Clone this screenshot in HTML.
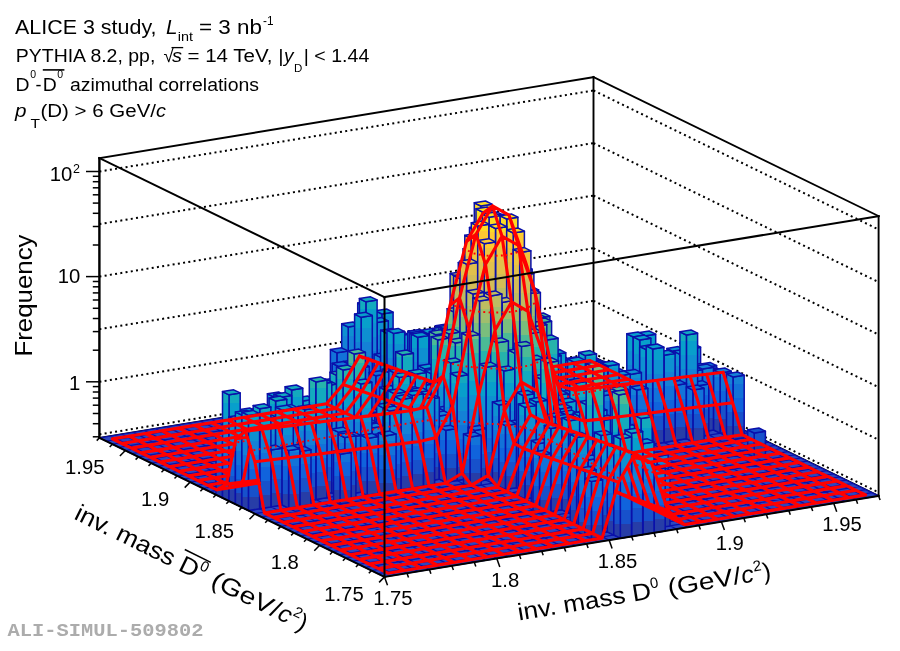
<!DOCTYPE html><html><head><meta charset="utf-8"><title>ALICE 3 D0-D0bar</title><style>html,body{margin:0;padding:0;background:#fff}svg{display:block}</style></head><body><svg width="900" height="651" viewBox="0 0 900 651"><defs><linearGradient id="g" gradientUnits="userSpaceOnUse" x1="0" y1="0" x2="0" y2="-279.8"><stop offset="0.0000" stop-color="#273da7"/><stop offset="0.0500" stop-color="#273da7"/><stop offset="0.0500" stop-color="#1751cb"/><stop offset="0.1000" stop-color="#1751cb"/><stop offset="0.1000" stop-color="#1063dc"/><stop offset="0.1500" stop-color="#1063dc"/><stop offset="0.1500" stop-color="#1272d9"/><stop offset="0.2000" stop-color="#1272d9"/><stop offset="0.2000" stop-color="#1481d6"/><stop offset="0.2500" stop-color="#1481d6"/><stop offset="0.2500" stop-color="#0e90d1"/><stop offset="0.3000" stop-color="#0e90d1"/><stop offset="0.3000" stop-color="#089fcb"/><stop offset="0.3500" stop-color="#089fcb"/><stop offset="0.3500" stop-color="#13aabe"/><stop offset="0.4000" stop-color="#13aabe"/><stop offset="0.4000" stop-color="#26b3ab"/><stop offset="0.4500" stop-color="#26b3ab"/><stop offset="0.4500" stop-color="#4bba95"/><stop offset="0.5000" stop-color="#4bba95"/><stop offset="0.5000" stop-color="#7abe7d"/><stop offset="0.5500" stop-color="#7abe7d"/><stop offset="0.5500" stop-color="#a0be6d"/><stop offset="0.6000" stop-color="#a0be6d"/><stop offset="0.6000" stop-color="#bdbc61"/><stop offset="0.6500" stop-color="#bdbc61"/><stop offset="0.6500" stop-color="#d3bc57"/><stop offset="0.7000" stop-color="#d3bc57"/><stop offset="0.7000" stop-color="#e1c04c"/><stop offset="0.7500" stop-color="#e1c04c"/><stop offset="0.7500" stop-color="#efc43f"/><stop offset="0.8000" stop-color="#efc43f"/><stop offset="0.8000" stop-color="#fec932"/><stop offset="0.8500" stop-color="#fec932"/><stop offset="0.8500" stop-color="#fcdc24"/><stop offset="0.9000" stop-color="#fcdc24"/><stop offset="0.9000" stop-color="#faf015"/><stop offset="0.9500" stop-color="#faf015"/><stop offset="0.9500" stop-color="#f9fb0e"/><stop offset="1.0000" stop-color="#f9fb0e"/></linearGradient></defs><style>.s{fill:url(#g);stroke:#0a10aa;stroke-width:1.5;stroke-linejoin:round}.t{stroke:#0a10aa;stroke-width:1.5;stroke-linejoin:round}</style>
<g stroke="#000" stroke-width="1.9" fill="none" stroke-linecap="square">
<line x1="99.4" y1="158.1" x2="593.5" y2="77.1" />
<line x1="593.5" y1="77.1" x2="878.6" y2="216.1" />
<line x1="99.4" y1="437.9" x2="99.4" y2="158.1" />
<line x1="593.5" y1="356.9" x2="593.5" y2="77.1" />
<line x1="878.6" y1="495.9" x2="878.6" y2="216.1" />
<line x1="99.4" y1="437.9" x2="593.5" y2="356.9" />
<line x1="593.5" y1="356.9" x2="878.6" y2="495.9" />
</g>
<g stroke="#000" stroke-width="2" stroke-dasharray="2 3.3" fill="none">
<line x1="99.4" y1="434.4" x2="593.5" y2="353.4" />
<line x1="593.5" y1="353.4" x2="878.6" y2="492.4" />
<line x1="99.4" y1="381.8" x2="593.5" y2="300.8" />
<line x1="593.5" y1="300.8" x2="878.6" y2="439.8" />
<line x1="99.4" y1="329.2" x2="593.5" y2="248.2" />
<line x1="593.5" y1="248.2" x2="878.6" y2="387.2" />
<line x1="99.4" y1="276.6" x2="593.5" y2="195.6" />
<line x1="593.5" y1="195.6" x2="878.6" y2="334.6" />
<line x1="99.4" y1="224.1" x2="593.5" y2="143.1" />
<line x1="593.5" y1="143.1" x2="878.6" y2="282.1" />
<line x1="99.4" y1="171.5" x2="593.5" y2="90.5" />
<line x1="593.5" y1="90.5" x2="878.6" y2="229.5" />
</g>
<path d="M384.5 576.9 L878.6 495.9 L593.5 356.9 L99.4 437.9Z" fill="#2c46c0"/>
<path d="M384.5 576.9 L99.4 437.9M384.5 576.9 L878.6 495.9M395.7 575.1 L110.6 436.1M378 573.7 L872.1 492.7M407 573.2 L121.9 434.2M371.5 570.6 L865.6 489.6M418.2 571.4 L133.1 432.4M365.1 567.4 L859.2 486.4M429.4 569.5 L144.3 430.5M358.6 564.3 L852.7 483.3M440.6 567.7 L155.5 428.7M352.1 561.1 L846.2 480.1M451.9 565.9 L166.8 426.9M345.6 557.9 L839.7 476.9M463.1 564 L178 425M339.1 554.8 L833.2 473.8M474.3 562.2 L189.2 423.2M332.7 551.6 L826.8 470.6M485.6 560.3 L200.5 421.3M326.2 548.5 L820.3 467.5M496.8 558.5 L211.7 419.5M319.7 545.3 L813.8 464.3M508 556.6 L222.9 417.6M313.2 542.1 L807.3 461.1M519.3 554.8 L234.2 415.8M306.7 539 L800.8 458M530.5 553 L245.4 414M300.3 535.8 L794.4 454.8M541.7 551.1 L256.6 412.1M293.8 532.7 L787.9 451.7M552.9 549.3 L267.8 410.3M287.3 529.5 L781.4 448.5M564.2 547.4 L279.1 408.4M280.8 526.4 L774.9 445.4M575.4 545.6 L290.3 406.6M274.3 523.2 L768.4 442.2M586.6 543.8 L301.5 404.8M267.9 520 L762 439M597.9 541.9 L312.8 402.9M261.4 516.9 L755.5 435.9M609.1 540.1 L324 401.1M254.9 513.7 L749 432.7M620.3 538.2 L335.2 399.2M248.4 510.6 L742.5 429.6M631.5 536.4 L346.4 397.4M241.9 507.4 L736 426.4M642.8 534.6 L357.7 395.6M235.5 504.2 L729.6 423.2M654 532.7 L368.9 393.7M229 501.1 L723.1 420.1M665.2 530.9 L380.1 391.9M222.5 497.9 L716.6 416.9M676.5 529 L391.4 390M216 494.8 L710.1 413.8M687.7 527.2 L402.6 388.2M209.6 491.6 L703.7 410.6M698.9 525.4 L413.8 386.4M203.1 488.4 L697.2 407.4M710.2 523.5 L425.1 384.5M196.6 485.3 L690.7 404.3M721.4 521.7 L436.3 382.7M190.1 482.1 L684.2 401.1M732.6 519.8 L447.5 380.8M183.6 479 L677.7 398M743.8 518 L458.7 379M177.2 475.8 L671.3 394.8M755.1 516.1 L470 377.1M170.7 472.6 L664.8 391.6M766.3 514.3 L481.2 375.3M164.2 469.5 L658.3 388.5M777.5 512.5 L492.4 373.5M157.7 466.3 L651.8 385.3M788.8 510.6 L503.7 371.6M151.2 463.2 L645.3 382.2M800 508.8 L514.9 369.8M144.8 460 L638.9 379M811.2 506.9 L526.1 367.9M138.3 456.9 L632.4 375.9M822.5 505.1 L537.4 366.1M131.8 453.7 L625.9 372.7M833.7 503.3 L548.6 364.3M125.3 450.5 L619.4 369.5M844.9 501.4 L559.8 362.4M118.8 447.4 L612.9 366.4M856.1 499.6 L571 360.6M112.4 444.2 L606.5 363.2M867.4 497.7 L582.3 358.7M105.9 441.1 L600 360.1M878.6 495.9 L593.5 356.9M99.4 437.9 L593.5 356.9" stroke="#0a10aa" stroke-width="1.2" fill="none"/>
<g transform="translate(364.2 398.7)"><path class="s" d="M0 0l11.2 -1.8 v-92.5 l-11.2 1.8z"/><path class="s" d="M0 0l-6.5 -3.2 v-92.5 l6.5 3.2z"/><path class="t" fill="#089fcb" d="M0 -92.5 l11.2 -1.8 l-6.5 -3.2 l-11.2 1.8z"/></g>
<g transform="translate(352.9 400.6)"><path class="s" d="M0 0l11.2 -1.8 v-54.1 l-11.2 1.8z"/><path class="s" d="M0 0l-6.5 -3.2 v-54.1 l6.5 3.2z"/><path class="t" fill="#1272d9" d="M0 -54.1 l11.2 -1.8 l-6.5 -3.2 l-11.2 1.8z"/></g>
<g transform="translate(330.5 404.2)"><path class="s" d="M0 0l11.2 -1.8 v-20.1 l-11.2 1.8z"/><path class="s" d="M0 0l-6.5 -3.2 v-20.1 l6.5 3.2z"/><path class="t" fill="#1751cb" d="M0 -20.1 l11.2 -1.8 l-6.5 -3.2 l-11.2 1.8z"/></g>
<g transform="translate(381.9 400)"><path class="s" d="M0 0l11.2 -1.8 v-86 l-11.2 1.8z"/><path class="s" d="M0 0l-6.5 -3.2 v-86 l6.5 3.2z"/><path class="t" fill="#089fcb" d="M0 -86 l11.2 -1.8 l-6.5 -3.2 l-11.2 1.8z"/></g>
<g transform="translate(348.2 405.6)"><path class="s" d="M0 0l11.2 -1.8 v-78.6 l-11.2 1.8z"/><path class="s" d="M0 0l-6.5 -3.2 v-78.6 l6.5 3.2z"/><path class="t" fill="#0e90d1" d="M0 -78.6 l11.2 -1.8 l-6.5 -3.2 l-11.2 1.8z"/></g>
<g transform="translate(336.9 407.4)"><path class="s" d="M0 0l11.2 -1.8 v-54.6 l-11.2 1.8z"/><path class="s" d="M0 0l-6.5 -3.2 v-54.6 l6.5 3.2z"/><path class="t" fill="#1272d9" d="M0 -54.6 l11.2 -1.8 l-6.5 -3.2 l-11.2 1.8z"/></g>
<g transform="translate(325.7 409.2)"><path class="s" d="M0 0l11.2 -1.8 v-25.5 l-11.2 1.8z"/><path class="s" d="M0 0l-6.5 -3.2 v-25.5 l6.5 3.2z"/><path class="t" fill="#1751cb" d="M0 -25.5 l11.2 -1.8 l-6.5 -3.2 l-11.2 1.8z"/></g>
<g transform="translate(388.3 403.2)"><path class="s" d="M0 0l11.2 -1.8 v-55.9 l-11.2 1.8z"/><path class="s" d="M0 0l-6.5 -3.2 v-55.9 l6.5 3.2z"/><path class="t" fill="#1272d9" d="M0 -55.9 l11.2 -1.8 l-6.5 -3.2 l-11.2 1.8z"/></g>
<g transform="translate(377.1 405)"><path class="s" d="M0 0l11.2 -1.8 v-82.4 l-11.2 1.8z"/><path class="s" d="M0 0l-6.5 -3.2 v-82.4 l6.5 3.2z"/><path class="t" fill="#0e90d1" d="M0 -82.4 l11.2 -1.8 l-6.5 -3.2 l-11.2 1.8z"/></g>
<g transform="translate(365.9 406.9)"><path class="s" d="M0 0l11.2 -1.8 v-105.1 l-11.2 1.8z"/><path class="s" d="M0 0l-6.5 -3.2 v-105.1 l6.5 3.2z"/><path class="t" fill="#13aabe" d="M0 -105.1 l11.2 -1.8 l-6.5 -3.2 l-11.2 1.8z"/></g>
<g transform="translate(417.3 402.7)"><path class="s" d="M0 0l11.2 -1.8 v-60.5 l-11.2 1.8z"/><path class="s" d="M0 0l-6.5 -3.2 v-60.5 l6.5 3.2z"/><path class="t" fill="#1481d6" d="M0 -60.5 l11.2 -1.8 l-6.5 -3.2 l-11.2 1.8z"/></g>
<g transform="translate(394.8 406.4)"><path class="s" d="M0 0l11.2 -1.8 v-60.2 l-11.2 1.8z"/><path class="s" d="M0 0l-6.5 -3.2 v-60.2 l6.5 3.2z"/><path class="t" fill="#1481d6" d="M0 -60.2 l11.2 -1.8 l-6.5 -3.2 l-11.2 1.8z"/></g>
<g transform="translate(361.1 411.9)"><path class="s" d="M0 0l11.2 -1.8 v-94.6 l-11.2 1.8z"/><path class="s" d="M0 0l-6.5 -3.2 v-94.6 l6.5 3.2z"/><path class="t" fill="#089fcb" d="M0 -94.6 l11.2 -1.8 l-6.5 -3.2 l-11.2 1.8z"/></g>
<g transform="translate(349.9 413.7)"><path class="s" d="M0 0l11.2 -1.8 v-48.9 l-11.2 1.8z"/><path class="s" d="M0 0l-6.5 -3.2 v-48.9 l6.5 3.2z"/><path class="t" fill="#1272d9" d="M0 -48.9 l11.2 -1.8 l-6.5 -3.2 l-11.2 1.8z"/></g>
<g transform="translate(338.7 415.6)"><path class="s" d="M0 0l11.2 -1.8 v-49.1 l-11.2 1.8z"/><path class="s" d="M0 0l-6.5 -3.2 v-49.1 l6.5 3.2z"/><path class="t" fill="#1272d9" d="M0 -49.1 l11.2 -1.8 l-6.5 -3.2 l-11.2 1.8z"/></g>
<g transform="translate(390.1 411.4)"><path class="s" d="M0 0l11.2 -1.8 v-75.7 l-11.2 1.8z"/><path class="s" d="M0 0l-6.5 -3.2 v-75.7 l6.5 3.2z"/><path class="t" fill="#0e90d1" d="M0 -75.7 l11.2 -1.8 l-6.5 -3.2 l-11.2 1.8z"/></g>
<g transform="translate(396.6 414.5)"><path class="s" d="M0 0l11.2 -1.8 v-78.5 l-11.2 1.8z"/><path class="s" d="M0 0l-6.5 -3.2 v-78.5 l6.5 3.2z"/><path class="t" fill="#0e90d1" d="M0 -78.5 l11.2 -1.8 l-6.5 -3.2 l-11.2 1.8z"/></g>
<g transform="translate(436.7 412.1)"><path class="s" d="M0 0l11.2 -1.8 v-54.1 l-11.2 1.8z"/><path class="s" d="M0 0l-6.5 -3.2 v-54.1 l6.5 3.2z"/><path class="t" fill="#1272d9" d="M0 -54.1 l11.2 -1.8 l-6.5 -3.2 l-11.2 1.8z"/></g>
<g transform="translate(425.5 414)"><path class="s" d="M0 0l11.2 -1.8 v-52.8 l-11.2 1.8z"/><path class="s" d="M0 0l-6.5 -3.2 v-52.8 l6.5 3.2z"/><path class="t" fill="#1272d9" d="M0 -52.8 l11.2 -1.8 l-6.5 -3.2 l-11.2 1.8z"/></g>
<g transform="translate(414.3 415.8)"><path class="s" d="M0 0l11.2 -1.8 v-81.3 l-11.2 1.8z"/><path class="s" d="M0 0l-6.5 -3.2 v-81.3 l6.5 3.2z"/><path class="t" fill="#0e90d1" d="M0 -81.3 l11.2 -1.8 l-6.5 -3.2 l-11.2 1.8z"/></g>
<g transform="translate(403 417.7)"><path class="s" d="M0 0l11.2 -1.8 v-60.8 l-11.2 1.8z"/><path class="s" d="M0 0l-6.5 -3.2 v-60.8 l6.5 3.2z"/><path class="t" fill="#1481d6" d="M0 -60.8 l11.2 -1.8 l-6.5 -3.2 l-11.2 1.8z"/></g>
<g transform="translate(380.6 421.4)"><path class="s" d="M0 0l11.2 -1.8 v-64 l-11.2 1.8z"/><path class="s" d="M0 0l-6.5 -3.2 v-64 l6.5 3.2z"/><path class="t" fill="#1481d6" d="M0 -64 l11.2 -1.8 l-6.5 -3.2 l-11.2 1.8z"/></g>
<g transform="translate(358.1 425)"><path class="s" d="M0 0l11.2 -1.8 v-56.8 l-11.2 1.8z"/><path class="s" d="M0 0l-6.5 -3.2 v-56.8 l6.5 3.2z"/><path class="t" fill="#1481d6" d="M0 -56.8 l11.2 -1.8 l-6.5 -3.2 l-11.2 1.8z"/></g>
<g transform="translate(409.5 420.8)"><path class="s" d="M0 0l11.2 -1.8 v-63.2 l-11.2 1.8z"/><path class="s" d="M0 0l-6.5 -3.2 v-63.2 l6.5 3.2z"/><path class="t" fill="#1481d6" d="M0 -63.2 l11.2 -1.8 l-6.5 -3.2 l-11.2 1.8z"/></g>
<g transform="translate(387.1 424.5)"><path class="s" d="M0 0l11.2 -1.8 v-91.1 l-11.2 1.8z"/><path class="s" d="M0 0l-6.5 -3.2 v-91.1 l6.5 3.2z"/><path class="t" fill="#089fcb" d="M0 -91.1 l11.2 -1.8 l-6.5 -3.2 l-11.2 1.8z"/></g>
<g transform="translate(375.8 426.4)"><path class="s" d="M0 0l11.2 -1.8 v-50.6 l-11.2 1.8z"/><path class="s" d="M0 0l-6.5 -3.2 v-50.6 l6.5 3.2z"/><path class="t" fill="#1272d9" d="M0 -50.6 l11.2 -1.8 l-6.5 -3.2 l-11.2 1.8z"/></g>
<g transform="translate(438.5 420.3)"><path class="s" d="M0 0l11.2 -1.8 v-49.5 l-11.2 1.8z"/><path class="s" d="M0 0l-6.5 -3.2 v-49.5 l6.5 3.2z"/><path class="t" fill="#1272d9" d="M0 -49.5 l11.2 -1.8 l-6.5 -3.2 l-11.2 1.8z"/></g>
<g transform="translate(427.2 422.2)"><path class="s" d="M0 0l11.2 -1.8 v-88.8 l-11.2 1.8z"/><path class="s" d="M0 0l-6.5 -3.2 v-88.8 l6.5 3.2z"/><path class="t" fill="#089fcb" d="M0 -88.8 l11.2 -1.8 l-6.5 -3.2 l-11.2 1.8z"/></g>
<g transform="translate(416 424)"><path class="s" d="M0 0l11.2 -1.8 v-88 l-11.2 1.8z"/><path class="s" d="M0 0l-6.5 -3.2 v-88 l6.5 3.2z"/><path class="t" fill="#089fcb" d="M0 -88 l11.2 -1.8 l-6.5 -3.2 l-11.2 1.8z"/></g>
<g transform="translate(404.8 425.8)"><path class="s" d="M0 0l11.2 -1.8 v-51.8 l-11.2 1.8z"/><path class="s" d="M0 0l-6.5 -3.2 v-51.8 l6.5 3.2z"/><path class="t" fill="#1272d9" d="M0 -51.8 l11.2 -1.8 l-6.5 -3.2 l-11.2 1.8z"/></g>
<g transform="translate(393.5 427.7)"><path class="s" d="M0 0l11.2 -1.8 v-94.3 l-11.2 1.8z"/><path class="s" d="M0 0l-6.5 -3.2 v-94.3 l6.5 3.2z"/><path class="t" fill="#089fcb" d="M0 -94.3 l11.2 -1.8 l-6.5 -3.2 l-11.2 1.8z"/></g>
<g transform="translate(456.2 421.6)"><path class="s" d="M0 0l11.2 -1.8 v-55 l-11.2 1.8z"/><path class="s" d="M0 0l-6.5 -3.2 v-55 l6.5 3.2z"/><path class="t" fill="#1272d9" d="M0 -55 l11.2 -1.8 l-6.5 -3.2 l-11.2 1.8z"/></g>
<g transform="translate(444.9 423.5)"><path class="s" d="M0 0l11.2 -1.8 v-94.1 l-11.2 1.8z"/><path class="s" d="M0 0l-6.5 -3.2 v-94.1 l6.5 3.2z"/><path class="t" fill="#089fcb" d="M0 -94.1 l11.2 -1.8 l-6.5 -3.2 l-11.2 1.8z"/></g>
<g transform="translate(433.7 425.3)"><path class="s" d="M0 0l11.2 -1.8 v-87.2 l-11.2 1.8z"/><path class="s" d="M0 0l-6.5 -3.2 v-87.2 l6.5 3.2z"/><path class="t" fill="#089fcb" d="M0 -87.2 l11.2 -1.8 l-6.5 -3.2 l-11.2 1.8z"/></g>
<g transform="translate(422.5 427.1)"><path class="s" d="M0 0l11.2 -1.8 v-61.1 l-11.2 1.8z"/><path class="s" d="M0 0l-6.5 -3.2 v-61.1 l6.5 3.2z"/><path class="t" fill="#1481d6" d="M0 -61.1 l11.2 -1.8 l-6.5 -3.2 l-11.2 1.8z"/></g>
<g transform="translate(388.8 432.7)"><path class="s" d="M0 0l11.2 -1.8 v-60.2 l-11.2 1.8z"/><path class="s" d="M0 0l-6.5 -3.2 v-60.2 l6.5 3.2z"/><path class="t" fill="#1481d6" d="M0 -60.2 l11.2 -1.8 l-6.5 -3.2 l-11.2 1.8z"/></g>
<g transform="translate(462.6 424.8)"><path class="s" d="M0 0l11.2 -1.8 v-53.7 l-11.2 1.8z"/><path class="s" d="M0 0l-6.5 -3.2 v-53.7 l6.5 3.2z"/><path class="t" fill="#1272d9" d="M0 -53.7 l11.2 -1.8 l-6.5 -3.2 l-11.2 1.8z"/></g>
<g transform="translate(440.2 428.5)"><path class="s" d="M0 0l11.2 -1.8 v-94.7 l-11.2 1.8z"/><path class="s" d="M0 0l-6.5 -3.2 v-94.7 l6.5 3.2z"/><path class="t" fill="#089fcb" d="M0 -94.7 l11.2 -1.8 l-6.5 -3.2 l-11.2 1.8z"/></g>
<g transform="translate(429 430.3)"><path class="s" d="M0 0l11.2 -1.8 v-85.7 l-11.2 1.8z"/><path class="s" d="M0 0l-6.5 -3.2 v-85.7 l6.5 3.2z"/><path class="t" fill="#089fcb" d="M0 -85.7 l11.2 -1.8 l-6.5 -3.2 l-11.2 1.8z"/></g>
<g transform="translate(417.7 432.1)"><path class="s" d="M0 0l11.2 -1.8 v-94.8 l-11.2 1.8z"/><path class="s" d="M0 0l-6.5 -3.2 v-94.8 l6.5 3.2z"/><path class="t" fill="#089fcb" d="M0 -94.8 l11.2 -1.8 l-6.5 -3.2 l-11.2 1.8z"/></g>
<g transform="translate(395.3 435.8)"><path class="s" d="M0 0l11.2 -1.8 v-62.5 l-11.2 1.8z"/><path class="s" d="M0 0l-6.5 -3.2 v-62.5 l6.5 3.2z"/><path class="t" fill="#1481d6" d="M0 -62.5 l11.2 -1.8 l-6.5 -3.2 l-11.2 1.8z"/></g>
<g transform="translate(446.7 431.6)"><path class="s" d="M0 0l11.2 -1.8 v-94.1 l-11.2 1.8z"/><path class="s" d="M0 0l-6.5 -3.2 v-94.1 l6.5 3.2z"/><path class="t" fill="#089fcb" d="M0 -94.1 l11.2 -1.8 l-6.5 -3.2 l-11.2 1.8z"/></g>
<g transform="translate(435.4 433.5)"><path class="s" d="M0 0l11.2 -1.8 v-61.5 l-11.2 1.8z"/><path class="s" d="M0 0l-6.5 -3.2 v-61.5 l6.5 3.2z"/><path class="t" fill="#1481d6" d="M0 -61.5 l11.2 -1.8 l-6.5 -3.2 l-11.2 1.8z"/></g>
<g transform="translate(424.2 435.3)"><path class="s" d="M0 0l11.2 -1.8 v-62.4 l-11.2 1.8z"/><path class="s" d="M0 0l-6.5 -3.2 v-62.4 l6.5 3.2z"/><path class="t" fill="#1481d6" d="M0 -62.4 l11.2 -1.8 l-6.5 -3.2 l-11.2 1.8z"/></g>
<g transform="translate(413 437.1)"><path class="s" d="M0 0l11.2 -1.8 v-54.3 l-11.2 1.8z"/><path class="s" d="M0 0l-6.5 -3.2 v-54.3 l6.5 3.2z"/><path class="t" fill="#1272d9" d="M0 -54.3 l11.2 -1.8 l-6.5 -3.2 l-11.2 1.8z"/></g>
<g transform="translate(464.4 432.9)"><path class="s" d="M0 0l11.2 -1.8 v-58.1 l-11.2 1.8z"/><path class="s" d="M0 0l-6.5 -3.2 v-58.1 l6.5 3.2z"/><path class="t" fill="#1481d6" d="M0 -58.1 l11.2 -1.8 l-6.5 -3.2 l-11.2 1.8z"/></g>
<g transform="translate(453.1 434.8)"><path class="s" d="M0 0l11.2 -1.8 v-52.9 l-11.2 1.8z"/><path class="s" d="M0 0l-6.5 -3.2 v-52.9 l6.5 3.2z"/><path class="t" fill="#1272d9" d="M0 -52.9 l11.2 -1.8 l-6.5 -3.2 l-11.2 1.8z"/></g>
<g transform="translate(441.9 436.6)"><path class="s" d="M0 0l11.2 -1.8 v-107.6 l-11.2 1.8z"/><path class="s" d="M0 0l-6.5 -3.2 v-107.6 l6.5 3.2z"/><path class="t" fill="#13aabe" d="M0 -107.6 l11.2 -1.8 l-6.5 -3.2 l-11.2 1.8z"/></g>
<g transform="translate(430.7 438.5)"><path class="s" d="M0 0l11.2 -1.8 v-63.7 l-11.2 1.8z"/><path class="s" d="M0 0l-6.5 -3.2 v-63.7 l6.5 3.2z"/><path class="t" fill="#1481d6" d="M0 -63.7 l11.2 -1.8 l-6.5 -3.2 l-11.2 1.8z"/></g>
<g transform="translate(419.5 440.3)"><path class="s" d="M0 0l11.2 -1.8 v-59.6 l-11.2 1.8z"/><path class="s" d="M0 0l-6.5 -3.2 v-59.6 l6.5 3.2z"/><path class="t" fill="#1481d6" d="M0 -59.6 l11.2 -1.8 l-6.5 -3.2 l-11.2 1.8z"/></g>
<g transform="translate(448.4 439.8)"><path class="s" d="M0 0l11.2 -1.8 v-63 l-11.2 1.8z"/><path class="s" d="M0 0l-6.5 -3.2 v-63 l6.5 3.2z"/><path class="t" fill="#1481d6" d="M0 -63 l11.2 -1.8 l-6.5 -3.2 l-11.2 1.8z"/></g>
<g transform="translate(437.2 441.6)"><path class="s" d="M0 0l11.2 -1.8 v-56.4 l-11.2 1.8z"/><path class="s" d="M0 0l-6.5 -3.2 v-56.4 l6.5 3.2z"/><path class="t" fill="#1481d6" d="M0 -56.4 l11.2 -1.8 l-6.5 -3.2 l-11.2 1.8z"/></g>
<g transform="translate(414.7 445.3)"><path class="s" d="M0 0l11.2 -1.8 v-54.9 l-11.2 1.8z"/><path class="s" d="M0 0l-6.5 -3.2 v-54.9 l6.5 3.2z"/><path class="t" fill="#1272d9" d="M0 -54.9 l11.2 -1.8 l-6.5 -3.2 l-11.2 1.8z"/></g>
<g transform="translate(488.6 437.4)"><path class="s" d="M0 0l11.2 -1.8 v-62.2 l-11.2 1.8z"/><path class="s" d="M0 0l-6.5 -3.2 v-62.2 l6.5 3.2z"/><path class="t" fill="#1481d6" d="M0 -62.2 l11.2 -1.8 l-6.5 -3.2 l-11.2 1.8z"/></g>
<g transform="translate(466.1 441.1)"><path class="s" d="M0 0l11.2 -1.8 v-56.7 l-11.2 1.8z"/><path class="s" d="M0 0l-6.5 -3.2 v-56.7 l6.5 3.2z"/><path class="t" fill="#1481d6" d="M0 -56.7 l11.2 -1.8 l-6.5 -3.2 l-11.2 1.8z"/></g>
<g transform="translate(454.9 442.9)"><path class="s" d="M0 0l11.2 -1.8 v-115.3 l-11.2 1.8z"/><path class="s" d="M0 0l-6.5 -3.2 v-115.3 l6.5 3.2z"/><path class="t" fill="#26b3ab" d="M0 -115.3 l11.2 -1.8 l-6.5 -3.2 l-11.2 1.8z"/></g>
<g transform="translate(443.6 444.8)"><path class="s" d="M0 0l11.2 -1.8 v-111.2 l-11.2 1.8z"/><path class="s" d="M0 0l-6.5 -3.2 v-111.2 l6.5 3.2z"/><path class="t" fill="#13aabe" d="M0 -111.2 l11.2 -1.8 l-6.5 -3.2 l-11.2 1.8z"/></g>
<g transform="translate(495 440.6)"><path class="s" d="M0 0l11.2 -1.8 v-55.3 l-11.2 1.8z"/><path class="s" d="M0 0l-6.5 -3.2 v-55.3 l6.5 3.2z"/><path class="t" fill="#1272d9" d="M0 -55.3 l11.2 -1.8 l-6.5 -3.2 l-11.2 1.8z"/></g>
<g transform="translate(461.4 446.1)"><path class="s" d="M0 0l11.2 -1.8 v-90.3 l-11.2 1.8z"/><path class="s" d="M0 0l-6.5 -3.2 v-90.3 l6.5 3.2z"/><path class="t" fill="#089fcb" d="M0 -90.3 l11.2 -1.8 l-6.5 -3.2 l-11.2 1.8z"/></g>
<g transform="translate(438.9 449.8)"><path class="s" d="M0 0l11.2 -1.8 v-118 l-11.2 1.8z"/><path class="s" d="M0 0l-6.5 -3.2 v-118 l6.5 3.2z"/><path class="t" fill="#26b3ab" d="M0 -118 l11.2 -1.8 l-6.5 -3.2 l-11.2 1.8z"/></g>
<g transform="translate(416.4 453.5)"><path class="s" d="M0 0l11.2 -1.8 v-59.7 l-11.2 1.8z"/><path class="s" d="M0 0l-6.5 -3.2 v-59.7 l6.5 3.2z"/><path class="t" fill="#1481d6" d="M0 -59.7 l11.2 -1.8 l-6.5 -3.2 l-11.2 1.8z"/></g>
<g transform="translate(501.5 443.7)"><path class="s" d="M0 0l11.2 -1.8 v-55.4 l-11.2 1.8z"/><path class="s" d="M0 0l-6.5 -3.2 v-55.4 l6.5 3.2z"/><path class="t" fill="#1272d9" d="M0 -55.4 l11.2 -1.8 l-6.5 -3.2 l-11.2 1.8z"/></g>
<g transform="translate(490.3 445.6)"><path class="s" d="M0 0l11.2 -1.8 v-53.8 l-11.2 1.8z"/><path class="s" d="M0 0l-6.5 -3.2 v-53.8 l6.5 3.2z"/><path class="t" fill="#1272d9" d="M0 -53.8 l11.2 -1.8 l-6.5 -3.2 l-11.2 1.8z"/></g>
<g transform="translate(467.8 449.3)"><path class="s" d="M0 0l11.2 -1.8 v-92.3 l-11.2 1.8z"/><path class="s" d="M0 0l-6.5 -3.2 v-92.3 l6.5 3.2z"/><path class="t" fill="#089fcb" d="M0 -92.3 l11.2 -1.8 l-6.5 -3.2 l-11.2 1.8z"/></g>
<g transform="translate(456.6 451.1)"><path class="s" d="M0 0l11.2 -1.8 v-174.4 l-11.2 1.8z"/><path class="s" d="M0 0l-6.5 -3.2 v-174.4 l6.5 3.2z"/><path class="t" fill="#bdbc61" d="M0 -174.4 l11.2 -1.8 l-6.5 -3.2 l-11.2 1.8z"/></g>
<g transform="translate(445.4 452.9)"><path class="s" d="M0 0l11.2 -1.8 v-123.2 l-11.2 1.8z"/><path class="s" d="M0 0l-6.5 -3.2 v-123.2 l6.5 3.2z"/><path class="t" fill="#26b3ab" d="M0 -123.2 l11.2 -1.8 l-6.5 -3.2 l-11.2 1.8z"/></g>
<g transform="translate(422.9 456.6)"><path class="s" d="M0 0l11.2 -1.8 v-58.5 l-11.2 1.8z"/><path class="s" d="M0 0l-6.5 -3.2 v-58.5 l6.5 3.2z"/><path class="t" fill="#1481d6" d="M0 -58.5 l11.2 -1.8 l-6.5 -3.2 l-11.2 1.8z"/></g>
<g transform="translate(620.3 428.5)"><path class="s" d="M0 0l11.2 -1.8 v-52.1 l-11.2 1.8z"/><path class="s" d="M0 0l-6.5 -3.2 v-52.1 l6.5 3.2z"/><path class="t" fill="#1272d9" d="M0 -52.1 l11.2 -1.8 l-6.5 -3.2 l-11.2 1.8z"/></g>
<g transform="translate(519.2 445.1)"><path class="s" d="M0 0l11.2 -1.8 v-57.5 l-11.2 1.8z"/><path class="s" d="M0 0l-6.5 -3.2 v-57.5 l6.5 3.2z"/><path class="t" fill="#1481d6" d="M0 -57.5 l11.2 -1.8 l-6.5 -3.2 l-11.2 1.8z"/></g>
<g transform="translate(496.8 448.7)"><path class="s" d="M0 0l11.2 -1.8 v-104.1 l-11.2 1.8z"/><path class="s" d="M0 0l-6.5 -3.2 v-104.1 l6.5 3.2z"/><path class="t" fill="#13aabe" d="M0 -104.1 l11.2 -1.8 l-6.5 -3.2 l-11.2 1.8z"/></g>
<g transform="translate(485.5 450.6)"><path class="s" d="M0 0l11.2 -1.8 v-168.4 l-11.2 1.8z"/><path class="s" d="M0 0l-6.5 -3.2 v-168.4 l6.5 3.2z"/><path class="t" fill="#bdbc61" d="M0 -168.4 l11.2 -1.8 l-6.5 -3.2 l-11.2 1.8z"/></g>
<g transform="translate(474.3 452.4)"><path class="s" d="M0 0l11.2 -1.8 v-155.1 l-11.2 1.8z"/><path class="s" d="M0 0l-6.5 -3.2 v-155.1 l6.5 3.2z"/><path class="t" fill="#a0be6d" d="M0 -155.1 l11.2 -1.8 l-6.5 -3.2 l-11.2 1.8z"/></g>
<g transform="translate(463.1 454.3)"><path class="s" d="M0 0l11.2 -1.8 v-123.2 l-11.2 1.8z"/><path class="s" d="M0 0l-6.5 -3.2 v-123.2 l6.5 3.2z"/><path class="t" fill="#26b3ab" d="M0 -123.2 l11.2 -1.8 l-6.5 -3.2 l-11.2 1.8z"/></g>
<g transform="translate(451.9 456.1)"><path class="s" d="M0 0l11.2 -1.8 v-127.2 l-11.2 1.8z"/><path class="s" d="M0 0l-6.5 -3.2 v-127.2 l6.5 3.2z"/><path class="t" fill="#4bba95" d="M0 -127.2 l11.2 -1.8 l-6.5 -3.2 l-11.2 1.8z"/></g>
<g transform="translate(440.6 457.9)"><path class="s" d="M0 0l11.2 -1.8 v-80.5 l-11.2 1.8z"/><path class="s" d="M0 0l-6.5 -3.2 v-80.5 l6.5 3.2z"/><path class="t" fill="#0e90d1" d="M0 -80.5 l11.2 -1.8 l-6.5 -3.2 l-11.2 1.8z"/></g>
<g transform="translate(429.4 459.8)"><path class="s" d="M0 0l11.2 -1.8 v-81.7 l-11.2 1.8z"/><path class="s" d="M0 0l-6.5 -3.2 v-81.7 l6.5 3.2z"/><path class="t" fill="#0e90d1" d="M0 -81.7 l11.2 -1.8 l-6.5 -3.2 l-11.2 1.8z"/></g>
<g transform="translate(373.2 469)"><path class="s" d="M0 0l11.2 -1.8 v-51.1 l-11.2 1.8z"/><path class="s" d="M0 0l-6.5 -3.2 v-51.1 l6.5 3.2z"/><path class="t" fill="#1272d9" d="M0 -51.1 l11.2 -1.8 l-6.5 -3.2 l-11.2 1.8z"/></g>
<g transform="translate(272.2 485.6)"><path class="s" d="M0 0l11.2 -1.8 v-49.2 l-11.2 1.8z"/><path class="s" d="M0 0l-6.5 -3.2 v-49.2 l6.5 3.2z"/><path class="t" fill="#1272d9" d="M0 -49.2 l11.2 -1.8 l-6.5 -3.2 l-11.2 1.8z"/></g>
<g transform="translate(705.4 418.8)"><path class="s" d="M0 0l11.2 -1.8 v-51.4 l-11.2 1.8z"/><path class="s" d="M0 0l-6.5 -3.2 v-51.4 l6.5 3.2z"/><path class="t" fill="#1272d9" d="M0 -51.4 l11.2 -1.8 l-6.5 -3.2 l-11.2 1.8z"/></g>
<g transform="translate(694.2 420.6)"><path class="s" d="M0 0l11.2 -1.8 v-49.1 l-11.2 1.8z"/><path class="s" d="M0 0l-6.5 -3.2 v-49.1 l6.5 3.2z"/><path class="t" fill="#1272d9" d="M0 -49.1 l11.2 -1.8 l-6.5 -3.2 l-11.2 1.8z"/></g>
<g transform="translate(638 429.8)"><path class="s" d="M0 0l11.2 -1.8 v-86.7 l-11.2 1.8z"/><path class="s" d="M0 0l-6.5 -3.2 v-86.7 l6.5 3.2z"/><path class="t" fill="#089fcb" d="M0 -86.7 l11.2 -1.8 l-6.5 -3.2 l-11.2 1.8z"/></g>
<g transform="translate(626.8 431.6)"><path class="s" d="M0 0l11.2 -1.8 v-54.6 l-11.2 1.8z"/><path class="s" d="M0 0l-6.5 -3.2 v-54.6 l6.5 3.2z"/><path class="t" fill="#1272d9" d="M0 -54.6 l11.2 -1.8 l-6.5 -3.2 l-11.2 1.8z"/></g>
<g transform="translate(615.5 433.5)"><path class="s" d="M0 0l11.2 -1.8 v-59.5 l-11.2 1.8z"/><path class="s" d="M0 0l-6.5 -3.2 v-59.5 l6.5 3.2z"/><path class="t" fill="#1481d6" d="M0 -59.5 l11.2 -1.8 l-6.5 -3.2 l-11.2 1.8z"/></g>
<g transform="translate(593.1 437.2)"><path class="s" d="M0 0l11.2 -1.8 v-66.7 l-11.2 1.8z"/><path class="s" d="M0 0l-6.5 -3.2 v-66.7 l6.5 3.2z"/><path class="t" fill="#1481d6" d="M0 -66.7 l11.2 -1.8 l-6.5 -3.2 l-11.2 1.8z"/></g>
<g transform="translate(570.6 440.9)"><path class="s" d="M0 0l11.2 -1.8 v-78.9 l-11.2 1.8z"/><path class="s" d="M0 0l-6.5 -3.2 v-78.9 l6.5 3.2z"/><path class="t" fill="#0e90d1" d="M0 -78.9 l11.2 -1.8 l-6.5 -3.2 l-11.2 1.8z"/></g>
<g transform="translate(548.2 444.5)"><path class="s" d="M0 0l11.2 -1.8 v-54.1 l-11.2 1.8z"/><path class="s" d="M0 0l-6.5 -3.2 v-54.1 l6.5 3.2z"/><path class="t" fill="#1272d9" d="M0 -54.1 l11.2 -1.8 l-6.5 -3.2 l-11.2 1.8z"/></g>
<g transform="translate(536.9 446.4)"><path class="s" d="M0 0l11.2 -1.8 v-58.3 l-11.2 1.8z"/><path class="s" d="M0 0l-6.5 -3.2 v-58.3 l6.5 3.2z"/><path class="t" fill="#1481d6" d="M0 -58.3 l11.2 -1.8 l-6.5 -3.2 l-11.2 1.8z"/></g>
<g transform="translate(514.5 450.1)"><path class="s" d="M0 0l11.2 -1.8 v-57.8 l-11.2 1.8z"/><path class="s" d="M0 0l-6.5 -3.2 v-57.8 l6.5 3.2z"/><path class="t" fill="#1481d6" d="M0 -57.8 l11.2 -1.8 l-6.5 -3.2 l-11.2 1.8z"/></g>
<g transform="translate(503.2 451.9)"><path class="s" d="M0 0l11.2 -1.8 v-139.8 l-11.2 1.8z"/><path class="s" d="M0 0l-6.5 -3.2 v-139.8 l6.5 3.2z"/><path class="t" fill="#4bba95" d="M0 -139.8 l11.2 -1.8 l-6.5 -3.2 l-11.2 1.8z"/></g>
<g transform="translate(492 453.7)"><path class="s" d="M0 0l11.2 -1.8 v-236.7 l-11.2 1.8z"/><path class="s" d="M0 0l-6.5 -3.2 v-236.7 l6.5 3.2z"/><path class="t" fill="#fec932" d="M0 -236.7 l11.2 -1.8 l-6.5 -3.2 l-11.2 1.8z"/></g>
<g transform="translate(480.8 455.6)"><path class="s" d="M0 0l11.2 -1.8 v-249.6 l-11.2 1.8z"/><path class="s" d="M0 0l-6.5 -3.2 v-249.6 l6.5 3.2z"/><path class="t" fill="#fcdc24" d="M0 -249.6 l11.2 -1.8 l-6.5 -3.2 l-11.2 1.8z"/></g>
<g transform="translate(469.6 457.4)"><path class="s" d="M0 0l11.2 -1.8 v-205.4 l-11.2 1.8z"/><path class="s" d="M0 0l-6.5 -3.2 v-205.4 l6.5 3.2z"/><path class="t" fill="#e1c04c" d="M0 -205.4 l11.2 -1.8 l-6.5 -3.2 l-11.2 1.8z"/></g>
<g transform="translate(458.3 459.3)"><path class="s" d="M0 0l11.2 -1.8 v-131.1 l-11.2 1.8z"/><path class="s" d="M0 0l-6.5 -3.2 v-131.1 l6.5 3.2z"/><path class="t" fill="#4bba95" d="M0 -131.1 l11.2 -1.8 l-6.5 -3.2 l-11.2 1.8z"/></g>
<g transform="translate(447.1 461.1)"><path class="s" d="M0 0l11.2 -1.8 v-129.1 l-11.2 1.8z"/><path class="s" d="M0 0l-6.5 -3.2 v-129.1 l6.5 3.2z"/><path class="t" fill="#4bba95" d="M0 -129.1 l11.2 -1.8 l-6.5 -3.2 l-11.2 1.8z"/></g>
<g transform="translate(435.9 462.9)"><path class="s" d="M0 0l11.2 -1.8 v-128.1 l-11.2 1.8z"/><path class="s" d="M0 0l-6.5 -3.2 v-128.1 l6.5 3.2z"/><path class="t" fill="#4bba95" d="M0 -128.1 l11.2 -1.8 l-6.5 -3.2 l-11.2 1.8z"/></g>
<g transform="translate(424.6 464.8)"><path class="s" d="M0 0l11.2 -1.8 v-95.9 l-11.2 1.8z"/><path class="s" d="M0 0l-6.5 -3.2 v-95.9 l6.5 3.2z"/><path class="t" fill="#089fcb" d="M0 -95.9 l11.2 -1.8 l-6.5 -3.2 l-11.2 1.8z"/></g>
<g transform="translate(413.4 466.6)"><path class="s" d="M0 0l11.2 -1.8 v-61.7 l-11.2 1.8z"/><path class="s" d="M0 0l-6.5 -3.2 v-61.7 l6.5 3.2z"/><path class="t" fill="#1481d6" d="M0 -61.7 l11.2 -1.8 l-6.5 -3.2 l-11.2 1.8z"/></g>
<g transform="translate(402.2 468.5)"><path class="s" d="M0 0l11.2 -1.8 v-113.5 l-11.2 1.8z"/><path class="s" d="M0 0l-6.5 -3.2 v-113.5 l6.5 3.2z"/><path class="t" fill="#26b3ab" d="M0 -113.5 l11.2 -1.8 l-6.5 -3.2 l-11.2 1.8z"/></g>
<g transform="translate(391 470.3)"><path class="s" d="M0 0l11.2 -1.8 v-59.2 l-11.2 1.8z"/><path class="s" d="M0 0l-6.5 -3.2 v-59.2 l6.5 3.2z"/><path class="t" fill="#1481d6" d="M0 -59.2 l11.2 -1.8 l-6.5 -3.2 l-11.2 1.8z"/></g>
<g transform="translate(379.7 472.1)"><path class="s" d="M0 0l11.2 -1.8 v-59.4 l-11.2 1.8z"/><path class="s" d="M0 0l-6.5 -3.2 v-59.4 l6.5 3.2z"/><path class="t" fill="#1481d6" d="M0 -59.4 l11.2 -1.8 l-6.5 -3.2 l-11.2 1.8z"/></g>
<g transform="translate(368.5 474)"><path class="s" d="M0 0l11.2 -1.8 v-60.7 l-11.2 1.8z"/><path class="s" d="M0 0l-6.5 -3.2 v-60.7 l6.5 3.2z"/><path class="t" fill="#1481d6" d="M0 -60.7 l11.2 -1.8 l-6.5 -3.2 l-11.2 1.8z"/></g>
<g transform="translate(312.3 483.2)"><path class="s" d="M0 0l11.2 -1.8 v-58.9 l-11.2 1.8z"/><path class="s" d="M0 0l-6.5 -3.2 v-58.9 l6.5 3.2z"/><path class="t" fill="#1481d6" d="M0 -58.9 l11.2 -1.8 l-6.5 -3.2 l-11.2 1.8z"/></g>
<g transform="translate(301.1 485)"><path class="s" d="M0 0l11.2 -1.8 v-52.4 l-11.2 1.8z"/><path class="s" d="M0 0l-6.5 -3.2 v-52.4 l6.5 3.2z"/><path class="t" fill="#1272d9" d="M0 -52.4 l11.2 -1.8 l-6.5 -3.2 l-11.2 1.8z"/></g>
<g transform="translate(267.4 490.6)"><path class="s" d="M0 0l11.2 -1.8 v-60.2 l-11.2 1.8z"/><path class="s" d="M0 0l-6.5 -3.2 v-60.2 l6.5 3.2z"/><path class="t" fill="#1481d6" d="M0 -60.2 l11.2 -1.8 l-6.5 -3.2 l-11.2 1.8z"/></g>
<g transform="translate(256.2 492.4)"><path class="s" d="M0 0l11.2 -1.8 v-61.9 l-11.2 1.8z"/><path class="s" d="M0 0l-6.5 -3.2 v-61.9 l6.5 3.2z"/><path class="t" fill="#1481d6" d="M0 -61.9 l11.2 -1.8 l-6.5 -3.2 l-11.2 1.8z"/></g>
<g transform="translate(245 494.2)"><path class="s" d="M0 0l11.2 -1.8 v-81.2 l-11.2 1.8z"/><path class="s" d="M0 0l-6.5 -3.2 v-81.2 l6.5 3.2z"/><path class="t" fill="#0e90d1" d="M0 -81.2 l11.2 -1.8 l-6.5 -3.2 l-11.2 1.8z"/></g>
<g transform="translate(233.7 496.1)"><path class="s" d="M0 0l11.2 -1.8 v-81.1 l-11.2 1.8z"/><path class="s" d="M0 0l-6.5 -3.2 v-81.1 l6.5 3.2z"/><path class="t" fill="#0e90d1" d="M0 -81.1 l11.2 -1.8 l-6.5 -3.2 l-11.2 1.8z"/></g>
<g transform="translate(222.5 497.9)"><path class="s" d="M0 0l11.2 -1.8 v-59.7 l-11.2 1.8z"/><path class="s" d="M0 0l-6.5 -3.2 v-59.7 l6.5 3.2z"/><path class="t" fill="#1481d6" d="M0 -59.7 l11.2 -1.8 l-6.5 -3.2 l-11.2 1.8z"/></g>
<g transform="translate(711.9 421.9)"><path class="s" d="M0 0l11.2 -1.8 v-48.9 l-11.2 1.8z"/><path class="s" d="M0 0l-6.5 -3.2 v-48.9 l6.5 3.2z"/><path class="t" fill="#1272d9" d="M0 -48.9 l11.2 -1.8 l-6.5 -3.2 l-11.2 1.8z"/></g>
<g transform="translate(700.6 423.8)"><path class="s" d="M0 0l11.2 -1.8 v-53.5 l-11.2 1.8z"/><path class="s" d="M0 0l-6.5 -3.2 v-53.5 l6.5 3.2z"/><path class="t" fill="#1272d9" d="M0 -53.5 l11.2 -1.8 l-6.5 -3.2 l-11.2 1.8z"/></g>
<g transform="translate(689.4 425.6)"><path class="s" d="M0 0l11.2 -1.8 v-76.6 l-11.2 1.8z"/><path class="s" d="M0 0l-6.5 -3.2 v-76.6 l6.5 3.2z"/><path class="t" fill="#0e90d1" d="M0 -76.6 l11.2 -1.8 l-6.5 -3.2 l-11.2 1.8z"/></g>
<g transform="translate(678.2 427.4)"><path class="s" d="M0 0l11.2 -1.8 v-58.7 l-11.2 1.8z"/><path class="s" d="M0 0l-6.5 -3.2 v-58.7 l6.5 3.2z"/><path class="t" fill="#1481d6" d="M0 -58.7 l11.2 -1.8 l-6.5 -3.2 l-11.2 1.8z"/></g>
<g transform="translate(666.9 429.3)"><path class="s" d="M0 0l11.2 -1.8 v-50.4 l-11.2 1.8z"/><path class="s" d="M0 0l-6.5 -3.2 v-50.4 l6.5 3.2z"/><path class="t" fill="#1272d9" d="M0 -50.4 l11.2 -1.8 l-6.5 -3.2 l-11.2 1.8z"/></g>
<g transform="translate(644.5 433)"><path class="s" d="M0 0l11.2 -1.8 v-97 l-11.2 1.8z"/><path class="s" d="M0 0l-6.5 -3.2 v-97 l6.5 3.2z"/><path class="t" fill="#089fcb" d="M0 -97 l11.2 -1.8 l-6.5 -3.2 l-11.2 1.8z"/></g>
<g transform="translate(633.3 434.8)"><path class="s" d="M0 0l11.2 -1.8 v-97.8 l-11.2 1.8z"/><path class="s" d="M0 0l-6.5 -3.2 v-97.8 l6.5 3.2z"/><path class="t" fill="#089fcb" d="M0 -97.8 l11.2 -1.8 l-6.5 -3.2 l-11.2 1.8z"/></g>
<g transform="translate(622 436.7)"><path class="s" d="M0 0l11.2 -1.8 v-56.3 l-11.2 1.8z"/><path class="s" d="M0 0l-6.5 -3.2 v-56.3 l6.5 3.2z"/><path class="t" fill="#1481d6" d="M0 -56.3 l11.2 -1.8 l-6.5 -3.2 l-11.2 1.8z"/></g>
<g transform="translate(599.6 440.3)"><path class="s" d="M0 0l11.2 -1.8 v-74 l-11.2 1.8z"/><path class="s" d="M0 0l-6.5 -3.2 v-74 l6.5 3.2z"/><path class="t" fill="#0e90d1" d="M0 -74 l11.2 -1.8 l-6.5 -3.2 l-11.2 1.8z"/></g>
<g transform="translate(554.6 447.7)"><path class="s" d="M0 0l11.2 -1.8 v-93.2 l-11.2 1.8z"/><path class="s" d="M0 0l-6.5 -3.2 v-93.2 l6.5 3.2z"/><path class="t" fill="#089fcb" d="M0 -93.2 l11.2 -1.8 l-6.5 -3.2 l-11.2 1.8z"/></g>
<g transform="translate(543.4 449.5)"><path class="s" d="M0 0l11.2 -1.8 v-94.6 l-11.2 1.8z"/><path class="s" d="M0 0l-6.5 -3.2 v-94.6 l6.5 3.2z"/><path class="t" fill="#089fcb" d="M0 -94.6 l11.2 -1.8 l-6.5 -3.2 l-11.2 1.8z"/></g>
<g transform="translate(532.2 451.4)"><path class="s" d="M0 0l11.2 -1.8 v-105.8 l-11.2 1.8z"/><path class="s" d="M0 0l-6.5 -3.2 v-105.8 l6.5 3.2z"/><path class="t" fill="#13aabe" d="M0 -105.8 l11.2 -1.8 l-6.5 -3.2 l-11.2 1.8z"/></g>
<g transform="translate(521 453.2)"><path class="s" d="M0 0l11.2 -1.8 v-182.2 l-11.2 1.8z"/><path class="s" d="M0 0l-6.5 -3.2 v-182.2 l6.5 3.2z"/><path class="t" fill="#d3bc57" d="M0 -182.2 l11.2 -1.8 l-6.5 -3.2 l-11.2 1.8z"/></g>
<g transform="translate(509.7 455.1)"><path class="s" d="M0 0l11.2 -1.8 v-179 l-11.2 1.8z"/><path class="s" d="M0 0l-6.5 -3.2 v-179 l6.5 3.2z"/><path class="t" fill="#bdbc61" d="M0 -179 l11.2 -1.8 l-6.5 -3.2 l-11.2 1.8z"/></g>
<g transform="translate(498.5 456.9)"><path class="s" d="M0 0l11.2 -1.8 v-237.7 l-11.2 1.8z"/><path class="s" d="M0 0l-6.5 -3.2 v-237.7 l6.5 3.2z"/><path class="t" fill="#fec932" d="M0 -237.7 l11.2 -1.8 l-6.5 -3.2 l-11.2 1.8z"/></g>
<g transform="translate(487.3 458.7)"><path class="s" d="M0 0l11.2 -1.8 v-238.6 l-11.2 1.8z"/><path class="s" d="M0 0l-6.5 -3.2 v-238.6 l6.5 3.2z"/><path class="t" fill="#fcdc24" d="M0 -238.6 l11.2 -1.8 l-6.5 -3.2 l-11.2 1.8z"/></g>
<g transform="translate(476 460.6)"><path class="s" d="M0 0l11.2 -1.8 v-230 l-11.2 1.8z"/><path class="s" d="M0 0l-6.5 -3.2 v-230 l6.5 3.2z"/><path class="t" fill="#fec932" d="M0 -230 l11.2 -1.8 l-6.5 -3.2 l-11.2 1.8z"/></g>
<g transform="translate(464.8 462.4)"><path class="s" d="M0 0l11.2 -1.8 v-196.8 l-11.2 1.8z"/><path class="s" d="M0 0l-6.5 -3.2 v-196.8 l6.5 3.2z"/><path class="t" fill="#e1c04c" d="M0 -196.8 l11.2 -1.8 l-6.5 -3.2 l-11.2 1.8z"/></g>
<g transform="translate(453.6 464.3)"><path class="s" d="M0 0l11.2 -1.8 v-152.4 l-11.2 1.8z"/><path class="s" d="M0 0l-6.5 -3.2 v-152.4 l6.5 3.2z"/><path class="t" fill="#7abe7d" d="M0 -152.4 l11.2 -1.8 l-6.5 -3.2 l-11.2 1.8z"/></g>
<g transform="translate(442.4 466.1)"><path class="s" d="M0 0l11.2 -1.8 v-102.6 l-11.2 1.8z"/><path class="s" d="M0 0l-6.5 -3.2 v-102.6 l6.5 3.2z"/><path class="t" fill="#13aabe" d="M0 -102.6 l11.2 -1.8 l-6.5 -3.2 l-11.2 1.8z"/></g>
<g transform="translate(431.1 467.9)"><path class="s" d="M0 0l11.2 -1.8 v-94.2 l-11.2 1.8z"/><path class="s" d="M0 0l-6.5 -3.2 v-94.2 l6.5 3.2z"/><path class="t" fill="#089fcb" d="M0 -94.2 l11.2 -1.8 l-6.5 -3.2 l-11.2 1.8z"/></g>
<g transform="translate(419.9 469.8)"><path class="s" d="M0 0l11.2 -1.8 v-83.7 l-11.2 1.8z"/><path class="s" d="M0 0l-6.5 -3.2 v-83.7 l6.5 3.2z"/><path class="t" fill="#0e90d1" d="M0 -83.7 l11.2 -1.8 l-6.5 -3.2 l-11.2 1.8z"/></g>
<g transform="translate(408.7 471.6)"><path class="s" d="M0 0l11.2 -1.8 v-84.7 l-11.2 1.8z"/><path class="s" d="M0 0l-6.5 -3.2 v-84.7 l6.5 3.2z"/><path class="t" fill="#089fcb" d="M0 -84.7 l11.2 -1.8 l-6.5 -3.2 l-11.2 1.8z"/></g>
<g transform="translate(386.2 475.3)"><path class="s" d="M0 0l11.2 -1.8 v-84.8 l-11.2 1.8z"/><path class="s" d="M0 0l-6.5 -3.2 v-84.8 l6.5 3.2z"/><path class="t" fill="#089fcb" d="M0 -84.8 l11.2 -1.8 l-6.5 -3.2 l-11.2 1.8z"/></g>
<g transform="translate(375 477.2)"><path class="s" d="M0 0l11.2 -1.8 v-53 l-11.2 1.8z"/><path class="s" d="M0 0l-6.5 -3.2 v-53 l6.5 3.2z"/><path class="t" fill="#1272d9" d="M0 -53 l11.2 -1.8 l-6.5 -3.2 l-11.2 1.8z"/></g>
<g transform="translate(363.7 479)"><path class="s" d="M0 0l11.2 -1.8 v-64.2 l-11.2 1.8z"/><path class="s" d="M0 0l-6.5 -3.2 v-64.2 l6.5 3.2z"/><path class="t" fill="#1481d6" d="M0 -64.2 l11.2 -1.8 l-6.5 -3.2 l-11.2 1.8z"/></g>
<g transform="translate(352.5 480.8)"><path class="s" d="M0 0l11.2 -1.8 v-49.3 l-11.2 1.8z"/><path class="s" d="M0 0l-6.5 -3.2 v-49.3 l6.5 3.2z"/><path class="t" fill="#1272d9" d="M0 -49.3 l11.2 -1.8 l-6.5 -3.2 l-11.2 1.8z"/></g>
<g transform="translate(341.3 482.7)"><path class="s" d="M0 0l11.2 -1.8 v-50 l-11.2 1.8z"/><path class="s" d="M0 0l-6.5 -3.2 v-50 l6.5 3.2z"/><path class="t" fill="#1272d9" d="M0 -50 l11.2 -1.8 l-6.5 -3.2 l-11.2 1.8z"/></g>
<g transform="translate(330.1 484.5)"><path class="s" d="M0 0l11.2 -1.8 v-57.6 l-11.2 1.8z"/><path class="s" d="M0 0l-6.5 -3.2 v-57.6 l6.5 3.2z"/><path class="t" fill="#1481d6" d="M0 -57.6 l11.2 -1.8 l-6.5 -3.2 l-11.2 1.8z"/></g>
<g transform="translate(307.6 488.2)"><path class="s" d="M0 0l11.2 -1.8 v-57.9 l-11.2 1.8z"/><path class="s" d="M0 0l-6.5 -3.2 v-57.9 l6.5 3.2z"/><path class="t" fill="#1481d6" d="M0 -57.9 l11.2 -1.8 l-6.5 -3.2 l-11.2 1.8z"/></g>
<g transform="translate(296.4 490)"><path class="s" d="M0 0l11.2 -1.8 v-85.4 l-11.2 1.8z"/><path class="s" d="M0 0l-6.5 -3.2 v-85.4 l6.5 3.2z"/><path class="t" fill="#089fcb" d="M0 -85.4 l11.2 -1.8 l-6.5 -3.2 l-11.2 1.8z"/></g>
<g transform="translate(273.9 493.7)"><path class="s" d="M0 0l11.2 -1.8 v-96.7 l-11.2 1.8z"/><path class="s" d="M0 0l-6.5 -3.2 v-96.7 l6.5 3.2z"/><path class="t" fill="#089fcb" d="M0 -96.7 l11.2 -1.8 l-6.5 -3.2 l-11.2 1.8z"/></g>
<g transform="translate(262.7 495.6)"><path class="s" d="M0 0l11.2 -1.8 v-85.4 l-11.2 1.8z"/><path class="s" d="M0 0l-6.5 -3.2 v-85.4 l6.5 3.2z"/><path class="t" fill="#089fcb" d="M0 -85.4 l11.2 -1.8 l-6.5 -3.2 l-11.2 1.8z"/></g>
<g transform="translate(251.4 497.4)"><path class="s" d="M0 0l11.2 -1.8 v-61.3 l-11.2 1.8z"/><path class="s" d="M0 0l-6.5 -3.2 v-61.3 l6.5 3.2z"/><path class="t" fill="#1481d6" d="M0 -61.3 l11.2 -1.8 l-6.5 -3.2 l-11.2 1.8z"/></g>
<g transform="translate(240.2 499.2)"><path class="s" d="M0 0l11.2 -1.8 v-63.8 l-11.2 1.8z"/><path class="s" d="M0 0l-6.5 -3.2 v-63.8 l6.5 3.2z"/><path class="t" fill="#1481d6" d="M0 -63.8 l11.2 -1.8 l-6.5 -3.2 l-11.2 1.8z"/></g>
<g transform="translate(229 501.1)"><path class="s" d="M0 0l11.2 -1.8 v-106.3 l-11.2 1.8z"/><path class="s" d="M0 0l-6.5 -3.2 v-106.3 l6.5 3.2z"/><path class="t" fill="#13aabe" d="M0 -106.3 l11.2 -1.8 l-6.5 -3.2 l-11.2 1.8z"/></g>
<g transform="translate(718.3 425.1)"><path class="s" d="M0 0l11.2 -1.8 v-47.8 l-11.2 1.8z"/><path class="s" d="M0 0l-6.5 -3.2 v-47.8 l6.5 3.2z"/><path class="t" fill="#1272d9" d="M0 -47.8 l11.2 -1.8 l-6.5 -3.2 l-11.2 1.8z"/></g>
<g transform="translate(695.9 428.8)"><path class="s" d="M0 0l11.2 -1.8 v-60.4 l-11.2 1.8z"/><path class="s" d="M0 0l-6.5 -3.2 v-60.4 l6.5 3.2z"/><path class="t" fill="#1481d6" d="M0 -60.4 l11.2 -1.8 l-6.5 -3.2 l-11.2 1.8z"/></g>
<g transform="translate(684.7 430.6)"><path class="s" d="M0 0l11.2 -1.8 v-62.6 l-11.2 1.8z"/><path class="s" d="M0 0l-6.5 -3.2 v-62.6 l6.5 3.2z"/><path class="t" fill="#1481d6" d="M0 -62.6 l11.2 -1.8 l-6.5 -3.2 l-11.2 1.8z"/></g>
<g transform="translate(673.4 432.4)"><path class="s" d="M0 0l11.2 -1.8 v-80.8 l-11.2 1.8z"/><path class="s" d="M0 0l-6.5 -3.2 v-80.8 l6.5 3.2z"/><path class="t" fill="#0e90d1" d="M0 -80.8 l11.2 -1.8 l-6.5 -3.2 l-11.2 1.8z"/></g>
<g transform="translate(651 436.1)"><path class="s" d="M0 0l11.2 -1.8 v-55.5 l-11.2 1.8z"/><path class="s" d="M0 0l-6.5 -3.2 v-55.5 l6.5 3.2z"/><path class="t" fill="#1272d9" d="M0 -55.5 l11.2 -1.8 l-6.5 -3.2 l-11.2 1.8z"/></g>
<g transform="translate(639.7 438)"><path class="s" d="M0 0l11.2 -1.8 v-97.9 l-11.2 1.8z"/><path class="s" d="M0 0l-6.5 -3.2 v-97.9 l6.5 3.2z"/><path class="t" fill="#089fcb" d="M0 -97.9 l11.2 -1.8 l-6.5 -3.2 l-11.2 1.8z"/></g>
<g transform="translate(628.5 439.8)"><path class="s" d="M0 0l11.2 -1.8 v-59.1 l-11.2 1.8z"/><path class="s" d="M0 0l-6.5 -3.2 v-59.1 l6.5 3.2z"/><path class="t" fill="#1481d6" d="M0 -59.1 l11.2 -1.8 l-6.5 -3.2 l-11.2 1.8z"/></g>
<g transform="translate(617.3 441.6)"><path class="s" d="M0 0l11.2 -1.8 v-59.1 l-11.2 1.8z"/><path class="s" d="M0 0l-6.5 -3.2 v-59.1 l6.5 3.2z"/><path class="t" fill="#1481d6" d="M0 -59.1 l11.2 -1.8 l-6.5 -3.2 l-11.2 1.8z"/></g>
<g transform="translate(606 443.5)"><path class="s" d="M0 0l11.2 -1.8 v-54.9 l-11.2 1.8z"/><path class="s" d="M0 0l-6.5 -3.2 v-54.9 l6.5 3.2z"/><path class="t" fill="#1272d9" d="M0 -54.9 l11.2 -1.8 l-6.5 -3.2 l-11.2 1.8z"/></g>
<g transform="translate(594.8 445.3)"><path class="s" d="M0 0l11.2 -1.8 v-49.4 l-11.2 1.8z"/><path class="s" d="M0 0l-6.5 -3.2 v-49.4 l6.5 3.2z"/><path class="t" fill="#1272d9" d="M0 -49.4 l11.2 -1.8 l-6.5 -3.2 l-11.2 1.8z"/></g>
<g transform="translate(549.9 452.7)"><path class="s" d="M0 0l11.2 -1.8 v-95.3 l-11.2 1.8z"/><path class="s" d="M0 0l-6.5 -3.2 v-95.3 l6.5 3.2z"/><path class="t" fill="#089fcb" d="M0 -95.3 l11.2 -1.8 l-6.5 -3.2 l-11.2 1.8z"/></g>
<g transform="translate(538.7 454.5)"><path class="s" d="M0 0l11.2 -1.8 v-136.5 l-11.2 1.8z"/><path class="s" d="M0 0l-6.5 -3.2 v-136.5 l6.5 3.2z"/><path class="t" fill="#4bba95" d="M0 -136.5 l11.2 -1.8 l-6.5 -3.2 l-11.2 1.8z"/></g>
<g transform="translate(527.4 456.4)"><path class="s" d="M0 0l11.2 -1.8 v-164.7 l-11.2 1.8z"/><path class="s" d="M0 0l-6.5 -3.2 v-164.7 l6.5 3.2z"/><path class="t" fill="#a0be6d" d="M0 -164.7 l11.2 -1.8 l-6.5 -3.2 l-11.2 1.8z"/></g>
<g transform="translate(516.2 458.2)"><path class="s" d="M0 0l11.2 -1.8 v-203.6 l-11.2 1.8z"/><path class="s" d="M0 0l-6.5 -3.2 v-203.6 l6.5 3.2z"/><path class="t" fill="#e1c04c" d="M0 -203.6 l11.2 -1.8 l-6.5 -3.2 l-11.2 1.8z"/></g>
<g transform="translate(505 460.1)"><path class="s" d="M0 0l11.2 -1.8 v-238.2 l-11.2 1.8z"/><path class="s" d="M0 0l-6.5 -3.2 v-238.2 l6.5 3.2z"/><path class="t" fill="#fcdc24" d="M0 -238.2 l11.2 -1.8 l-6.5 -3.2 l-11.2 1.8z"/></g>
<g transform="translate(493.8 461.9)"><path class="s" d="M0 0l11.2 -1.8 v-242.1 l-11.2 1.8z"/><path class="s" d="M0 0l-6.5 -3.2 v-242.1 l6.5 3.2z"/><path class="t" fill="#fcdc24" d="M0 -242.1 l11.2 -1.8 l-6.5 -3.2 l-11.2 1.8z"/></g>
<g transform="translate(482.5 463.7)"><path class="s" d="M0 0l11.2 -1.8 v-251.7 l-11.2 1.8z"/><path class="s" d="M0 0l-6.5 -3.2 v-251.7 l6.5 3.2z"/><path class="t" fill="#fcdc24" d="M0 -251.7 l11.2 -1.8 l-6.5 -3.2 l-11.2 1.8z"/></g>
<g transform="translate(471.3 465.6)"><path class="s" d="M0 0l11.2 -1.8 v-227.1 l-11.2 1.8z"/><path class="s" d="M0 0l-6.5 -3.2 v-227.1 l6.5 3.2z"/><path class="t" fill="#fec932" d="M0 -227.1 l11.2 -1.8 l-6.5 -3.2 l-11.2 1.8z"/></g>
<g transform="translate(460.1 467.4)"><path class="s" d="M0 0l11.2 -1.8 v-188.6 l-11.2 1.8z"/><path class="s" d="M0 0l-6.5 -3.2 v-188.6 l6.5 3.2z"/><path class="t" fill="#d3bc57" d="M0 -188.6 l11.2 -1.8 l-6.5 -3.2 l-11.2 1.8z"/></g>
<g transform="translate(448.8 469.3)"><path class="s" d="M0 0l11.2 -1.8 v-135.4 l-11.2 1.8z"/><path class="s" d="M0 0l-6.5 -3.2 v-135.4 l6.5 3.2z"/><path class="t" fill="#4bba95" d="M0 -135.4 l11.2 -1.8 l-6.5 -3.2 l-11.2 1.8z"/></g>
<g transform="translate(437.6 471.1)"><path class="s" d="M0 0l11.2 -1.8 v-131.2 l-11.2 1.8z"/><path class="s" d="M0 0l-6.5 -3.2 v-131.2 l6.5 3.2z"/><path class="t" fill="#4bba95" d="M0 -131.2 l11.2 -1.8 l-6.5 -3.2 l-11.2 1.8z"/></g>
<g transform="translate(426.4 472.9)"><path class="s" d="M0 0l11.2 -1.8 v-50.8 l-11.2 1.8z"/><path class="s" d="M0 0l-6.5 -3.2 v-50.8 l6.5 3.2z"/><path class="t" fill="#1272d9" d="M0 -50.8 l11.2 -1.8 l-6.5 -3.2 l-11.2 1.8z"/></g>
<g transform="translate(415.1 474.8)"><path class="s" d="M0 0l11.2 -1.8 v-100.6 l-11.2 1.8z"/><path class="s" d="M0 0l-6.5 -3.2 v-100.6 l6.5 3.2z"/><path class="t" fill="#13aabe" d="M0 -100.6 l11.2 -1.8 l-6.5 -3.2 l-11.2 1.8z"/></g>
<g transform="translate(403.9 476.6)"><path class="s" d="M0 0l11.2 -1.8 v-86.5 l-11.2 1.8z"/><path class="s" d="M0 0l-6.5 -3.2 v-86.5 l6.5 3.2z"/><path class="t" fill="#089fcb" d="M0 -86.5 l11.2 -1.8 l-6.5 -3.2 l-11.2 1.8z"/></g>
<g transform="translate(392.7 478.5)"><path class="s" d="M0 0l11.2 -1.8 v-61.7 l-11.2 1.8z"/><path class="s" d="M0 0l-6.5 -3.2 v-61.7 l6.5 3.2z"/><path class="t" fill="#1481d6" d="M0 -61.7 l11.2 -1.8 l-6.5 -3.2 l-11.2 1.8z"/></g>
<g transform="translate(381.5 480.3)"><path class="s" d="M0 0l11.2 -1.8 v-61.9 l-11.2 1.8z"/><path class="s" d="M0 0l-6.5 -3.2 v-61.9 l6.5 3.2z"/><path class="t" fill="#1481d6" d="M0 -61.9 l11.2 -1.8 l-6.5 -3.2 l-11.2 1.8z"/></g>
<g transform="translate(359 484)"><path class="s" d="M0 0l11.2 -1.8 v-55.8 l-11.2 1.8z"/><path class="s" d="M0 0l-6.5 -3.2 v-55.8 l6.5 3.2z"/><path class="t" fill="#1272d9" d="M0 -55.8 l11.2 -1.8 l-6.5 -3.2 l-11.2 1.8z"/></g>
<g transform="translate(347.8 485.8)"><path class="s" d="M0 0l11.2 -1.8 v-92.4 l-11.2 1.8z"/><path class="s" d="M0 0l-6.5 -3.2 v-92.4 l6.5 3.2z"/><path class="t" fill="#089fcb" d="M0 -92.4 l11.2 -1.8 l-6.5 -3.2 l-11.2 1.8z"/></g>
<g transform="translate(336.5 487.7)"><path class="s" d="M0 0l11.2 -1.8 v-112.3 l-11.2 1.8z"/><path class="s" d="M0 0l-6.5 -3.2 v-112.3 l6.5 3.2z"/><path class="t" fill="#26b3ab" d="M0 -112.3 l11.2 -1.8 l-6.5 -3.2 l-11.2 1.8z"/></g>
<g transform="translate(325.3 489.5)"><path class="s" d="M0 0l11.2 -1.8 v-103.6 l-11.2 1.8z"/><path class="s" d="M0 0l-6.5 -3.2 v-103.6 l6.5 3.2z"/><path class="t" fill="#13aabe" d="M0 -103.6 l11.2 -1.8 l-6.5 -3.2 l-11.2 1.8z"/></g>
<g transform="translate(314.1 491.4)"><path class="s" d="M0 0l11.2 -1.8 v-63.4 l-11.2 1.8z"/><path class="s" d="M0 0l-6.5 -3.2 v-63.4 l6.5 3.2z"/><path class="t" fill="#1481d6" d="M0 -63.4 l11.2 -1.8 l-6.5 -3.2 l-11.2 1.8z"/></g>
<g transform="translate(302.8 493.2)"><path class="s" d="M0 0l11.2 -1.8 v-92.2 l-11.2 1.8z"/><path class="s" d="M0 0l-6.5 -3.2 v-92.2 l6.5 3.2z"/><path class="t" fill="#089fcb" d="M0 -92.2 l11.2 -1.8 l-6.5 -3.2 l-11.2 1.8z"/></g>
<g transform="translate(291.6 495)"><path class="s" d="M0 0l11.2 -1.8 v-105 l-11.2 1.8z"/><path class="s" d="M0 0l-6.5 -3.2 v-105 l6.5 3.2z"/><path class="t" fill="#13aabe" d="M0 -105 l11.2 -1.8 l-6.5 -3.2 l-11.2 1.8z"/></g>
<g transform="translate(280.4 496.9)"><path class="s" d="M0 0l11.2 -1.8 v-99.5 l-11.2 1.8z"/><path class="s" d="M0 0l-6.5 -3.2 v-99.5 l6.5 3.2z"/><path class="t" fill="#13aabe" d="M0 -99.5 l11.2 -1.8 l-6.5 -3.2 l-11.2 1.8z"/></g>
<g transform="translate(269.2 498.7)"><path class="s" d="M0 0l11.2 -1.8 v-87.6 l-11.2 1.8z"/><path class="s" d="M0 0l-6.5 -3.2 v-87.6 l6.5 3.2z"/><path class="t" fill="#089fcb" d="M0 -87.6 l11.2 -1.8 l-6.5 -3.2 l-11.2 1.8z"/></g>
<g transform="translate(257.9 500.6)"><path class="s" d="M0 0l11.2 -1.8 v-87.3 l-11.2 1.8z"/><path class="s" d="M0 0l-6.5 -3.2 v-87.3 l6.5 3.2z"/><path class="t" fill="#089fcb" d="M0 -87.3 l11.2 -1.8 l-6.5 -3.2 l-11.2 1.8z"/></g>
<g transform="translate(246.7 502.4)"><path class="s" d="M0 0l11.2 -1.8 v-59.7 l-11.2 1.8z"/><path class="s" d="M0 0l-6.5 -3.2 v-59.7 l6.5 3.2z"/><path class="t" fill="#1481d6" d="M0 -59.7 l11.2 -1.8 l-6.5 -3.2 l-11.2 1.8z"/></g>
<g transform="translate(235.5 504.2)"><path class="s" d="M0 0l11.2 -1.8 v-84.3 l-11.2 1.8z"/><path class="s" d="M0 0l-6.5 -3.2 v-84.3 l6.5 3.2z"/><path class="t" fill="#089fcb" d="M0 -84.3 l11.2 -1.8 l-6.5 -3.2 l-11.2 1.8z"/></g>
<g transform="translate(702.4 431.9)"><path class="s" d="M0 0l11.2 -1.8 v-62.8 l-11.2 1.8z"/><path class="s" d="M0 0l-6.5 -3.2 v-62.8 l6.5 3.2z"/><path class="t" fill="#1481d6" d="M0 -62.8 l11.2 -1.8 l-6.5 -3.2 l-11.2 1.8z"/></g>
<g transform="translate(691.1 433.8)"><path class="s" d="M0 0l11.2 -1.8 v-62.2 l-11.2 1.8z"/><path class="s" d="M0 0l-6.5 -3.2 v-62.2 l6.5 3.2z"/><path class="t" fill="#1481d6" d="M0 -62.2 l11.2 -1.8 l-6.5 -3.2 l-11.2 1.8z"/></g>
<g transform="translate(679.9 435.6)"><path class="s" d="M0 0l11.2 -1.8 v-81.3 l-11.2 1.8z"/><path class="s" d="M0 0l-6.5 -3.2 v-81.3 l6.5 3.2z"/><path class="t" fill="#0e90d1" d="M0 -81.3 l11.2 -1.8 l-6.5 -3.2 l-11.2 1.8z"/></g>
<g transform="translate(646.2 441.1)"><path class="s" d="M0 0l11.2 -1.8 v-91.4 l-11.2 1.8z"/><path class="s" d="M0 0l-6.5 -3.2 v-91.4 l6.5 3.2z"/><path class="t" fill="#089fcb" d="M0 -91.4 l11.2 -1.8 l-6.5 -3.2 l-11.2 1.8z"/></g>
<g transform="translate(623.8 444.8)"><path class="s" d="M0 0l11.2 -1.8 v-69.2 l-11.2 1.8z"/><path class="s" d="M0 0l-6.5 -3.2 v-69.2 l6.5 3.2z"/><path class="t" fill="#1481d6" d="M0 -69.2 l11.2 -1.8 l-6.5 -3.2 l-11.2 1.8z"/></g>
<g transform="translate(612.5 446.6)"><path class="s" d="M0 0l11.2 -1.8 v-70 l-11.2 1.8z"/><path class="s" d="M0 0l-6.5 -3.2 v-70 l6.5 3.2z"/><path class="t" fill="#0e90d1" d="M0 -70 l11.2 -1.8 l-6.5 -3.2 l-11.2 1.8z"/></g>
<g transform="translate(601.3 448.5)"><path class="s" d="M0 0l11.2 -1.8 v-81.2 l-11.2 1.8z"/><path class="s" d="M0 0l-6.5 -3.2 v-81.2 l6.5 3.2z"/><path class="t" fill="#0e90d1" d="M0 -81.2 l11.2 -1.8 l-6.5 -3.2 l-11.2 1.8z"/></g>
<g transform="translate(590.1 450.3)"><path class="s" d="M0 0l11.2 -1.8 v-81.6 l-11.2 1.8z"/><path class="s" d="M0 0l-6.5 -3.2 v-81.6 l6.5 3.2z"/><path class="t" fill="#0e90d1" d="M0 -81.6 l11.2 -1.8 l-6.5 -3.2 l-11.2 1.8z"/></g>
<g transform="translate(578.8 452.2)"><path class="s" d="M0 0l11.2 -1.8 v-61.5 l-11.2 1.8z"/><path class="s" d="M0 0l-6.5 -3.2 v-61.5 l6.5 3.2z"/><path class="t" fill="#1481d6" d="M0 -61.5 l11.2 -1.8 l-6.5 -3.2 l-11.2 1.8z"/></g>
<g transform="translate(567.6 454)"><path class="s" d="M0 0l11.2 -1.8 v-54.6 l-11.2 1.8z"/><path class="s" d="M0 0l-6.5 -3.2 v-54.6 l6.5 3.2z"/><path class="t" fill="#1272d9" d="M0 -54.6 l11.2 -1.8 l-6.5 -3.2 l-11.2 1.8z"/></g>
<g transform="translate(556.4 455.9)"><path class="s" d="M0 0l11.2 -1.8 v-56.9 l-11.2 1.8z"/><path class="s" d="M0 0l-6.5 -3.2 v-56.9 l6.5 3.2z"/><path class="t" fill="#1481d6" d="M0 -56.9 l11.2 -1.8 l-6.5 -3.2 l-11.2 1.8z"/></g>
<g transform="translate(545.1 457.7)"><path class="s" d="M0 0l11.2 -1.8 v-114.4 l-11.2 1.8z"/><path class="s" d="M0 0l-6.5 -3.2 v-114.4 l6.5 3.2z"/><path class="t" fill="#26b3ab" d="M0 -114.4 l11.2 -1.8 l-6.5 -3.2 l-11.2 1.8z"/></g>
<g transform="translate(533.9 459.5)"><path class="s" d="M0 0l11.2 -1.8 v-140.7 l-11.2 1.8z"/><path class="s" d="M0 0l-6.5 -3.2 v-140.7 l6.5 3.2z"/><path class="t" fill="#7abe7d" d="M0 -140.7 l11.2 -1.8 l-6.5 -3.2 l-11.2 1.8z"/></g>
<g transform="translate(522.7 461.4)"><path class="s" d="M0 0l11.2 -1.8 v-186.1 l-11.2 1.8z"/><path class="s" d="M0 0l-6.5 -3.2 v-186.1 l6.5 3.2z"/><path class="t" fill="#d3bc57" d="M0 -186.1 l11.2 -1.8 l-6.5 -3.2 l-11.2 1.8z"/></g>
<g transform="translate(511.5 463.2)"><path class="s" d="M0 0l11.2 -1.8 v-227.4 l-11.2 1.8z"/><path class="s" d="M0 0l-6.5 -3.2 v-227.4 l6.5 3.2z"/><path class="t" fill="#fec932" d="M0 -227.4 l11.2 -1.8 l-6.5 -3.2 l-11.2 1.8z"/></g>
<g transform="translate(500.2 465.1)"><path class="s" d="M0 0l11.2 -1.8 v-244.9 l-11.2 1.8z"/><path class="s" d="M0 0l-6.5 -3.2 v-244.9 l6.5 3.2z"/><path class="t" fill="#fcdc24" d="M0 -244.9 l11.2 -1.8 l-6.5 -3.2 l-11.2 1.8z"/></g>
<g transform="translate(489 466.9)"><path class="s" d="M0 0l11.2 -1.8 v-249.6 l-11.2 1.8z"/><path class="s" d="M0 0l-6.5 -3.2 v-249.6 l6.5 3.2z"/><path class="t" fill="#fcdc24" d="M0 -249.6 l11.2 -1.8 l-6.5 -3.2 l-11.2 1.8z"/></g>
<g transform="translate(477.8 468.7)"><path class="s" d="M0 0l11.2 -1.8 v-242.7 l-11.2 1.8z"/><path class="s" d="M0 0l-6.5 -3.2 v-242.7 l6.5 3.2z"/><path class="t" fill="#fcdc24" d="M0 -242.7 l11.2 -1.8 l-6.5 -3.2 l-11.2 1.8z"/></g>
<g transform="translate(466.5 470.6)"><path class="s" d="M0 0l11.2 -1.8 v-206.4 l-11.2 1.8z"/><path class="s" d="M0 0l-6.5 -3.2 v-206.4 l6.5 3.2z"/><path class="t" fill="#e1c04c" d="M0 -206.4 l11.2 -1.8 l-6.5 -3.2 l-11.2 1.8z"/></g>
<g transform="translate(455.3 472.4)"><path class="s" d="M0 0l11.2 -1.8 v-129.3 l-11.2 1.8z"/><path class="s" d="M0 0l-6.5 -3.2 v-129.3 l6.5 3.2z"/><path class="t" fill="#4bba95" d="M0 -129.3 l11.2 -1.8 l-6.5 -3.2 l-11.2 1.8z"/></g>
<g transform="translate(444.1 474.3)"><path class="s" d="M0 0l11.2 -1.8 v-63.7 l-11.2 1.8z"/><path class="s" d="M0 0l-6.5 -3.2 v-63.7 l6.5 3.2z"/><path class="t" fill="#1481d6" d="M0 -63.7 l11.2 -1.8 l-6.5 -3.2 l-11.2 1.8z"/></g>
<g transform="translate(421.6 477.9)"><path class="s" d="M0 0l11.2 -1.8 v-62.6 l-11.2 1.8z"/><path class="s" d="M0 0l-6.5 -3.2 v-62.6 l6.5 3.2z"/><path class="t" fill="#1481d6" d="M0 -62.6 l11.2 -1.8 l-6.5 -3.2 l-11.2 1.8z"/></g>
<g transform="translate(410.4 479.8)"><path class="s" d="M0 0l11.2 -1.8 v-88.1 l-11.2 1.8z"/><path class="s" d="M0 0l-6.5 -3.2 v-88.1 l6.5 3.2z"/><path class="t" fill="#089fcb" d="M0 -88.1 l11.2 -1.8 l-6.5 -3.2 l-11.2 1.8z"/></g>
<g transform="translate(399.2 481.6)"><path class="s" d="M0 0l11.2 -1.8 v-104.1 l-11.2 1.8z"/><path class="s" d="M0 0l-6.5 -3.2 v-104.1 l6.5 3.2z"/><path class="t" fill="#13aabe" d="M0 -104.1 l11.2 -1.8 l-6.5 -3.2 l-11.2 1.8z"/></g>
<g transform="translate(365.5 487.1)"><path class="s" d="M0 0l11.2 -1.8 v-63 l-11.2 1.8z"/><path class="s" d="M0 0l-6.5 -3.2 v-63 l6.5 3.2z"/><path class="t" fill="#1481d6" d="M0 -63 l11.2 -1.8 l-6.5 -3.2 l-11.2 1.8z"/></g>
<g transform="translate(354.2 489)"><path class="s" d="M0 0l11.2 -1.8 v-134.9 l-11.2 1.8z"/><path class="s" d="M0 0l-6.5 -3.2 v-134.9 l6.5 3.2z"/><path class="t" fill="#4bba95" d="M0 -134.9 l11.2 -1.8 l-6.5 -3.2 l-11.2 1.8z"/></g>
<g transform="translate(343 490.8)"><path class="s" d="M0 0l11.2 -1.8 v-120.7 l-11.2 1.8z"/><path class="s" d="M0 0l-6.5 -3.2 v-120.7 l6.5 3.2z"/><path class="t" fill="#26b3ab" d="M0 -120.7 l11.2 -1.8 l-6.5 -3.2 l-11.2 1.8z"/></g>
<g transform="translate(331.8 492.7)"><path class="s" d="M0 0l11.2 -1.8 v-53.3 l-11.2 1.8z"/><path class="s" d="M0 0l-6.5 -3.2 v-53.3 l6.5 3.2z"/><path class="t" fill="#1272d9" d="M0 -53.3 l11.2 -1.8 l-6.5 -3.2 l-11.2 1.8z"/></g>
<g transform="translate(320.6 494.5)"><path class="s" d="M0 0l11.2 -1.8 v-110.5 l-11.2 1.8z"/><path class="s" d="M0 0l-6.5 -3.2 v-110.5 l6.5 3.2z"/><path class="t" fill="#13aabe" d="M0 -110.5 l11.2 -1.8 l-6.5 -3.2 l-11.2 1.8z"/></g>
<g transform="translate(309.3 496.4)"><path class="s" d="M0 0l11.2 -1.8 v-57.9 l-11.2 1.8z"/><path class="s" d="M0 0l-6.5 -3.2 v-57.9 l6.5 3.2z"/><path class="t" fill="#1481d6" d="M0 -57.9 l11.2 -1.8 l-6.5 -3.2 l-11.2 1.8z"/></g>
<g transform="translate(298.1 498.2)"><path class="s" d="M0 0l11.2 -1.8 v-86.5 l-11.2 1.8z"/><path class="s" d="M0 0l-6.5 -3.2 v-86.5 l6.5 3.2z"/><path class="t" fill="#089fcb" d="M0 -86.5 l11.2 -1.8 l-6.5 -3.2 l-11.2 1.8z"/></g>
<g transform="translate(286.9 500)"><path class="s" d="M0 0l11.2 -1.8 v-90.4 l-11.2 1.8z"/><path class="s" d="M0 0l-6.5 -3.2 v-90.4 l6.5 3.2z"/><path class="t" fill="#089fcb" d="M0 -90.4 l11.2 -1.8 l-6.5 -3.2 l-11.2 1.8z"/></g>
<g transform="translate(275.6 501.9)"><path class="s" d="M0 0l11.2 -1.8 v-100.8 l-11.2 1.8z"/><path class="s" d="M0 0l-6.5 -3.2 v-100.8 l6.5 3.2z"/><path class="t" fill="#13aabe" d="M0 -100.8 l11.2 -1.8 l-6.5 -3.2 l-11.2 1.8z"/></g>
<g transform="translate(264.4 503.7)"><path class="s" d="M0 0l11.2 -1.8 v-85 l-11.2 1.8z"/><path class="s" d="M0 0l-6.5 -3.2 v-85 l6.5 3.2z"/><path class="t" fill="#089fcb" d="M0 -85 l11.2 -1.8 l-6.5 -3.2 l-11.2 1.8z"/></g>
<g transform="translate(253.2 505.6)"><path class="s" d="M0 0l11.2 -1.8 v-56.7 l-11.2 1.8z"/><path class="s" d="M0 0l-6.5 -3.2 v-56.7 l6.5 3.2z"/><path class="t" fill="#1481d6" d="M0 -56.7 l11.2 -1.8 l-6.5 -3.2 l-11.2 1.8z"/></g>
<g transform="translate(241.9 507.4)"><path class="s" d="M0 0l11.2 -1.8 v-92.2 l-11.2 1.8z"/><path class="s" d="M0 0l-6.5 -3.2 v-92.2 l6.5 3.2z"/><path class="t" fill="#089fcb" d="M0 -92.2 l11.2 -1.8 l-6.5 -3.2 l-11.2 1.8z"/></g>
<g transform="translate(731.3 431.4)"><path class="s" d="M0 0l11.2 -1.8 v-50 l-11.2 1.8z"/><path class="s" d="M0 0l-6.5 -3.2 v-50 l6.5 3.2z"/><path class="t" fill="#1272d9" d="M0 -50 l11.2 -1.8 l-6.5 -3.2 l-11.2 1.8z"/></g>
<g transform="translate(720.1 433.2)"><path class="s" d="M0 0l11.2 -1.8 v-60.2 l-11.2 1.8z"/><path class="s" d="M0 0l-6.5 -3.2 v-60.2 l6.5 3.2z"/><path class="t" fill="#1481d6" d="M0 -60.2 l11.2 -1.8 l-6.5 -3.2 l-11.2 1.8z"/></g>
<g transform="translate(697.6 436.9)"><path class="s" d="M0 0l11.2 -1.8 v-51.2 l-11.2 1.8z"/><path class="s" d="M0 0l-6.5 -3.2 v-51.2 l6.5 3.2z"/><path class="t" fill="#1272d9" d="M0 -51.2 l11.2 -1.8 l-6.5 -3.2 l-11.2 1.8z"/></g>
<g transform="translate(686.4 438.8)"><path class="s" d="M0 0l11.2 -1.8 v-103.8 l-11.2 1.8z"/><path class="s" d="M0 0l-6.5 -3.2 v-103.8 l6.5 3.2z"/><path class="t" fill="#13aabe" d="M0 -103.8 l11.2 -1.8 l-6.5 -3.2 l-11.2 1.8z"/></g>
<g transform="translate(675.2 440.6)"><path class="s" d="M0 0l11.2 -1.8 v-55.2 l-11.2 1.8z"/><path class="s" d="M0 0l-6.5 -3.2 v-55.2 l6.5 3.2z"/><path class="t" fill="#1272d9" d="M0 -55.2 l11.2 -1.8 l-6.5 -3.2 l-11.2 1.8z"/></g>
<g transform="translate(663.9 442.4)"><path class="s" d="M0 0l11.2 -1.8 v-87.1 l-11.2 1.8z"/><path class="s" d="M0 0l-6.5 -3.2 v-87.1 l6.5 3.2z"/><path class="t" fill="#089fcb" d="M0 -87.1 l11.2 -1.8 l-6.5 -3.2 l-11.2 1.8z"/></g>
<g transform="translate(652.7 444.3)"><path class="s" d="M0 0l11.2 -1.8 v-95.3 l-11.2 1.8z"/><path class="s" d="M0 0l-6.5 -3.2 v-95.3 l6.5 3.2z"/><path class="t" fill="#089fcb" d="M0 -95.3 l11.2 -1.8 l-6.5 -3.2 l-11.2 1.8z"/></g>
<g transform="translate(630.2 448)"><path class="s" d="M0 0l11.2 -1.8 v-73.6 l-11.2 1.8z"/><path class="s" d="M0 0l-6.5 -3.2 v-73.6 l6.5 3.2z"/><path class="t" fill="#0e90d1" d="M0 -73.6 l11.2 -1.8 l-6.5 -3.2 l-11.2 1.8z"/></g>
<g transform="translate(619 449.8)"><path class="s" d="M0 0l11.2 -1.8 v-73.9 l-11.2 1.8z"/><path class="s" d="M0 0l-6.5 -3.2 v-73.9 l6.5 3.2z"/><path class="t" fill="#0e90d1" d="M0 -73.9 l11.2 -1.8 l-6.5 -3.2 l-11.2 1.8z"/></g>
<g transform="translate(607.8 451.6)"><path class="s" d="M0 0l11.2 -1.8 v-85.6 l-11.2 1.8z"/><path class="s" d="M0 0l-6.5 -3.2 v-85.6 l6.5 3.2z"/><path class="t" fill="#089fcb" d="M0 -85.6 l11.2 -1.8 l-6.5 -3.2 l-11.2 1.8z"/></g>
<g transform="translate(596.5 453.5)"><path class="s" d="M0 0l11.2 -1.8 v-84.2 l-11.2 1.8z"/><path class="s" d="M0 0l-6.5 -3.2 v-84.2 l6.5 3.2z"/><path class="t" fill="#089fcb" d="M0 -84.2 l11.2 -1.8 l-6.5 -3.2 l-11.2 1.8z"/></g>
<g transform="translate(585.3 455.3)"><path class="s" d="M0 0l11.2 -1.8 v-99.7 l-11.2 1.8z"/><path class="s" d="M0 0l-6.5 -3.2 v-99.7 l6.5 3.2z"/><path class="t" fill="#13aabe" d="M0 -99.7 l11.2 -1.8 l-6.5 -3.2 l-11.2 1.8z"/></g>
<g transform="translate(574.1 457.2)"><path class="s" d="M0 0l11.2 -1.8 v-95.1 l-11.2 1.8z"/><path class="s" d="M0 0l-6.5 -3.2 v-95.1 l6.5 3.2z"/><path class="t" fill="#089fcb" d="M0 -95.1 l11.2 -1.8 l-6.5 -3.2 l-11.2 1.8z"/></g>
<g transform="translate(562.9 459)"><path class="s" d="M0 0l11.2 -1.8 v-63.6 l-11.2 1.8z"/><path class="s" d="M0 0l-6.5 -3.2 v-63.6 l6.5 3.2z"/><path class="t" fill="#1481d6" d="M0 -63.6 l11.2 -1.8 l-6.5 -3.2 l-11.2 1.8z"/></g>
<g transform="translate(551.6 460.9)"><path class="s" d="M0 0l11.2 -1.8 v-58.7 l-11.2 1.8z"/><path class="s" d="M0 0l-6.5 -3.2 v-58.7 l6.5 3.2z"/><path class="t" fill="#1481d6" d="M0 -58.7 l11.2 -1.8 l-6.5 -3.2 l-11.2 1.8z"/></g>
<g transform="translate(540.4 462.7)"><path class="s" d="M0 0l11.2 -1.8 v-139.7 l-11.2 1.8z"/><path class="s" d="M0 0l-6.5 -3.2 v-139.7 l6.5 3.2z"/><path class="t" fill="#4bba95" d="M0 -139.7 l11.2 -1.8 l-6.5 -3.2 l-11.2 1.8z"/></g>
<g transform="translate(529.2 464.5)"><path class="s" d="M0 0l11.2 -1.8 v-170.2 l-11.2 1.8z"/><path class="s" d="M0 0l-6.5 -3.2 v-170.2 l6.5 3.2z"/><path class="t" fill="#bdbc61" d="M0 -170.2 l11.2 -1.8 l-6.5 -3.2 l-11.2 1.8z"/></g>
<g transform="translate(517.9 466.4)"><path class="s" d="M0 0l11.2 -1.8 v-209.1 l-11.2 1.8z"/><path class="s" d="M0 0l-6.5 -3.2 v-209.1 l6.5 3.2z"/><path class="t" fill="#e1c04c" d="M0 -209.1 l11.2 -1.8 l-6.5 -3.2 l-11.2 1.8z"/></g>
<g transform="translate(506.7 468.2)"><path class="s" d="M0 0l11.2 -1.8 v-249.2 l-11.2 1.8z"/><path class="s" d="M0 0l-6.5 -3.2 v-249.2 l6.5 3.2z"/><path class="t" fill="#fcdc24" d="M0 -249.2 l11.2 -1.8 l-6.5 -3.2 l-11.2 1.8z"/></g>
<g transform="translate(495.5 470.1)"><path class="s" d="M0 0l11.2 -1.8 v-241.6 l-11.2 1.8z"/><path class="s" d="M0 0l-6.5 -3.2 v-241.6 l6.5 3.2z"/><path class="t" fill="#fcdc24" d="M0 -241.6 l11.2 -1.8 l-6.5 -3.2 l-11.2 1.8z"/></g>
<g transform="translate(484.2 471.9)"><path class="s" d="M0 0l11.2 -1.8 v-228.2 l-11.2 1.8z"/><path class="s" d="M0 0l-6.5 -3.2 v-228.2 l6.5 3.2z"/><path class="t" fill="#fec932" d="M0 -228.2 l11.2 -1.8 l-6.5 -3.2 l-11.2 1.8z"/></g>
<g transform="translate(473 473.7)"><path class="s" d="M0 0l11.2 -1.8 v-179.6 l-11.2 1.8z"/><path class="s" d="M0 0l-6.5 -3.2 v-179.6 l6.5 3.2z"/><path class="t" fill="#bdbc61" d="M0 -179.6 l11.2 -1.8 l-6.5 -3.2 l-11.2 1.8z"/></g>
<g transform="translate(461.8 475.6)"><path class="s" d="M0 0l11.2 -1.8 v-53.9 l-11.2 1.8z"/><path class="s" d="M0 0l-6.5 -3.2 v-53.9 l6.5 3.2z"/><path class="t" fill="#1272d9" d="M0 -53.9 l11.2 -1.8 l-6.5 -3.2 l-11.2 1.8z"/></g>
<g transform="translate(450.6 477.4)"><path class="s" d="M0 0l11.2 -1.8 v-114.5 l-11.2 1.8z"/><path class="s" d="M0 0l-6.5 -3.2 v-114.5 l6.5 3.2z"/><path class="t" fill="#26b3ab" d="M0 -114.5 l11.2 -1.8 l-6.5 -3.2 l-11.2 1.8z"/></g>
<g transform="translate(439.3 479.3)"><path class="s" d="M0 0l11.2 -1.8 v-63.3 l-11.2 1.8z"/><path class="s" d="M0 0l-6.5 -3.2 v-63.3 l6.5 3.2z"/><path class="t" fill="#1481d6" d="M0 -63.3 l11.2 -1.8 l-6.5 -3.2 l-11.2 1.8z"/></g>
<g transform="translate(428.1 481.1)"><path class="s" d="M0 0l11.2 -1.8 v-81.8 l-11.2 1.8z"/><path class="s" d="M0 0l-6.5 -3.2 v-81.8 l6.5 3.2z"/><path class="t" fill="#0e90d1" d="M0 -81.8 l11.2 -1.8 l-6.5 -3.2 l-11.2 1.8z"/></g>
<g transform="translate(416.9 482.9)"><path class="s" d="M0 0l11.2 -1.8 v-90.4 l-11.2 1.8z"/><path class="s" d="M0 0l-6.5 -3.2 v-90.4 l6.5 3.2z"/><path class="t" fill="#089fcb" d="M0 -90.4 l11.2 -1.8 l-6.5 -3.2 l-11.2 1.8z"/></g>
<g transform="translate(394.4 486.6)"><path class="s" d="M0 0l11.2 -1.8 v-92.9 l-11.2 1.8z"/><path class="s" d="M0 0l-6.5 -3.2 v-92.9 l6.5 3.2z"/><path class="t" fill="#089fcb" d="M0 -92.9 l11.2 -1.8 l-6.5 -3.2 l-11.2 1.8z"/></g>
<g transform="translate(383.2 488.5)"><path class="s" d="M0 0l11.2 -1.8 v-80.7 l-11.2 1.8z"/><path class="s" d="M0 0l-6.5 -3.2 v-80.7 l6.5 3.2z"/><path class="t" fill="#0e90d1" d="M0 -80.7 l11.2 -1.8 l-6.5 -3.2 l-11.2 1.8z"/></g>
<g transform="translate(372 490.3)"><path class="s" d="M0 0l11.2 -1.8 v-62.2 l-11.2 1.8z"/><path class="s" d="M0 0l-6.5 -3.2 v-62.2 l6.5 3.2z"/><path class="t" fill="#1481d6" d="M0 -62.2 l11.2 -1.8 l-6.5 -3.2 l-11.2 1.8z"/></g>
<g transform="translate(360.7 492.1)"><path class="s" d="M0 0l11.2 -1.8 v-108.1 l-11.2 1.8z"/><path class="s" d="M0 0l-6.5 -3.2 v-108.1 l6.5 3.2z"/><path class="t" fill="#13aabe" d="M0 -108.1 l11.2 -1.8 l-6.5 -3.2 l-11.2 1.8z"/></g>
<g transform="translate(349.5 494)"><path class="s" d="M0 0l11.2 -1.8 v-56.8 l-11.2 1.8z"/><path class="s" d="M0 0l-6.5 -3.2 v-56.8 l6.5 3.2z"/><path class="t" fill="#1481d6" d="M0 -56.8 l11.2 -1.8 l-6.5 -3.2 l-11.2 1.8z"/></g>
<g transform="translate(338.3 495.8)"><path class="s" d="M0 0l11.2 -1.8 v-63.6 l-11.2 1.8z"/><path class="s" d="M0 0l-6.5 -3.2 v-63.6 l6.5 3.2z"/><path class="t" fill="#1481d6" d="M0 -63.6 l11.2 -1.8 l-6.5 -3.2 l-11.2 1.8z"/></g>
<g transform="translate(315.8 499.5)"><path class="s" d="M0 0l11.2 -1.8 v-117.6 l-11.2 1.8z"/><path class="s" d="M0 0l-6.5 -3.2 v-117.6 l6.5 3.2z"/><path class="t" fill="#26b3ab" d="M0 -117.6 l11.2 -1.8 l-6.5 -3.2 l-11.2 1.8z"/></g>
<g transform="translate(304.6 501.4)"><path class="s" d="M0 0l11.2 -1.8 v-91.7 l-11.2 1.8z"/><path class="s" d="M0 0l-6.5 -3.2 v-91.7 l6.5 3.2z"/><path class="t" fill="#089fcb" d="M0 -91.7 l11.2 -1.8 l-6.5 -3.2 l-11.2 1.8z"/></g>
<g transform="translate(293.3 503.2)"><path class="s" d="M0 0l11.2 -1.8 v-53.8 l-11.2 1.8z"/><path class="s" d="M0 0l-6.5 -3.2 v-53.8 l6.5 3.2z"/><path class="t" fill="#1272d9" d="M0 -53.8 l11.2 -1.8 l-6.5 -3.2 l-11.2 1.8z"/></g>
<g transform="translate(282.1 505)"><path class="s" d="M0 0l11.2 -1.8 v-94.8 l-11.2 1.8z"/><path class="s" d="M0 0l-6.5 -3.2 v-94.8 l6.5 3.2z"/><path class="t" fill="#089fcb" d="M0 -94.8 l11.2 -1.8 l-6.5 -3.2 l-11.2 1.8z"/></g>
<g transform="translate(270.9 506.9)"><path class="s" d="M0 0l11.2 -1.8 v-56.8 l-11.2 1.8z"/><path class="s" d="M0 0l-6.5 -3.2 v-56.8 l6.5 3.2z"/><path class="t" fill="#1481d6" d="M0 -56.8 l11.2 -1.8 l-6.5 -3.2 l-11.2 1.8z"/></g>
<g transform="translate(259.7 508.7)"><path class="s" d="M0 0l11.2 -1.8 v-99.9 l-11.2 1.8z"/><path class="s" d="M0 0l-6.5 -3.2 v-99.9 l6.5 3.2z"/><path class="t" fill="#13aabe" d="M0 -99.9 l11.2 -1.8 l-6.5 -3.2 l-11.2 1.8z"/></g>
<g transform="translate(248.4 510.6)"><path class="s" d="M0 0l11.2 -1.8 v-95.2 l-11.2 1.8z"/><path class="s" d="M0 0l-6.5 -3.2 v-95.2 l6.5 3.2z"/><path class="t" fill="#089fcb" d="M0 -95.2 l11.2 -1.8 l-6.5 -3.2 l-11.2 1.8z"/></g>
<g transform="translate(692.9 441.9)"><path class="s" d="M0 0l11.2 -1.8 v-51.8 l-11.2 1.8z"/><path class="s" d="M0 0l-6.5 -3.2 v-51.8 l6.5 3.2z"/><path class="t" fill="#1272d9" d="M0 -51.8 l11.2 -1.8 l-6.5 -3.2 l-11.2 1.8z"/></g>
<g transform="translate(636.7 451.1)"><path class="s" d="M0 0l11.2 -1.8 v-61 l-11.2 1.8z"/><path class="s" d="M0 0l-6.5 -3.2 v-61 l6.5 3.2z"/><path class="t" fill="#1481d6" d="M0 -61 l11.2 -1.8 l-6.5 -3.2 l-11.2 1.8z"/></g>
<g transform="translate(614.3 454.8)"><path class="s" d="M0 0l11.2 -1.8 v-63.3 l-11.2 1.8z"/><path class="s" d="M0 0l-6.5 -3.2 v-63.3 l6.5 3.2z"/><path class="t" fill="#1481d6" d="M0 -63.3 l11.2 -1.8 l-6.5 -3.2 l-11.2 1.8z"/></g>
<g transform="translate(603 456.6)"><path class="s" d="M0 0l11.2 -1.8 v-60.9 l-11.2 1.8z"/><path class="s" d="M0 0l-6.5 -3.2 v-60.9 l6.5 3.2z"/><path class="t" fill="#1481d6" d="M0 -60.9 l11.2 -1.8 l-6.5 -3.2 l-11.2 1.8z"/></g>
<g transform="translate(558.1 464)"><path class="s" d="M0 0l11.2 -1.8 v-59.7 l-11.2 1.8z"/><path class="s" d="M0 0l-6.5 -3.2 v-59.7 l6.5 3.2z"/><path class="t" fill="#1481d6" d="M0 -59.7 l11.2 -1.8 l-6.5 -3.2 l-11.2 1.8z"/></g>
<g transform="translate(546.9 465.9)"><path class="s" d="M0 0l11.2 -1.8 v-125.9 l-11.2 1.8z"/><path class="s" d="M0 0l-6.5 -3.2 v-125.9 l6.5 3.2z"/><path class="t" fill="#26b3ab" d="M0 -125.9 l11.2 -1.8 l-6.5 -3.2 l-11.2 1.8z"/></g>
<g transform="translate(535.6 467.7)"><path class="s" d="M0 0l11.2 -1.8 v-141.4 l-11.2 1.8z"/><path class="s" d="M0 0l-6.5 -3.2 v-141.4 l6.5 3.2z"/><path class="t" fill="#7abe7d" d="M0 -141.4 l11.2 -1.8 l-6.5 -3.2 l-11.2 1.8z"/></g>
<g transform="translate(524.4 469.5)"><path class="s" d="M0 0l11.2 -1.8 v-175.3 l-11.2 1.8z"/><path class="s" d="M0 0l-6.5 -3.2 v-175.3 l6.5 3.2z"/><path class="t" fill="#bdbc61" d="M0 -175.3 l11.2 -1.8 l-6.5 -3.2 l-11.2 1.8z"/></g>
<g transform="translate(513.2 471.4)"><path class="s" d="M0 0l11.2 -1.8 v-238.4 l-11.2 1.8z"/><path class="s" d="M0 0l-6.5 -3.2 v-238.4 l6.5 3.2z"/><path class="t" fill="#fcdc24" d="M0 -238.4 l11.2 -1.8 l-6.5 -3.2 l-11.2 1.8z"/></g>
<g transform="translate(502 473.2)"><path class="s" d="M0 0l11.2 -1.8 v-170.8 l-11.2 1.8z"/><path class="s" d="M0 0l-6.5 -3.2 v-170.8 l6.5 3.2z"/><path class="t" fill="#bdbc61" d="M0 -170.8 l11.2 -1.8 l-6.5 -3.2 l-11.2 1.8z"/></g>
<g transform="translate(490.7 475.1)"><path class="s" d="M0 0l11.2 -1.8 v-179.2 l-11.2 1.8z"/><path class="s" d="M0 0l-6.5 -3.2 v-179.2 l6.5 3.2z"/><path class="t" fill="#bdbc61" d="M0 -179.2 l11.2 -1.8 l-6.5 -3.2 l-11.2 1.8z"/></g>
<g transform="translate(479.5 476.9)"><path class="s" d="M0 0l11.2 -1.8 v-175.8 l-11.2 1.8z"/><path class="s" d="M0 0l-6.5 -3.2 v-175.8 l6.5 3.2z"/><path class="t" fill="#bdbc61" d="M0 -175.8 l11.2 -1.8 l-6.5 -3.2 l-11.2 1.8z"/></g>
<g transform="translate(468.3 478.7)"><path class="s" d="M0 0l11.2 -1.8 v-142.4 l-11.2 1.8z"/><path class="s" d="M0 0l-6.5 -3.2 v-142.4 l6.5 3.2z"/><path class="t" fill="#7abe7d" d="M0 -142.4 l11.2 -1.8 l-6.5 -3.2 l-11.2 1.8z"/></g>
<g transform="translate(457 480.6)"><path class="s" d="M0 0l11.2 -1.8 v-104.1 l-11.2 1.8z"/><path class="s" d="M0 0l-6.5 -3.2 v-104.1 l6.5 3.2z"/><path class="t" fill="#13aabe" d="M0 -104.1 l11.2 -1.8 l-6.5 -3.2 l-11.2 1.8z"/></g>
<g transform="translate(445.8 482.4)"><path class="s" d="M0 0l11.2 -1.8 v-52.1 l-11.2 1.8z"/><path class="s" d="M0 0l-6.5 -3.2 v-52.1 l6.5 3.2z"/><path class="t" fill="#1272d9" d="M0 -52.1 l11.2 -1.8 l-6.5 -3.2 l-11.2 1.8z"/></g>
<g transform="translate(423.4 486.1)"><path class="s" d="M0 0l11.2 -1.8 v-87.3 l-11.2 1.8z"/><path class="s" d="M0 0l-6.5 -3.2 v-87.3 l6.5 3.2z"/><path class="t" fill="#089fcb" d="M0 -87.3 l11.2 -1.8 l-6.5 -3.2 l-11.2 1.8z"/></g>
<g transform="translate(412.1 487.9)"><path class="s" d="M0 0l11.2 -1.8 v-92.4 l-11.2 1.8z"/><path class="s" d="M0 0l-6.5 -3.2 v-92.4 l6.5 3.2z"/><path class="t" fill="#089fcb" d="M0 -92.4 l11.2 -1.8 l-6.5 -3.2 l-11.2 1.8z"/></g>
<g transform="translate(400.9 489.8)"><path class="s" d="M0 0l11.2 -1.8 v-90.2 l-11.2 1.8z"/><path class="s" d="M0 0l-6.5 -3.2 v-90.2 l6.5 3.2z"/><path class="t" fill="#089fcb" d="M0 -90.2 l11.2 -1.8 l-6.5 -3.2 l-11.2 1.8z"/></g>
<g transform="translate(389.7 491.6)"><path class="s" d="M0 0l11.2 -1.8 v-80.5 l-11.2 1.8z"/><path class="s" d="M0 0l-6.5 -3.2 v-80.5 l6.5 3.2z"/><path class="t" fill="#0e90d1" d="M0 -80.5 l11.2 -1.8 l-6.5 -3.2 l-11.2 1.8z"/></g>
<g transform="translate(378.4 493.5)"><path class="s" d="M0 0l11.2 -1.8 v-55.5 l-11.2 1.8z"/><path class="s" d="M0 0l-6.5 -3.2 v-55.5 l6.5 3.2z"/><path class="t" fill="#1272d9" d="M0 -55.5 l11.2 -1.8 l-6.5 -3.2 l-11.2 1.8z"/></g>
<g transform="translate(367.2 495.3)"><path class="s" d="M0 0l11.2 -1.8 v-56.9 l-11.2 1.8z"/><path class="s" d="M0 0l-6.5 -3.2 v-56.9 l6.5 3.2z"/><path class="t" fill="#1481d6" d="M0 -56.9 l11.2 -1.8 l-6.5 -3.2 l-11.2 1.8z"/></g>
<g transform="translate(344.7 499)"><path class="s" d="M0 0l11.2 -1.8 v-61.5 l-11.2 1.8z"/><path class="s" d="M0 0l-6.5 -3.2 v-61.5 l6.5 3.2z"/><path class="t" fill="#1481d6" d="M0 -61.5 l11.2 -1.8 l-6.5 -3.2 l-11.2 1.8z"/></g>
<g transform="translate(299.8 506.4)"><path class="s" d="M0 0l11.2 -1.8 v-54.9 l-11.2 1.8z"/><path class="s" d="M0 0l-6.5 -3.2 v-54.9 l6.5 3.2z"/><path class="t" fill="#1272d9" d="M0 -54.9 l11.2 -1.8 l-6.5 -3.2 l-11.2 1.8z"/></g>
<g transform="translate(288.6 508.2)"><path class="s" d="M0 0l11.2 -1.8 v-57.6 l-11.2 1.8z"/><path class="s" d="M0 0l-6.5 -3.2 v-57.6 l6.5 3.2z"/><path class="t" fill="#1481d6" d="M0 -57.6 l11.2 -1.8 l-6.5 -3.2 l-11.2 1.8z"/></g>
<g transform="translate(733 439.6)"><path class="s" d="M0 0l11.2 -1.8 v-62.6 l-11.2 1.8z"/><path class="s" d="M0 0l-6.5 -3.2 v-62.6 l6.5 3.2z"/><path class="t" fill="#1481d6" d="M0 -62.6 l11.2 -1.8 l-6.5 -3.2 l-11.2 1.8z"/></g>
<g transform="translate(542.1 470.9)"><path class="s" d="M0 0l11.2 -1.8 v-85 l-11.2 1.8z"/><path class="s" d="M0 0l-6.5 -3.2 v-85 l6.5 3.2z"/><path class="t" fill="#089fcb" d="M0 -85 l11.2 -1.8 l-6.5 -3.2 l-11.2 1.8z"/></g>
<g transform="translate(530.9 472.7)"><path class="s" d="M0 0l11.2 -1.8 v-139.1 l-11.2 1.8z"/><path class="s" d="M0 0l-6.5 -3.2 v-139.1 l6.5 3.2z"/><path class="t" fill="#4bba95" d="M0 -139.1 l11.2 -1.8 l-6.5 -3.2 l-11.2 1.8z"/></g>
<g transform="translate(519.7 474.5)"><path class="s" d="M0 0l11.2 -1.8 v-221.9 l-11.2 1.8z"/><path class="s" d="M0 0l-6.5 -3.2 v-221.9 l6.5 3.2z"/><path class="t" fill="#efc43f" d="M0 -221.9 l11.2 -1.8 l-6.5 -3.2 l-11.2 1.8z"/></g>
<g transform="translate(508.4 476.4)"><path class="s" d="M0 0l11.2 -1.8 v-107.4 l-11.2 1.8z"/><path class="s" d="M0 0l-6.5 -3.2 v-107.4 l6.5 3.2z"/><path class="t" fill="#13aabe" d="M0 -107.4 l11.2 -1.8 l-6.5 -3.2 l-11.2 1.8z"/></g>
<g transform="translate(497.2 478.2)"><path class="s" d="M0 0l11.2 -1.8 v-135.4 l-11.2 1.8z"/><path class="s" d="M0 0l-6.5 -3.2 v-135.4 l6.5 3.2z"/><path class="t" fill="#4bba95" d="M0 -135.4 l11.2 -1.8 l-6.5 -3.2 l-11.2 1.8z"/></g>
<g transform="translate(486 480.1)"><path class="s" d="M0 0l11.2 -1.8 v-112.9 l-11.2 1.8z"/><path class="s" d="M0 0l-6.5 -3.2 v-112.9 l6.5 3.2z"/><path class="t" fill="#26b3ab" d="M0 -112.9 l11.2 -1.8 l-6.5 -3.2 l-11.2 1.8z"/></g>
<g transform="translate(474.8 481.9)"><path class="s" d="M0 0l11.2 -1.8 v-51.5 l-11.2 1.8z"/><path class="s" d="M0 0l-6.5 -3.2 v-51.5 l6.5 3.2z"/><path class="t" fill="#1272d9" d="M0 -51.5 l11.2 -1.8 l-6.5 -3.2 l-11.2 1.8z"/></g>
<g transform="translate(384.9 496.6)"><path class="s" d="M0 0l11.2 -1.8 v-60.7 l-11.2 1.8z"/><path class="s" d="M0 0l-6.5 -3.2 v-60.7 l6.5 3.2z"/><path class="t" fill="#1481d6" d="M0 -60.7 l11.2 -1.8 l-6.5 -3.2 l-11.2 1.8z"/></g>
<g transform="translate(340 504)"><path class="s" d="M0 0l11.2 -1.8 v-49.8 l-11.2 1.8z"/><path class="s" d="M0 0l-6.5 -3.2 v-49.8 l6.5 3.2z"/><path class="t" fill="#1272d9" d="M0 -49.8 l11.2 -1.8 l-6.5 -3.2 l-11.2 1.8z"/></g>
<g transform="translate(537.4 475.9)"><path class="s" d="M0 0l11.2 -1.8 v-81 l-11.2 1.8z"/><path class="s" d="M0 0l-6.5 -3.2 v-81 l6.5 3.2z"/><path class="t" fill="#0e90d1" d="M0 -81 l11.2 -1.8 l-6.5 -3.2 l-11.2 1.8z"/></g>
<g transform="translate(526.1 477.7)"><path class="s" d="M0 0l11.2 -1.8 v-92.2 l-11.2 1.8z"/><path class="s" d="M0 0l-6.5 -3.2 v-92.2 l6.5 3.2z"/><path class="t" fill="#089fcb" d="M0 -92.2 l11.2 -1.8 l-6.5 -3.2 l-11.2 1.8z"/></g>
<g transform="translate(514.9 479.5)"><path class="s" d="M0 0l11.2 -1.8 v-126.1 l-11.2 1.8z"/><path class="s" d="M0 0l-6.5 -3.2 v-126.1 l6.5 3.2z"/><path class="t" fill="#4bba95" d="M0 -126.1 l11.2 -1.8 l-6.5 -3.2 l-11.2 1.8z"/></g>
<g transform="translate(503.7 481.4)"><path class="s" d="M0 0l11.2 -1.8 v-110.5 l-11.2 1.8z"/><path class="s" d="M0 0l-6.5 -3.2 v-110.5 l6.5 3.2z"/><path class="t" fill="#13aabe" d="M0 -110.5 l11.2 -1.8 l-6.5 -3.2 l-11.2 1.8z"/></g>
<g transform="translate(470 486.9)"><path class="s" d="M0 0l11.2 -1.8 v-49.8 l-11.2 1.8z"/><path class="s" d="M0 0l-6.5 -3.2 v-49.8 l6.5 3.2z"/><path class="t" fill="#1272d9" d="M0 -49.8 l11.2 -1.8 l-6.5 -3.2 l-11.2 1.8z"/></g>
<g transform="translate(555.1 477.2)"><path class="s" d="M0 0l11.2 -1.8 v-63.5 l-11.2 1.8z"/><path class="s" d="M0 0l-6.5 -3.2 v-63.5 l6.5 3.2z"/><path class="t" fill="#1481d6" d="M0 -63.5 l11.2 -1.8 l-6.5 -3.2 l-11.2 1.8z"/></g>
<g transform="translate(543.9 479)"><path class="s" d="M0 0l11.2 -1.8 v-54.9 l-11.2 1.8z"/><path class="s" d="M0 0l-6.5 -3.2 v-54.9 l6.5 3.2z"/><path class="t" fill="#1272d9" d="M0 -54.9 l11.2 -1.8 l-6.5 -3.2 l-11.2 1.8z"/></g>
<g transform="translate(532.6 480.9)"><path class="s" d="M0 0l11.2 -1.8 v-120.6 l-11.2 1.8z"/><path class="s" d="M0 0l-6.5 -3.2 v-120.6 l6.5 3.2z"/><path class="t" fill="#26b3ab" d="M0 -120.6 l11.2 -1.8 l-6.5 -3.2 l-11.2 1.8z"/></g>
<g transform="translate(521.4 482.7)"><path class="s" d="M0 0l11.2 -1.8 v-136.2 l-11.2 1.8z"/><path class="s" d="M0 0l-6.5 -3.2 v-136.2 l6.5 3.2z"/><path class="t" fill="#4bba95" d="M0 -136.2 l11.2 -1.8 l-6.5 -3.2 l-11.2 1.8z"/></g>
<g transform="translate(510.2 484.5)"><path class="s" d="M0 0l11.2 -1.8 v-59.3 l-11.2 1.8z"/><path class="s" d="M0 0l-6.5 -3.2 v-59.3 l6.5 3.2z"/><path class="t" fill="#1481d6" d="M0 -59.3 l11.2 -1.8 l-6.5 -3.2 l-11.2 1.8z"/></g>
<g transform="translate(498.9 486.4)"><path class="s" d="M0 0l11.2 -1.8 v-81.3 l-11.2 1.8z"/><path class="s" d="M0 0l-6.5 -3.2 v-81.3 l6.5 3.2z"/><path class="t" fill="#0e90d1" d="M0 -81.3 l11.2 -1.8 l-6.5 -3.2 l-11.2 1.8z"/></g>
<g transform="translate(550.3 482.2)"><path class="s" d="M0 0l11.2 -1.8 v-58.1 l-11.2 1.8z"/><path class="s" d="M0 0l-6.5 -3.2 v-58.1 l6.5 3.2z"/><path class="t" fill="#1481d6" d="M0 -58.1 l11.2 -1.8 l-6.5 -3.2 l-11.2 1.8z"/></g>
<g transform="translate(539.1 484)"><path class="s" d="M0 0l11.2 -1.8 v-83.5 l-11.2 1.8z"/><path class="s" d="M0 0l-6.5 -3.2 v-83.5 l6.5 3.2z"/><path class="t" fill="#0e90d1" d="M0 -83.5 l11.2 -1.8 l-6.5 -3.2 l-11.2 1.8z"/></g>
<g transform="translate(527.9 485.9)"><path class="s" d="M0 0l11.2 -1.8 v-61.9 l-11.2 1.8z"/><path class="s" d="M0 0l-6.5 -3.2 v-61.9 l6.5 3.2z"/><path class="t" fill="#1481d6" d="M0 -61.9 l11.2 -1.8 l-6.5 -3.2 l-11.2 1.8z"/></g>
<g transform="translate(505.4 489.5)"><path class="s" d="M0 0l11.2 -1.8 v-63.9 l-11.2 1.8z"/><path class="s" d="M0 0l-6.5 -3.2 v-63.9 l6.5 3.2z"/><path class="t" fill="#1481d6" d="M0 -63.9 l11.2 -1.8 l-6.5 -3.2 l-11.2 1.8z"/></g>
<g transform="translate(556.8 485.3)"><path class="s" d="M0 0l11.2 -1.8 v-89.9 l-11.2 1.8z"/><path class="s" d="M0 0l-6.5 -3.2 v-89.9 l6.5 3.2z"/><path class="t" fill="#089fcb" d="M0 -89.9 l11.2 -1.8 l-6.5 -3.2 l-11.2 1.8z"/></g>
<g transform="translate(545.6 487.2)"><path class="s" d="M0 0l11.2 -1.8 v-101.2 l-11.2 1.8z"/><path class="s" d="M0 0l-6.5 -3.2 v-101.2 l6.5 3.2z"/><path class="t" fill="#13aabe" d="M0 -101.2 l11.2 -1.8 l-6.5 -3.2 l-11.2 1.8z"/></g>
<g transform="translate(534.4 489)"><path class="s" d="M0 0l11.2 -1.8 v-88.3 l-11.2 1.8z"/><path class="s" d="M0 0l-6.5 -3.2 v-88.3 l6.5 3.2z"/><path class="t" fill="#089fcb" d="M0 -88.3 l11.2 -1.8 l-6.5 -3.2 l-11.2 1.8z"/></g>
<g transform="translate(523.1 490.9)"><path class="s" d="M0 0l11.2 -1.8 v-95.4 l-11.2 1.8z"/><path class="s" d="M0 0l-6.5 -3.2 v-95.4 l6.5 3.2z"/><path class="t" fill="#089fcb" d="M0 -95.4 l11.2 -1.8 l-6.5 -3.2 l-11.2 1.8z"/></g>
<g transform="translate(754.2 457.2)"><path class="s" d="M0 0l11.2 -1.8 v-24.2 l-11.2 1.8z"/><path class="s" d="M0 0l-6.5 -3.2 v-24.2 l6.5 3.2z"/><path class="t" fill="#1751cb" d="M0 -24.2 l11.2 -1.8 l-6.5 -3.2 l-11.2 1.8z"/></g>
<g transform="translate(574.5 486.6)"><path class="s" d="M0 0l11.2 -1.8 v-58.9 l-11.2 1.8z"/><path class="s" d="M0 0l-6.5 -3.2 v-58.9 l6.5 3.2z"/><path class="t" fill="#1481d6" d="M0 -58.9 l11.2 -1.8 l-6.5 -3.2 l-11.2 1.8z"/></g>
<g transform="translate(540.8 492.2)"><path class="s" d="M0 0l11.2 -1.8 v-113.2 l-11.2 1.8z"/><path class="s" d="M0 0l-6.5 -3.2 v-113.2 l6.5 3.2z"/><path class="t" fill="#26b3ab" d="M0 -113.2 l11.2 -1.8 l-6.5 -3.2 l-11.2 1.8z"/></g>
<g transform="translate(529.6 494)"><path class="s" d="M0 0l11.2 -1.8 v-55.7 l-11.2 1.8z"/><path class="s" d="M0 0l-6.5 -3.2 v-55.7 l6.5 3.2z"/><path class="t" fill="#1272d9" d="M0 -55.7 l11.2 -1.8 l-6.5 -3.2 l-11.2 1.8z"/></g>
<g transform="translate(569.8 491.7)"><path class="s" d="M0 0l11.2 -1.8 v-81.4 l-11.2 1.8z"/><path class="s" d="M0 0l-6.5 -3.2 v-81.4 l6.5 3.2z"/><path class="t" fill="#0e90d1" d="M0 -81.4 l11.2 -1.8 l-6.5 -3.2 l-11.2 1.8z"/></g>
<g transform="translate(547.3 495.3)"><path class="s" d="M0 0l11.2 -1.8 v-132.5 l-11.2 1.8z"/><path class="s" d="M0 0l-6.5 -3.2 v-132.5 l6.5 3.2z"/><path class="t" fill="#4bba95" d="M0 -132.5 l11.2 -1.8 l-6.5 -3.2 l-11.2 1.8z"/></g>
<g transform="translate(536.1 497.2)"><path class="s" d="M0 0l11.2 -1.8 v-95.1 l-11.2 1.8z"/><path class="s" d="M0 0l-6.5 -3.2 v-95.1 l6.5 3.2z"/><path class="t" fill="#089fcb" d="M0 -95.1 l11.2 -1.8 l-6.5 -3.2 l-11.2 1.8z"/></g>
<g transform="translate(524.9 499)"><path class="s" d="M0 0l11.2 -1.8 v-91.7 l-11.2 1.8z"/><path class="s" d="M0 0l-6.5 -3.2 v-91.7 l6.5 3.2z"/><path class="t" fill="#089fcb" d="M0 -91.7 l11.2 -1.8 l-6.5 -3.2 l-11.2 1.8z"/></g>
<g transform="translate(576.3 494.8)"><path class="s" d="M0 0l11.2 -1.8 v-111.8 l-11.2 1.8z"/><path class="s" d="M0 0l-6.5 -3.2 v-111.8 l6.5 3.2z"/><path class="t" fill="#13aabe" d="M0 -111.8 l11.2 -1.8 l-6.5 -3.2 l-11.2 1.8z"/></g>
<g transform="translate(565 496.6)"><path class="s" d="M0 0l11.2 -1.8 v-93.7 l-11.2 1.8z"/><path class="s" d="M0 0l-6.5 -3.2 v-93.7 l6.5 3.2z"/><path class="t" fill="#089fcb" d="M0 -93.7 l11.2 -1.8 l-6.5 -3.2 l-11.2 1.8z"/></g>
<g transform="translate(553.8 498.5)"><path class="s" d="M0 0l11.2 -1.8 v-49.9 l-11.2 1.8z"/><path class="s" d="M0 0l-6.5 -3.2 v-49.9 l6.5 3.2z"/><path class="t" fill="#1272d9" d="M0 -49.9 l11.2 -1.8 l-6.5 -3.2 l-11.2 1.8z"/></g>
<g transform="translate(605.2 494.3)"><path class="s" d="M0 0l11.2 -1.8 v-58.4 l-11.2 1.8z"/><path class="s" d="M0 0l-6.5 -3.2 v-58.4 l6.5 3.2z"/><path class="t" fill="#1481d6" d="M0 -58.4 l11.2 -1.8 l-6.5 -3.2 l-11.2 1.8z"/></g>
<g transform="translate(571.5 499.8)"><path class="s" d="M0 0l11.2 -1.8 v-57.1 l-11.2 1.8z"/><path class="s" d="M0 0l-6.5 -3.2 v-57.1 l6.5 3.2z"/><path class="t" fill="#1481d6" d="M0 -57.1 l11.2 -1.8 l-6.5 -3.2 l-11.2 1.8z"/></g>
<g transform="translate(560.3 501.6)"><path class="s" d="M0 0l11.2 -1.8 v-92.6 l-11.2 1.8z"/><path class="s" d="M0 0l-6.5 -3.2 v-92.6 l6.5 3.2z"/><path class="t" fill="#089fcb" d="M0 -92.6 l11.2 -1.8 l-6.5 -3.2 l-11.2 1.8z"/></g>
<g transform="translate(549 503.5)"><path class="s" d="M0 0l11.2 -1.8 v-51.7 l-11.2 1.8z"/><path class="s" d="M0 0l-6.5 -3.2 v-51.7 l6.5 3.2z"/><path class="t" fill="#1272d9" d="M0 -51.7 l11.2 -1.8 l-6.5 -3.2 l-11.2 1.8z"/></g>
<g transform="translate(537.8 505.3)"><path class="s" d="M0 0l11.2 -1.8 v-61.5 l-11.2 1.8z"/><path class="s" d="M0 0l-6.5 -3.2 v-61.5 l6.5 3.2z"/><path class="t" fill="#1481d6" d="M0 -61.5 l11.2 -1.8 l-6.5 -3.2 l-11.2 1.8z"/></g>
<g transform="translate(611.7 497.4)"><path class="s" d="M0 0l11.2 -1.8 v-53.7 l-11.2 1.8z"/><path class="s" d="M0 0l-6.5 -3.2 v-53.7 l6.5 3.2z"/><path class="t" fill="#1272d9" d="M0 -53.7 l11.2 -1.8 l-6.5 -3.2 l-11.2 1.8z"/></g>
<g transform="translate(600.4 499.3)"><path class="s" d="M0 0l11.2 -1.8 v-57.9 l-11.2 1.8z"/><path class="s" d="M0 0l-6.5 -3.2 v-57.9 l6.5 3.2z"/><path class="t" fill="#1481d6" d="M0 -57.9 l11.2 -1.8 l-6.5 -3.2 l-11.2 1.8z"/></g>
<g transform="translate(566.8 504.8)"><path class="s" d="M0 0l11.2 -1.8 v-89.6 l-11.2 1.8z"/><path class="s" d="M0 0l-6.5 -3.2 v-89.6 l6.5 3.2z"/><path class="t" fill="#089fcb" d="M0 -89.6 l11.2 -1.8 l-6.5 -3.2 l-11.2 1.8z"/></g>
<g transform="translate(555.5 506.7)"><path class="s" d="M0 0l11.2 -1.8 v-89.2 l-11.2 1.8z"/><path class="s" d="M0 0l-6.5 -3.2 v-89.2 l6.5 3.2z"/><path class="t" fill="#089fcb" d="M0 -89.2 l11.2 -1.8 l-6.5 -3.2 l-11.2 1.8z"/></g>
<g transform="translate(595.7 504.3)"><path class="s" d="M0 0l11.2 -1.8 v-92.4 l-11.2 1.8z"/><path class="s" d="M0 0l-6.5 -3.2 v-92.4 l6.5 3.2z"/><path class="t" fill="#089fcb" d="M0 -92.4 l11.2 -1.8 l-6.5 -3.2 l-11.2 1.8z"/></g>
<g transform="translate(584.5 506.1)"><path class="s" d="M0 0l11.2 -1.8 v-90.9 l-11.2 1.8z"/><path class="s" d="M0 0l-6.5 -3.2 v-90.9 l6.5 3.2z"/><path class="t" fill="#089fcb" d="M0 -90.9 l11.2 -1.8 l-6.5 -3.2 l-11.2 1.8z"/></g>
<g transform="translate(573.2 508)"><path class="s" d="M0 0l11.2 -1.8 v-87.9 l-11.2 1.8z"/><path class="s" d="M0 0l-6.5 -3.2 v-87.9 l6.5 3.2z"/><path class="t" fill="#089fcb" d="M0 -87.9 l11.2 -1.8 l-6.5 -3.2 l-11.2 1.8z"/></g>
<g transform="translate(562 509.8)"><path class="s" d="M0 0l11.2 -1.8 v-90.5 l-11.2 1.8z"/><path class="s" d="M0 0l-6.5 -3.2 v-90.5 l6.5 3.2z"/><path class="t" fill="#089fcb" d="M0 -90.5 l11.2 -1.8 l-6.5 -3.2 l-11.2 1.8z"/></g>
<g transform="translate(550.8 511.6)"><path class="s" d="M0 0l11.2 -1.8 v-83 l-11.2 1.8z"/><path class="s" d="M0 0l-6.5 -3.2 v-83 l6.5 3.2z"/><path class="t" fill="#0e90d1" d="M0 -83 l11.2 -1.8 l-6.5 -3.2 l-11.2 1.8z"/></g>
<g transform="translate(539.5 513.5)"><path class="s" d="M0 0l11.2 -1.8 v-58.2 l-11.2 1.8z"/><path class="s" d="M0 0l-6.5 -3.2 v-58.2 l6.5 3.2z"/><path class="t" fill="#1481d6" d="M0 -58.2 l11.2 -1.8 l-6.5 -3.2 l-11.2 1.8z"/></g>
<g transform="translate(590.9 509.3)"><path class="s" d="M0 0l11.2 -1.8 v-86.8 l-11.2 1.8z"/><path class="s" d="M0 0l-6.5 -3.2 v-86.8 l6.5 3.2z"/><path class="t" fill="#089fcb" d="M0 -86.8 l11.2 -1.8 l-6.5 -3.2 l-11.2 1.8z"/></g>
<g transform="translate(579.7 511.1)"><path class="s" d="M0 0l11.2 -1.8 v-94.8 l-11.2 1.8z"/><path class="s" d="M0 0l-6.5 -3.2 v-94.8 l6.5 3.2z"/><path class="t" fill="#089fcb" d="M0 -94.8 l11.2 -1.8 l-6.5 -3.2 l-11.2 1.8z"/></g>
<g transform="translate(568.5 513)"><path class="s" d="M0 0l11.2 -1.8 v-92.1 l-11.2 1.8z"/><path class="s" d="M0 0l-6.5 -3.2 v-92.1 l6.5 3.2z"/><path class="t" fill="#089fcb" d="M0 -92.1 l11.2 -1.8 l-6.5 -3.2 l-11.2 1.8z"/></g>
<g transform="translate(597.4 512.4)"><path class="s" d="M0 0l11.2 -1.8 v-51.4 l-11.2 1.8z"/><path class="s" d="M0 0l-6.5 -3.2 v-51.4 l6.5 3.2z"/><path class="t" fill="#1272d9" d="M0 -51.4 l11.2 -1.8 l-6.5 -3.2 l-11.2 1.8z"/></g>
<g transform="translate(586.2 514.3)"><path class="s" d="M0 0l11.2 -1.8 v-109.6 l-11.2 1.8z"/><path class="s" d="M0 0l-6.5 -3.2 v-109.6 l6.5 3.2z"/><path class="t" fill="#13aabe" d="M0 -109.6 l11.2 -1.8 l-6.5 -3.2 l-11.2 1.8z"/></g>
<g transform="translate(626.4 511.9)"><path class="s" d="M0 0l11.2 -1.8 v-59.6 l-11.2 1.8z"/><path class="s" d="M0 0l-6.5 -3.2 v-59.6 l6.5 3.2z"/><path class="t" fill="#1481d6" d="M0 -59.6 l11.2 -1.8 l-6.5 -3.2 l-11.2 1.8z"/></g>
<g transform="translate(615.1 513.8)"><path class="s" d="M0 0l11.2 -1.8 v-49 l-11.2 1.8z"/><path class="s" d="M0 0l-6.5 -3.2 v-49 l6.5 3.2z"/><path class="t" fill="#1272d9" d="M0 -49 l11.2 -1.8 l-6.5 -3.2 l-11.2 1.8z"/></g>
<g transform="translate(603.9 515.6)"><path class="s" d="M0 0l11.2 -1.8 v-95.3 l-11.2 1.8z"/><path class="s" d="M0 0l-6.5 -3.2 v-95.3 l6.5 3.2z"/><path class="t" fill="#089fcb" d="M0 -95.3 l11.2 -1.8 l-6.5 -3.2 l-11.2 1.8z"/></g>
<g transform="translate(592.7 517.4)"><path class="s" d="M0 0l11.2 -1.8 v-150.7 l-11.2 1.8z"/><path class="s" d="M0 0l-6.5 -3.2 v-150.7 l6.5 3.2z"/><path class="t" fill="#7abe7d" d="M0 -150.7 l11.2 -1.8 l-6.5 -3.2 l-11.2 1.8z"/></g>
<g transform="translate(621.6 516.9)"><path class="s" d="M0 0l11.2 -1.8 v-58.9 l-11.2 1.8z"/><path class="s" d="M0 0l-6.5 -3.2 v-58.9 l6.5 3.2z"/><path class="t" fill="#1481d6" d="M0 -58.9 l11.2 -1.8 l-6.5 -3.2 l-11.2 1.8z"/></g>
<g transform="translate(610.4 518.8)"><path class="s" d="M0 0l11.2 -1.8 v-60.6 l-11.2 1.8z"/><path class="s" d="M0 0l-6.5 -3.2 v-60.6 l6.5 3.2z"/><path class="t" fill="#1481d6" d="M0 -60.6 l11.2 -1.8 l-6.5 -3.2 l-11.2 1.8z"/></g>
<g transform="translate(599.2 520.6)"><path class="s" d="M0 0l11.2 -1.8 v-60.5 l-11.2 1.8z"/><path class="s" d="M0 0l-6.5 -3.2 v-60.5 l6.5 3.2z"/><path class="t" fill="#1481d6" d="M0 -60.5 l11.2 -1.8 l-6.5 -3.2 l-11.2 1.8z"/></g>
<g transform="translate(587.9 522.4)"><path class="s" d="M0 0l11.2 -1.8 v-62.4 l-11.2 1.8z"/><path class="s" d="M0 0l-6.5 -3.2 v-62.4 l6.5 3.2z"/><path class="t" fill="#1481d6" d="M0 -62.4 l11.2 -1.8 l-6.5 -3.2 l-11.2 1.8z"/></g>
<g transform="translate(576.7 524.3)"><path class="s" d="M0 0l11.2 -1.8 v-86.8 l-11.2 1.8z"/><path class="s" d="M0 0l-6.5 -3.2 v-86.8 l6.5 3.2z"/><path class="t" fill="#089fcb" d="M0 -86.8 l11.2 -1.8 l-6.5 -3.2 l-11.2 1.8z"/></g>
<g transform="translate(628.1 520.1)"><path class="s" d="M0 0l11.2 -1.8 v-90.3 l-11.2 1.8z"/><path class="s" d="M0 0l-6.5 -3.2 v-90.3 l6.5 3.2z"/><path class="t" fill="#089fcb" d="M0 -90.3 l11.2 -1.8 l-6.5 -3.2 l-11.2 1.8z"/></g>
<g transform="translate(616.9 521.9)"><path class="s" d="M0 0l11.2 -1.8 v-130.7 l-11.2 1.8z"/><path class="s" d="M0 0l-6.5 -3.2 v-130.7 l6.5 3.2z"/><path class="t" fill="#4bba95" d="M0 -130.7 l11.2 -1.8 l-6.5 -3.2 l-11.2 1.8z"/></g>
<g transform="translate(594.4 525.6)"><path class="s" d="M0 0l11.2 -1.8 v-55.5 l-11.2 1.8z"/><path class="s" d="M0 0l-6.5 -3.2 v-55.5 l6.5 3.2z"/><path class="t" fill="#1272d9" d="M0 -55.5 l11.2 -1.8 l-6.5 -3.2 l-11.2 1.8z"/></g>
<g transform="translate(583.2 527.4)"><path class="s" d="M0 0l11.2 -1.8 v-49 l-11.2 1.8z"/><path class="s" d="M0 0l-6.5 -3.2 v-49 l6.5 3.2z"/><path class="t" fill="#1272d9" d="M0 -49 l11.2 -1.8 l-6.5 -3.2 l-11.2 1.8z"/></g>
<g transform="translate(657 519.6)"><path class="s" d="M0 0l11.2 -1.8 v-63.2 l-11.2 1.8z"/><path class="s" d="M0 0l-6.5 -3.2 v-63.2 l6.5 3.2z"/><path class="t" fill="#1481d6" d="M0 -63.2 l11.2 -1.8 l-6.5 -3.2 l-11.2 1.8z"/></g>
<g transform="translate(645.8 521.4)"><path class="s" d="M0 0l11.2 -1.8 v-60.6 l-11.2 1.8z"/><path class="s" d="M0 0l-6.5 -3.2 v-60.6 l6.5 3.2z"/><path class="t" fill="#1481d6" d="M0 -60.6 l11.2 -1.8 l-6.5 -3.2 l-11.2 1.8z"/></g>
<g transform="translate(612.1 526.9)"><path class="s" d="M0 0l11.2 -1.8 v-82.1 l-11.2 1.8z"/><path class="s" d="M0 0l-6.5 -3.2 v-82.1 l6.5 3.2z"/><path class="t" fill="#0e90d1" d="M0 -82.1 l11.2 -1.8 l-6.5 -3.2 l-11.2 1.8z"/></g>
<g transform="translate(600.9 528.8)"><path class="s" d="M0 0l11.2 -1.8 v-93.3 l-11.2 1.8z"/><path class="s" d="M0 0l-6.5 -3.2 v-93.3 l6.5 3.2z"/><path class="t" fill="#089fcb" d="M0 -93.3 l11.2 -1.8 l-6.5 -3.2 l-11.2 1.8z"/></g>
<g transform="translate(641 526.4)"><path class="s" d="M0 0l11.2 -1.8 v-107.9 l-11.2 1.8z"/><path class="s" d="M0 0l-6.5 -3.2 v-107.9 l6.5 3.2z"/><path class="t" fill="#13aabe" d="M0 -107.9 l11.2 -1.8 l-6.5 -3.2 l-11.2 1.8z"/></g>
<g transform="translate(629.8 528.2)"><path class="s" d="M0 0l11.2 -1.8 v-63.6 l-11.2 1.8z"/><path class="s" d="M0 0l-6.5 -3.2 v-63.6 l6.5 3.2z"/><path class="t" fill="#1481d6" d="M0 -63.6 l11.2 -1.8 l-6.5 -3.2 l-11.2 1.8z"/></g>
<g transform="translate(618.6 530.1)"><path class="s" d="M0 0l11.2 -1.8 v-135.2 l-11.2 1.8z"/><path class="s" d="M0 0l-6.5 -3.2 v-135.2 l6.5 3.2z"/><path class="t" fill="#4bba95" d="M0 -135.2 l11.2 -1.8 l-6.5 -3.2 l-11.2 1.8z"/></g>
<g transform="translate(584.9 535.6)"><path class="s" d="M0 0l11.2 -1.8 v-64.1 l-11.2 1.8z"/><path class="s" d="M0 0l-6.5 -3.2 v-64.1 l6.5 3.2z"/><path class="t" fill="#1481d6" d="M0 -64.1 l11.2 -1.8 l-6.5 -3.2 l-11.2 1.8z"/></g>
<g transform="translate(658.8 527.7)"><path class="s" d="M0 0l11.2 -1.8 v-55.5 l-11.2 1.8z"/><path class="s" d="M0 0l-6.5 -3.2 v-55.5 l6.5 3.2z"/><path class="t" fill="#1272d9" d="M0 -55.5 l11.2 -1.8 l-6.5 -3.2 l-11.2 1.8z"/></g>
<g transform="translate(636.3 531.4)"><path class="s" d="M0 0l11.2 -1.8 v-51.4 l-11.2 1.8z"/><path class="s" d="M0 0l-6.5 -3.2 v-51.4 l6.5 3.2z"/><path class="t" fill="#1272d9" d="M0 -51.4 l11.2 -1.8 l-6.5 -3.2 l-11.2 1.8z"/></g>
<g transform="translate(625.1 533.2)"><path class="s" d="M0 0l11.2 -1.8 v-93.1 l-11.2 1.8z"/><path class="s" d="M0 0l-6.5 -3.2 v-93.1 l6.5 3.2z"/><path class="t" fill="#089fcb" d="M0 -93.1 l11.2 -1.8 l-6.5 -3.2 l-11.2 1.8z"/></g>
<g transform="translate(613.8 535.1)"><path class="s" d="M0 0l11.2 -1.8 v-87.7 l-11.2 1.8z"/><path class="s" d="M0 0l-6.5 -3.2 v-87.7 l6.5 3.2z"/><path class="t" fill="#089fcb" d="M0 -87.7 l11.2 -1.8 l-6.5 -3.2 l-11.2 1.8z"/></g>
<g transform="translate(591.4 538.8)"><path class="s" d="M0 0l11.2 -1.8 v-57.2 l-11.2 1.8z"/><path class="s" d="M0 0l-6.5 -3.2 v-57.2 l6.5 3.2z"/><path class="t" fill="#1481d6" d="M0 -57.2 l11.2 -1.8 l-6.5 -3.2 l-11.2 1.8z"/></g>
<g transform="translate(654 532.7)"><path class="s" d="M0 0l11.2 -1.8 v-62.9 l-11.2 1.8z"/><path class="s" d="M0 0l-6.5 -3.2 v-62.9 l6.5 3.2z"/><path class="t" fill="#1481d6" d="M0 -62.9 l11.2 -1.8 l-6.5 -3.2 l-11.2 1.8z"/></g>
<g transform="translate(642.8 534.6)"><path class="s" d="M0 0l11.2 -1.8 v-90.8 l-11.2 1.8z"/><path class="s" d="M0 0l-6.5 -3.2 v-90.8 l6.5 3.2z"/><path class="t" fill="#089fcb" d="M0 -90.8 l11.2 -1.8 l-6.5 -3.2 l-11.2 1.8z"/></g>
<g transform="translate(631.5 536.4)"><path class="s" d="M0 0l11.2 -1.8 v-103.1 l-11.2 1.8z"/><path class="s" d="M0 0l-6.5 -3.2 v-103.1 l6.5 3.2z"/><path class="t" fill="#13aabe" d="M0 -103.1 l11.2 -1.8 l-6.5 -3.2 l-11.2 1.8z"/></g>
<g transform="translate(620.3 538.2)"><path class="s" d="M0 0l11.2 -1.8 v-99.3 l-11.2 1.8z"/><path class="s" d="M0 0l-6.5 -3.2 v-99.3 l6.5 3.2z"/><path class="t" fill="#13aabe" d="M0 -99.3 l11.2 -1.8 l-6.5 -3.2 l-11.2 1.8z"/></g>
<path d="M388 573.2L404.5 570.5M388 573.2L378.5 568.6M378.5 568.6L394.9 565.9M378.5 568.6L369 564M369 564L385.4 561.3M369 564L359.5 559.3M359.5 559.3L375.9 556.6M359.5 559.3L350 554.7M350 554.7L366.4 552M350 554.7L340.5 550.1M340.5 550.1L356.9 547.4M340.5 550.1L331 545.4M331 545.4L347.4 542.7M331 545.4L321.5 540.8M321.5 540.8L337.9 538.1M321.5 540.8L312 536.2M312 536.2L328.4 533.5M312 536.2L302.5 531.5M302.5 531.5L318.9 528.8M302.5 531.5L293 526.9M293 526.9L309.4 524.2M293 526.9L283.4 522.3M283.4 522.3L299.9 519.6M283.4 522.3L273.9 517.6M273.9 517.6L290.4 514.9M273.9 517.6L264.4 513M264.4 513L280.9 510.3M264.4 513L254.9 461.8M254.9 461.8L271.4 459.8M254.9 461.8L245.4 431.2M245.4 431.2L261.9 429.1M245.4 431.2L235.9 438.7M235.9 438.7L247.6 437.2M235.9 438.7L226.4 484.1M226.4 484.1L242.9 482.1M226.4 484.1L216.9 489.8M216.9 489.8L233.4 487.1M216.9 489.8L207.4 485.2M207.4 485.2L223.9 482.5M207.4 485.2L197.9 480.6M197.9 480.6L214.4 477.9M197.9 480.6L188.4 475.9M188.4 475.9L204.9 473.2M188.4 475.9L178.9 471.3M178.9 471.3L195.4 468.6M178.9 471.3L169.4 466.7M169.4 466.7L185.9 464M169.4 466.7L159.9 462M159.9 462L176.4 459.3M159.9 462L150.4 457.4M150.4 457.4L166.9 454.7M150.4 457.4L140.9 452.8M140.9 452.8L157.4 450.1M140.9 452.8L131.4 448.1M131.4 448.1L147.9 445.4M131.4 448.1L121.9 443.5M121.9 443.5L138.4 440.8M121.9 443.5L112.4 438.9M112.4 438.9L128.9 436.2M404.5 570.5L420.9 567.8M404.5 570.5L394.9 565.9M394.9 565.9L411.4 563.2M394.9 565.9L385.4 561.3M385.4 561.3L401.9 558.6M385.4 561.3L375.9 556.6M375.9 556.6L392.4 553.9M375.9 556.6L366.4 552M366.4 552L382.9 549.3M366.4 552L356.9 547.4M356.9 547.4L373.4 544.7M356.9 547.4L347.4 542.7M347.4 542.7L363.9 540M347.4 542.7L337.9 538.1M337.9 538.1L354.4 535.4M337.9 538.1L328.4 533.5M328.4 533.5L344.9 530.8M328.4 533.5L318.9 528.8M318.9 528.8L335.4 526.1M318.9 528.8L309.4 524.2M309.4 524.2L325.9 521.5M309.4 524.2L299.9 519.6M299.9 519.6L316.4 516.9M299.9 519.6L290.4 514.9M290.4 514.9L306.9 512.2M290.4 514.9L280.9 510.3M280.9 510.3L297.4 507.6M280.9 510.3L271.4 459.8M271.4 459.8L287.9 457.7M271.4 459.8L261.9 429.1M261.9 429.1L278.4 427.1M250.4 446.1L242.9 482.1M242.9 482.1L258.7 480.1M242.9 482.1L233.4 487.1M233.4 487.1L249.9 484.4M233.4 487.1L230.2 485.6M227.1 484L223.9 482.5M223.9 482.5L227.3 481.9M223.9 482.5L214.4 477.9M214.4 477.9L228.8 475.5M214.4 477.9L204.9 473.2M204.9 473.2L221.4 470.5M204.9 473.2L195.4 468.6M195.4 468.6L211.8 465.9M195.4 468.6L185.9 464M185.9 464L202.3 461.3M185.9 464L176.4 459.3M176.4 459.3L192.8 456.6M176.4 459.3L166.9 454.7M166.9 454.7L183.3 452M166.9 454.7L157.4 450.1M157.4 450.1L173.8 447.4M157.4 450.1L147.9 445.4M147.9 445.4L164.3 442.7M147.9 445.4L138.4 440.8M138.4 440.8L154.8 438.1M138.4 440.8L128.9 436.2M128.9 436.2L145.3 433.5M420.9 567.8L437.4 565.1M420.9 567.8L411.4 563.2M411.4 563.2L427.9 560.5M411.4 563.2L401.9 558.6M401.9 558.6L418.4 555.9M401.9 558.6L392.4 553.9M392.4 553.9L408.9 551.2M392.4 553.9L382.9 549.3M382.9 549.3L399.4 546.6M382.9 549.3L373.4 544.7M373.4 544.7L389.9 542M373.4 544.7L363.9 540M363.9 540L380.4 537.3M363.9 540L354.4 535.4M354.4 535.4L370.9 532.7M354.4 535.4L344.9 530.8M344.9 530.8L361.4 528.1M344.9 530.8L335.4 526.1M335.4 526.1L351.9 523.4M335.4 526.1L325.9 521.5M325.9 521.5L342.4 518.8M325.9 521.5L316.4 516.9M316.4 516.9L332.9 514.2M316.4 516.9L306.9 512.2M306.9 512.2L323.4 509.5M306.9 512.2L297.4 507.6M297.4 507.6L313.9 504.9M297.4 507.6L287.9 457.7M287.9 457.7L304.3 455.7M287.9 457.7L278.4 427.1M278.4 427.1L294.8 425.1M258.6 480.4L249.9 484.4M249.9 484.4L259.5 482.9M244.7 481.9L242.3 480.8M228.9 474.2L221.4 470.5M221.4 470.5L229.6 469.2M221.4 470.5L211.8 465.9M211.8 465.9L228.3 463.2M211.8 465.9L202.3 461.3M202.3 461.3L218.8 458.6M202.3 461.3L192.8 456.6M192.8 456.6L209.3 453.9M192.8 456.6L183.3 452M183.3 452L199.8 449.3M183.3 452L173.8 447.4M173.8 447.4L190.3 444.7M173.8 447.4L164.3 442.7M164.3 442.7L180.8 440M164.3 442.7L154.8 438.1M154.8 438.1L171.3 435.4M154.8 438.1L145.3 433.5M145.3 433.5L161.8 430.8M437.4 565.1L453.9 562.4M437.4 565.1L427.9 560.5M427.9 560.5L444.4 557.8M427.9 560.5L418.4 555.9M418.4 555.9L434.9 553.2M418.4 555.9L408.9 551.2M408.9 551.2L425.4 548.5M408.9 551.2L399.4 546.6M399.4 546.6L415.8 543.9M399.4 546.6L389.9 542M389.9 542L406.3 539.3M389.9 542L380.4 537.3M380.4 537.3L396.8 534.6M380.4 537.3L370.9 532.7M370.9 532.7L387.3 530M370.9 532.7L361.4 528.1M361.4 528.1L377.8 525.4M361.4 528.1L351.9 523.4M351.9 523.4L368.3 520.7M351.9 523.4L342.4 518.8M342.4 518.8L358.8 516.1M342.4 518.8L332.9 514.2M332.9 514.2L349.3 511.5M332.9 514.2L323.4 509.5M323.4 509.5L339.8 506.8M323.4 509.5L313.9 504.9M313.9 504.9L330.3 502.2M313.9 504.9L304.3 455.7M304.3 455.7L320.8 453.7M304.3 455.7L294.8 425.1M294.8 425.1L311.3 423M230.7 464.4L228.3 463.2M228.3 463.2L218.8 458.6M218.8 458.6L232.5 456.3M218.8 458.6L209.3 453.9M209.3 453.9L225.8 451.2M209.3 453.9L199.8 449.3M199.8 449.3L216.3 446.6M199.8 449.3L190.3 444.7M190.3 444.7L206.8 442M190.3 444.7L180.8 440M180.8 440L197.3 437.3M180.8 440L171.3 435.4M171.3 435.4L187.8 432.7M171.3 435.4L161.8 430.8M161.8 430.8L178.3 428.1M453.9 562.4L470.3 559.7M453.9 562.4L444.4 557.8M444.4 557.8L460.8 555.1M444.4 557.8L434.9 553.2M434.9 553.2L451.3 550.5M434.9 553.2L425.4 548.5M425.4 548.5L441.8 545.8M425.4 548.5L415.8 543.9M415.8 543.9L432.3 541.2M415.8 543.9L406.3 539.3M406.3 539.3L422.8 536.6M406.3 539.3L396.8 534.6M396.8 534.6L413.3 531.9M396.8 534.6L387.3 530M387.3 530L403.8 527.3M387.3 530L377.8 525.4M377.8 525.4L394.3 522.7M377.8 525.4L368.3 520.7M368.3 520.7L384.8 518M368.3 520.7L358.8 516.1M358.8 516.1L375.3 513.4M358.8 516.1L349.3 511.5M349.3 511.5L365.8 508.8M349.3 511.5L339.8 506.8M339.8 506.8L356.3 504.1M339.8 506.8L330.3 502.2M330.3 502.2L346.8 499.5M330.3 502.2L320.8 453.7M320.8 453.7L337.3 451.6M320.8 453.7L311.3 423M311.3 423L327.8 421M232.9 454.7L225.8 451.2M225.8 451.2L234 449.9M225.8 451.2L216.3 446.6M216.3 446.6L232.7 443.9M216.3 446.6L206.8 442M206.8 442L223.2 439.3M206.8 442L197.3 437.3M197.3 437.3L213.7 434.6M197.3 437.3L187.8 432.7M187.8 432.7L204.2 430M187.8 432.7L178.3 428.1M178.3 428.1L194.7 425.4M470.3 559.7L486.8 557M470.3 559.7L460.8 555.1M460.8 555.1L477.3 552.4M460.8 555.1L451.3 550.5M451.3 550.5L467.8 547.8M451.3 550.5L441.8 545.8M441.8 545.8L458.3 543.1M441.8 545.8L432.3 541.2M432.3 541.2L448.8 538.5M432.3 541.2L422.8 536.6M422.8 536.6L439.3 533.9M422.8 536.6L413.3 531.9M413.3 531.9L429.8 529.2M413.3 531.9L403.8 527.3M403.8 527.3L420.3 524.6M403.8 527.3L394.3 522.7M394.3 522.7L410.8 520M394.3 522.7L384.8 518M384.8 518L401.3 515.3M384.8 518L375.3 513.4M375.3 513.4L391.8 510.7M375.3 513.4L365.8 508.8M365.8 508.8L382.3 506.1M365.8 508.8L356.3 504.1M356.3 504.1L372.8 501.4M356.3 504.1L346.8 499.5M346.8 499.5L363.3 496.8M346.8 499.5L337.3 451.6M337.3 451.6L353.8 449.6M337.3 451.6L327.8 421M327.8 421L344.3 419M235.1 445.1L232.7 443.9M232.7 443.9L223.2 439.3M223.2 439.3L238.3 436.8M223.2 439.3L213.7 434.6M213.7 434.6L230.2 431.9M213.7 434.6L204.2 430M204.2 430L220.7 427.3M204.2 430L194.7 425.4M194.7 425.4L211.2 422.7M486.8 557L503.3 554.3M486.8 557L477.3 552.4M477.3 552.4L493.8 549.7M477.3 552.4L467.8 547.8M467.8 547.8L484.3 545.1M467.8 547.8L458.3 543.1M458.3 543.1L474.8 540.4M458.3 543.1L448.8 538.5M448.8 538.5L465.3 535.8M448.8 538.5L439.3 533.9M439.3 533.9L455.8 531.2M439.3 533.9L429.8 529.2M429.8 529.2L446.3 526.5M429.8 529.2L420.3 524.6M420.3 524.6L436.7 521.9M420.3 524.6L410.8 520M410.8 520L427.2 517.3M410.8 520L401.3 515.3M401.3 515.3L417.7 512.6M401.3 515.3L391.8 510.7M391.8 510.7L408.2 508M391.8 510.7L382.3 506.1M382.3 506.1L398.7 503.4M382.3 506.1L372.8 501.4M372.8 501.4L389.2 498.7M372.8 501.4L363.3 496.8M363.3 496.8L379.7 494.1M363.3 496.8L353.8 449.6M353.8 449.6L370.2 447.6M353.8 449.6L344.3 419M344.3 419L360.7 416.9M239.3 436.4L230.2 431.9M230.2 431.9L246.7 429.2M230.2 431.9L220.7 427.3M220.7 427.3L237.2 424.6M220.7 427.3L211.2 422.7M211.2 422.7L227.7 420M503.3 554.3L519.7 551.6M503.3 554.3L493.8 549.7M493.8 549.7L510.2 547M493.8 549.7L484.3 545.1M484.3 545.1L500.7 542.4M484.3 545.1L474.8 540.4M474.8 540.4L491.2 537.7M474.8 540.4L465.3 535.8M465.3 535.8L481.7 533.1M465.3 535.8L455.8 531.2M455.8 531.2L472.2 528.5M455.8 531.2L446.3 526.5M446.3 526.5L462.7 523.8M446.3 526.5L436.7 521.9M436.7 521.9L453.2 519.2M436.7 521.9L427.2 517.3M427.2 517.3L443.7 514.6M427.2 517.3L417.7 512.6M417.7 512.6L434.2 509.9M417.7 512.6L408.2 508M408.2 508L424.7 505.3M408.2 508L398.7 503.4M398.7 503.4L415.2 500.7M398.7 503.4L389.2 498.7M389.2 498.7L405.7 496M389.2 498.7L379.7 494.1M379.7 494.1L396.2 491.4M379.7 494.1L370.2 447.6M370.2 447.6L386.7 445.5M370.2 447.6L360.7 416.9M360.7 416.9L377.2 414.9M249.9 430.8L246.7 429.2M246.7 429.2L263.2 426.5M246.7 429.2L237.2 424.6M237.2 424.6L253.6 421.9M237.2 424.6L227.7 420M227.7 420L244.1 417.3M519.7 551.6L536.2 548.9M519.7 551.6L510.2 547M510.2 547L526.7 544.3M510.2 547L500.7 542.4M500.7 542.4L517.2 539.7M500.7 542.4L491.2 537.7M491.2 537.7L507.7 535M491.2 537.7L481.7 533.1M481.7 533.1L498.2 530.4M481.7 533.1L472.2 528.5M472.2 528.5L488.7 525.8M472.2 528.5L462.7 523.8M462.7 523.8L479.2 521.1M462.7 523.8L453.2 519.2M453.2 519.2L469.7 516.5M453.2 519.2L443.7 514.6M443.7 514.6L460.2 511.9M443.7 514.6L434.2 509.9M434.2 509.9L450.7 507.2M434.2 509.9L424.7 505.3M424.7 505.3L441.2 502.6M424.7 505.3L415.2 500.7M415.2 500.7L431.7 498M415.2 500.7L405.7 496M405.7 496L422.2 493.3M405.7 496L396.2 491.4M396.2 491.4L412.7 488.7M396.2 491.4L386.7 445.5M386.7 445.5L403.2 443.5M386.7 445.5L377.2 414.9M377.2 414.9L393.7 412.9M267.5 428.7L263.2 426.5M263.2 426.5L279.6 423.8M263.2 426.5L253.6 421.9M253.6 421.9L270.1 419.2M253.6 421.9L244.1 417.3M244.1 417.3L260.6 414.6M536.2 548.9L552.7 546.2M536.2 548.9L526.7 544.3M526.7 544.3L543.2 541.6M526.7 544.3L517.2 539.7M517.2 539.7L533.7 537M517.2 539.7L507.7 535M507.7 535L524.2 532.3M507.7 535L498.2 530.4M498.2 530.4L514.7 527.7M498.2 530.4L488.7 525.8M488.7 525.8L505.2 523.1M488.7 525.8L479.2 521.1M479.2 521.1L495.7 518.4M479.2 521.1L469.7 516.5M469.7 516.5L486.2 513.8M469.7 516.5L460.2 511.9M460.2 511.9L476.7 509.2M460.2 511.9L450.7 507.2M450.7 507.2L467.2 504.5M450.7 507.2L441.2 502.6M441.2 502.6L457.6 499.9M441.2 502.6L431.7 498M431.7 498L448.1 495.3M431.7 498L422.2 493.3M422.2 493.3L438.6 490.6M422.2 493.3L412.7 488.7M412.7 488.7L429.1 486M412.7 488.7L403.2 443.5M403.2 443.5L419.6 441.4M403.2 443.5L393.7 412.9M393.7 412.9L410.1 410.8M284.8 426.3L279.6 423.8M279.6 423.8L296.1 421.1M279.6 423.8L270.1 419.2M270.1 419.2L286.6 416.5M270.1 419.2L260.6 414.6M260.6 414.6L277.1 411.9M552.7 546.2L569.2 543.5M552.7 546.2L543.2 541.6M543.2 541.6L559.7 538.9M543.2 541.6L533.7 537M533.7 537L550.1 534.3M533.7 537L524.2 532.3M524.2 532.3L540.6 529.6M524.2 532.3L514.7 527.7M514.7 527.7L531.1 525M514.7 527.7L505.2 523.1M505.2 523.1L521.6 520.4M505.2 523.1L495.7 518.4M495.7 518.4L512.1 515.7M495.7 518.4L486.2 513.8M486.2 513.8L502.6 511.1M486.2 513.8L476.7 509.2M476.7 509.2L493.1 506.5M476.7 509.2L467.2 504.5M467.2 504.5L483.6 501.8M467.2 504.5L457.6 499.9M457.6 499.9L474.1 497.2M457.6 499.9L448.1 495.3M448.1 495.3L464.6 492.6M448.1 495.3L438.6 490.6M438.6 490.6L455.1 487.9M438.6 490.6L429.1 486M429.1 486L445.6 483.3M429.1 486L419.6 441.4M419.6 441.4L436.1 437.5M419.6 441.4L410.1 410.8M410.1 410.8L426.6 406.9M302.4 424.2L296.1 421.1M296.1 421.1L312.6 418.4M296.1 421.1L286.6 416.5M286.6 416.5L303.1 413.8M286.6 416.5L277.1 411.9M277.1 411.9L293.6 409.2M569.2 543.5L585.6 540.8M569.2 543.5L559.7 538.9M559.7 538.9L576.1 536.2M559.7 538.9L550.1 534.3M550.1 534.3L566.6 531.6M550.1 534.3L540.6 529.6M540.6 529.6L557.1 526.9M540.6 529.6L531.1 525M531.1 525L547.6 522.3M531.1 525L521.6 520.4M521.6 520.4L538.1 517.7M521.6 520.4L512.1 515.7M512.1 515.7L528.6 513M512.1 515.7L502.6 511.1M502.6 511.1L519.1 508.4M502.6 511.1L493.1 506.5M493.1 506.5L509.6 503.8M493.1 506.5L483.6 501.8M483.6 501.8L500.1 499.1M483.6 501.8L474.1 497.2M474.1 497.2L490.6 494.5M474.1 497.2L464.6 492.6M464.6 492.6L481.1 489.9M464.6 492.6L455.1 487.9M455.1 487.9L471.6 485.2M455.1 487.9L445.6 483.3M445.6 483.3L462.1 473.2M445.6 483.3L436.1 437.5M436.1 437.5L452.6 406.3M436.1 437.5L426.6 406.9M426.6 406.9L443.1 375.9M420.5 407.9L433.6 383.3M320.1 422.1L312.6 418.4M312.6 418.4L329 415.7M312.6 418.4L303.1 413.8M303.1 413.8L319.5 411.1M303.1 413.8L293.6 409.2M293.6 409.2L310 406.5M585.6 540.8L602.1 538.1M585.6 540.8L576.1 536.2M576.1 536.2L592.6 533.5M576.1 536.2L566.6 531.6M566.6 531.6L583.1 528.9M566.6 531.6L557.1 526.9M557.1 526.9L573.6 524.2M557.1 526.9L547.6 522.3M547.6 522.3L564.1 519.6M547.6 522.3L538.1 517.7M538.1 517.7L554.6 515M538.1 517.7L528.6 513M528.6 513L545.1 510.3M528.6 513L519.1 508.4M519.1 508.4L535.6 505.7M519.1 508.4L509.6 503.8M509.6 503.8L526.1 501.1M509.6 503.8L500.1 499.1M500.1 499.1L516.6 496.4M500.1 499.1L490.6 494.5M490.6 494.5L507.1 491.8M490.6 494.5L481.1 489.9M481.1 489.9L497.6 487.2M481.1 489.9L471.6 485.2M471.6 485.2L488.1 475.3M471.6 485.2L462.1 473.2M462.1 473.2L478.6 394.3M462.1 473.2L452.6 406.3M452.6 406.3L469 328.3M452.6 406.3L443.1 375.9M443.1 375.9L459.5 298M443.1 375.9L433.6 383.3M433.6 383.3L450 305.4M433 385.8L440.5 350M337.7 420L329 415.7M329 415.7L345.5 413M329 415.7L319.5 411.1M319.5 411.1L336 408.4M319.5 411.1L310 406.5M310 406.5L326.5 403.8M602.1 538.1L618.6 482.3M602.1 538.1L592.6 533.5M592.6 533.5L609.1 478.9M592.6 533.5L583.1 528.9M583.1 528.9L599.6 475.5M583.1 528.9L573.6 524.2M573.6 524.2L590.1 472.2M573.6 524.2L564.1 519.6M564.1 519.6L580.6 468.8M564.1 519.6L554.6 515M554.6 515L571 465.4M554.6 515L545.1 510.3M545.1 510.3L561.5 462.1M545.1 510.3L535.6 505.7M535.6 505.7L552 458.7M535.6 505.7L526.1 501.1M526.1 501.1L542.5 455.3M526.1 501.1L516.6 496.4M516.6 496.4L533 452M516.6 496.4L507.1 491.8M507.1 491.8L523.5 448.5M507.1 491.8L497.6 487.2M497.6 487.2L514 443.3M497.6 487.2L488.1 475.3M488.1 475.3L504.5 410.5M488.1 475.3L478.6 394.3M478.6 394.3L495 330.3M478.6 394.3L469 328.3M469 328.3L485.5 264.5M469 328.3L459.5 298M459.5 298L476 234.2M459.5 298L450 305.4M450 305.4L466.5 241.6M450 305.4L440.5 350M395.2 412.6L400 404.7M382.2 414.1L390.5 401.4M368.6 416.2L381 398M355 417.7L371.5 394.6M355 417.7L345.5 413M345.5 413L362 391.2M345.5 413L336 408.4M336 408.4L352.5 387.8M336 408.4L326.5 403.8M326.5 403.8L343 384.5M618.6 482.3L635 453.5M618.6 482.3L609.1 478.9M609.1 478.9L625.5 450.2M609.1 478.9L599.6 475.5M599.6 475.5L616 446.8M599.6 475.5L590.1 472.2M590.1 472.2L606.5 443.4M590.1 472.2L580.6 468.8M580.6 468.8L597 440.1M580.6 468.8L571 465.4M571 465.4L587.5 436.7M571 465.4L561.5 462.1M561.5 462.1L578 433.3M561.5 462.1L552 458.7M552 458.7L568.5 430M552 458.7L542.5 455.3M542.5 455.3L559 426.6M542.5 455.3L533 452M533 452L549.5 423.2M533 452L523.5 448.5M523.5 448.5L540 419.8M523.5 448.5L514 443.3M514 443.3L530.5 414.6M514 443.3L504.5 410.5M504.5 410.5L521 381.9M504.5 410.5L495 330.3M495 330.3L511.5 301.9M495 330.3L485.5 264.5M485.5 264.5L502 236.2M485.5 264.5L476 234.2M476 234.2L492.5 205.9M476 234.2L466.5 241.6M466.5 241.6L483 213.3M414.6 409.9L409.5 408.1M409.5 408.1L426 379.5M409.5 408.1L400 404.7M400 404.7L416.5 376.1M400 404.7L390.5 401.4M390.5 401.4L407 372.7M390.5 401.4L381 398M381 398L397.4 369.4M381 398L371.5 394.6M371.5 394.6L387.9 366M371.5 394.6L362 391.2M362 391.2L378.4 362.6M362 391.2L352.5 387.8M352.5 387.8L368.9 359.2M352.5 387.8L343 384.5M343 384.5L359.4 355.9M635 453.5L651.5 463M635 453.5L625.5 450.2M625.5 450.2L629 452.1M633.8 454.9L642 459.6M625.5 450.2L616 446.8M616 446.8L619.5 448.8M616 446.8L606.5 443.4M606.5 443.4L610 445.4M606.5 443.4L597 440.1M597 440.1L600.5 442M597 440.1L587.5 436.7M587.5 436.7L590.9 438.7M587.5 436.7L578 433.3M578 433.3L581.4 435.3M578 433.3L568.5 430M568.5 430L571.9 431.9M568.5 430L559 426.6M559 426.6L562.4 428.6M559 426.6L549.5 423.2M549.5 423.2L552.9 425.2M549.5 423.2L540 419.8M540 419.8L543.4 421.8M540 419.8L530.5 414.6M530.5 414.6L542.2 421.3M530.5 414.6L521 381.9M521 381.9L537.5 391.3M521 381.9L511.5 301.9M511.5 301.9L528 311.3M511.5 301.9L502 236.2M502 236.2L518.5 245.5M502 236.2L492.5 205.9M492.5 205.9L509 215.2M492.5 205.9L483 213.3M433.9 382.3L426 379.5M426 379.5L429.4 381.4M426 379.5L416.5 376.1M416.5 376.1L419.9 378.1M416.5 376.1L407 372.7M407 372.7L410.4 374.7M407 372.7L397.4 369.4M397.4 369.4L400.9 371.3M397.4 369.4L387.9 366M387.9 366L391.4 368M387.9 366L378.4 362.6M378.4 362.6L381.9 364.6M378.4 362.6L368.9 359.2M368.9 359.2L372.4 361.2M368.9 359.2L359.4 355.9M359.4 355.9L362.9 357.8M651.5 463L668 510.5M651.5 463L642 459.6M642 459.6L658.5 507.1M642 459.6L633.3 456.5M632.5 456.3L649 503.7M627.8 466.7L639.5 500.3M622.4 475.2L630 496.9M546.6 422.7L537.5 391.3M537.5 391.3L548.4 422.5M537.5 391.3L528 311.3M528 311.3L544.4 357.7M528 311.3L518.5 245.5M518.5 245.5L534.9 291.8M518.5 245.5L509 215.2M509 215.2L525.4 261.5M668 510.5L684.4 524.6M668 510.5L658.5 507.1M658.5 507.1L674.9 520M658.5 507.1L649 503.7M649 503.7L665.4 515.4M649 503.7L639.5 500.3M639.5 500.3L655.9 510.7M639.5 500.3L630 496.9M630 496.9L646.4 506.1M630 496.9L620.5 493.6M620.5 493.6L636.9 501.5M620.5 493.6L615.7 491.9M615.8 492.1L626.7 496.6M552.3 424.7L544.4 357.7M544.4 357.7L559.5 426M544.4 357.7L534.9 291.8M534.9 291.8L551.4 365.9M534.9 291.8L525.4 261.5M503.8 409.4L513.4 441.2M684.4 524.6L700.9 521.9M684.4 524.6L674.9 520M678.4 519.4L691.4 517.3M674.9 520L665.4 515.4M672.3 514.2L681.9 512.7M665.4 515.4L655.9 510.7M667.6 508.8L672.4 508M655.9 510.7L646.4 506.1M646.4 506.1L636.9 501.5M636.9 501.5L633.8 499.9M621.9 494.1L617.9 492.2M617.9 492.2L615.5 491M560.1 426.7L551.4 365.9M551.4 365.9L567.9 416.1M550.1 360.5L558.4 385.6M700.9 521.9L717.4 519.2M700.9 521.9L691.4 517.3M691.4 517.3L707.9 514.6M691.4 517.3L681.9 512.7M681.9 512.7L698.4 510M681.9 512.7L672.4 508M672.4 508L688.9 505.3M672.4 508L665.7 504.8M665 503.1L679.4 500.7M663 497.2L669.9 496.1M571 431.3L567.9 416.1M567.9 416.1L584.3 420.9M567.9 416.1L558.4 385.6M558.4 385.6L574.8 390.3M717.4 519.2L733.9 516.5M717.4 519.2L707.9 514.6M707.9 514.6L724.4 511.9M707.9 514.6L698.4 510M698.4 510L714.8 507.3M698.4 510L688.9 505.3M688.9 505.3L705.3 502.6M688.9 505.3L679.4 500.7M679.4 500.7L695.8 498M679.4 500.7L669.9 496.1M669.9 496.1L686.3 493.4M669.9 496.1L661.6 492M661 491.3L676.8 488.7M659.1 485.5L667.3 484.1M588.7 438.4L584.3 420.9M584.3 420.9L600.8 419.1M584.3 420.9L574.8 390.3M574.8 390.3L591.3 388.5M733.9 516.5L750.3 513.8M733.9 516.5L724.4 511.9M724.4 511.9L740.8 509.2M724.4 511.9L714.8 507.3M714.8 507.3L731.3 504.6M714.8 507.3L705.3 502.6M705.3 502.6L721.8 499.9M705.3 502.6L695.8 498M695.8 498L712.3 495.3M695.8 498L686.3 493.4M686.3 493.4L702.8 490.7M686.3 493.4L676.8 488.7M676.8 488.7L693.3 486M676.8 488.7L667.3 484.1M667.3 484.1L683.8 481.4M667.3 484.1L657.8 479.5M657.8 479.5L674.3 476.8M655.2 473.7L664.8 472.1M607.1 443.9L600.8 419.1M600.8 419.1L617.3 417M600.8 419.1L591.3 388.5M591.3 388.5L607.8 386.4M750.3 513.8L766.8 511.1M750.3 513.8L740.8 509.2M740.8 509.2L757.3 506.5M740.8 509.2L731.3 504.6M731.3 504.6L747.8 501.9M731.3 504.6L721.8 499.9M721.8 499.9L738.3 497.2M721.8 499.9L712.3 495.3M712.3 495.3L728.8 492.6M712.3 495.3L702.8 490.7M702.8 490.7L719.3 488M702.8 490.7L693.3 486M693.3 486L709.8 483.3M693.3 486L683.8 481.4M683.8 481.4L700.3 478.7M683.8 481.4L674.3 476.8M674.3 476.8L690.8 474.1M674.3 476.8L664.8 472.1M664.8 472.1L681.3 469.4M664.8 472.1L655.3 467.5M655.3 467.5L671.8 464.8M655.3 467.5L652.5 466.1M647.8 462.5L662.3 460.2M641.8 457.3L652.8 455.5M636.3 458.2L633.1 456.7M632.3 452.7L643.2 450.9M626 450.6L617.3 417M617.3 417L633.7 415M617.3 417L607.8 386.4M607.8 386.4L624.2 384.4M766.8 511.1L783.3 508.4M766.8 511.1L757.3 506.5M757.3 506.5L773.8 503.8M757.3 506.5L747.8 501.9M747.8 501.9L764.3 499.2M747.8 501.9L738.3 497.2M738.3 497.2L754.8 494.5M738.3 497.2L728.8 492.6M728.8 492.6L745.3 489.9M728.8 492.6L719.3 488M719.3 488L735.7 485.3M719.3 488L709.8 483.3M709.8 483.3L726.2 480.6M709.8 483.3L700.3 478.7M700.3 478.7L716.7 476M700.3 478.7L690.8 474.1M690.8 474.1L707.2 471.4M690.8 474.1L681.3 469.4M681.3 469.4L697.7 466.7M681.3 469.4L671.8 464.8M671.8 464.8L688.2 462.1M671.8 464.8L662.3 460.2M662.3 460.2L678.7 457.5M662.3 460.2L652.8 455.5M652.8 455.5L669.2 452.8M652.8 455.5L643.2 450.9M643.2 450.9L659.7 448.2M643.2 450.9L633.7 415M633.7 415L650.2 413M633.7 415L624.2 384.4M624.2 384.4L640.7 382.4M783.3 508.4L799.7 505.7M783.3 508.4L773.8 503.8M773.8 503.8L790.2 501.1M773.8 503.8L764.3 499.2M764.3 499.2L780.7 496.5M764.3 499.2L754.8 494.5M754.8 494.5L771.2 491.8M754.8 494.5L745.3 489.9M745.3 489.9L761.7 487.2M745.3 489.9L735.7 485.3M735.7 485.3L752.2 482.6M735.7 485.3L726.2 480.6M726.2 480.6L742.7 477.9M726.2 480.6L716.7 476M716.7 476L733.2 473.3M716.7 476L707.2 471.4M707.2 471.4L723.7 468.7M707.2 471.4L697.7 466.7M697.7 466.7L714.2 464M697.7 466.7L688.2 462.1M688.2 462.1L704.7 459.4M688.2 462.1L678.7 457.5M678.7 457.5L695.2 454.8M678.7 457.5L669.2 452.8M669.2 452.8L685.7 450.1M669.2 452.8L659.7 448.2M659.7 448.2L676.2 445.5M659.7 448.2L650.2 413M650.2 413L666.7 410.9M650.2 413L640.7 382.4M640.7 382.4L657.2 380.3M799.7 505.7L816.2 503M799.7 505.7L790.2 501.1M790.2 501.1L806.7 498.4M790.2 501.1L780.7 496.5M780.7 496.5L797.2 493.8M780.7 496.5L771.2 491.8M771.2 491.8L787.7 489.1M771.2 491.8L761.7 487.2M761.7 487.2L778.2 484.5M761.7 487.2L752.2 482.6M752.2 482.6L768.7 479.9M752.2 482.6L742.7 477.9M742.7 477.9L759.2 475.2M742.7 477.9L733.2 473.3M733.2 473.3L749.7 470.6M733.2 473.3L723.7 468.7M723.7 468.7L740.2 466M723.7 468.7L714.2 464M714.2 464L730.7 461.3M714.2 464L704.7 459.4M704.7 459.4L721.2 456.7M704.7 459.4L695.2 454.8M695.2 454.8L711.7 452.1M695.2 454.8L685.7 450.1M685.7 450.1L702.2 447.4M685.7 450.1L676.2 445.5M676.2 445.5L692.7 442.8M676.2 445.5L666.7 410.9M666.7 410.9L683.2 408.9M666.7 410.9L657.2 380.3M657.2 380.3L673.7 378.3M569 388.8L578.6 387.2M558.1 384.4L569.1 382.6M556.2 378.5L559.6 377.9M816.2 503L832.7 500.3M816.2 503L806.7 498.4M806.7 498.4L823.2 495.7M806.7 498.4L797.2 493.8M797.2 493.8L813.7 491.1M797.2 493.8L787.7 489.1M787.7 489.1L804.2 486.4M787.7 489.1L778.2 484.5M778.2 484.5L794.7 481.8M778.2 484.5L768.7 479.9M768.7 479.9L785.2 477.2M768.7 479.9L759.2 475.2M759.2 475.2L775.7 472.5M759.2 475.2L749.7 470.6M749.7 470.6L766.2 467.9M749.7 470.6L740.2 466M740.2 466L756.6 463.3M740.2 466L730.7 461.3M730.7 461.3L747.1 458.6M730.7 461.3L721.2 456.7M721.2 456.7L737.6 454M721.2 456.7L711.7 452.1M711.7 452.1L728.1 449.4M711.7 452.1L702.2 447.4M702.2 447.4L718.6 444.7M702.2 447.4L692.7 442.8M692.7 442.8L709.1 440.1M692.7 442.8L683.2 408.9M683.2 408.9L699.6 406.8M683.2 408.9L673.7 378.3M673.7 378.3L690.1 376.3M583.4 389.5L578.6 387.2M578.6 387.2L595.1 384.5M578.6 387.2L569.1 382.6M569.1 382.6L585.6 379.9M569.1 382.6L559.6 377.9M559.6 377.9L576.1 375.2M559.6 377.9L555.3 375.8M554.2 372.6L566.6 370.6M552.3 366.8L557.1 366M832.7 500.3L849.1 497.6M832.7 500.3L823.2 495.7M823.2 495.7L839.6 493M823.2 495.7L813.7 491.1M813.7 491.1L830.1 488.4M813.7 491.1L804.2 486.4M804.2 486.4L820.6 483.7M804.2 486.4L794.7 481.8M794.7 481.8L811.1 479.1M794.7 481.8L785.2 477.2M785.2 477.2L801.6 474.5M785.2 477.2L775.7 472.5M775.7 472.5L792.1 469.8M775.7 472.5L766.2 467.9M766.2 467.9L782.6 465.2M766.2 467.9L756.6 463.3M756.6 463.3L773.1 460.6M756.6 463.3L747.1 458.6M747.1 458.6L763.6 455.9M747.1 458.6L737.6 454M737.6 454L754.1 451.3M737.6 454L728.1 449.4M728.1 449.4L744.6 446.7M728.1 449.4L718.6 444.7M718.6 444.7L735.1 442M718.6 444.7L709.1 440.1M709.1 440.1L725.6 437.4M709.1 440.1L699.6 406.8M699.6 406.8L716.1 404.8M699.6 406.8L690.1 376.3M690.1 376.3L706.6 374.2M601 387.4L595.1 384.5M595.1 384.5L611.6 381.8M595.1 384.5L585.6 379.9M585.6 379.9L602.1 377.2M585.6 379.9L576.1 375.2M576.1 375.2L592.6 372.5M576.1 375.2L566.6 370.6M566.6 370.6L583.1 367.9M566.6 370.6L557.1 366M557.1 366L573.5 363.3M849.1 497.6L865.6 494.9M849.1 497.6L839.6 493M839.6 493L856.1 490.3M839.6 493L830.1 488.4M830.1 488.4L846.6 485.7M830.1 488.4L820.6 483.7M820.6 483.7L837.1 481M820.6 483.7L811.1 479.1M811.1 479.1L827.6 476.4M811.1 479.1L801.6 474.5M801.6 474.5L818.1 471.8M801.6 474.5L792.1 469.8M792.1 469.8L808.6 467.1M792.1 469.8L782.6 465.2M782.6 465.2L799.1 462.5M782.6 465.2L773.1 460.6M773.1 460.6L789.6 457.9M773.1 460.6L763.6 455.9M763.6 455.9L780.1 453.2M763.6 455.9L754.1 451.3M754.1 451.3L770.6 448.6M754.1 451.3L744.6 446.7M744.6 446.7L761.1 444M744.6 446.7L735.1 442M735.1 442L751.6 439.3M735.1 442L725.6 437.4M725.6 437.4L742.1 434.7M725.6 437.4L716.1 404.8M716.1 404.8L732.6 402.8M716.1 404.8L706.6 374.2M706.6 374.2L723.1 372.2M618.7 385.3L611.6 381.8M611.6 381.8L628 379.1M611.6 381.8L602.1 377.2M602.1 377.2L618.5 374.5M602.1 377.2L592.6 372.5M592.6 372.5L609 369.8M592.6 372.5L583.1 367.9M583.1 367.9L599.5 365.2M583.1 367.9L573.5 363.3M573.5 363.3L590 360.6M865.6 494.9L856.1 490.3M856.1 490.3L846.6 485.7M846.6 485.7L837.1 481M837.1 481L827.6 476.4M827.6 476.4L818.1 471.8M818.1 471.8L808.6 467.1M808.6 467.1L799.1 462.5M799.1 462.5L789.6 457.9M789.6 457.9L780.1 453.2M780.1 453.2L770.6 448.6M770.6 448.6L761.1 444M761.1 444L751.6 439.3M751.6 439.3L742.1 434.7M742.1 434.7L732.6 402.8M732.6 402.8L723.1 372.2M635.9 383L628 379.1M628 379.1L618.5 374.5M618.5 374.5L609 369.8M609 369.8L599.5 365.2M599.5 365.2L590 360.6" stroke="#ff0000" stroke-width="3.1" fill="none" stroke-linecap="round"/><path d="M267.7 447.8L251.5 450.6M251.7 440L235.1 442.6M283.9 445L267.7 447.8M300.1 442.2L283.9 445M316.4 439.3L300.1 442.2M332.6 436.5L316.4 439.3M348.8 433.7L332.6 436.5M365 430.9L348.8 433.7M381.3 428.1L365 430.9M397.5 425.2L381.3 428.1M413.7 422.4L397.5 425.2M430.7 419.9L413.7 422.4M454.7 420.9L444.7 421.2M444.7 421.2L430.7 419.9M482 423.5L472.6 422.8M472.6 422.8L454.7 420.9M509 426L501 424.3M501 424.3L482 423.5M620.4 479.1L611.7 474.3M611.7 474.3L603 469.5M603 469.5L594.3 464.8M594.3 464.8L585.6 460M585.6 460L576.9 455.2M576.9 455.2L568.2 450.5M568.2 450.5L559.5 445.7M559.5 445.7L550.8 440.9M550.8 440.9L542.1 436.2M542.1 436.2L533.4 431.4M533.4 431.4L523.4 426.9M523.4 426.9L509 426M655.1 473.4L645.2 468.8M645.2 468.8L635.3 464.2M546.5 416.9L546.6 422.8M546.5 416.9L551.1 414.3M555.8 409.2L551.1 414.3M555.8 409.2L557.2 406.5M563.2 401.8L557.2 406.5M563.2 401.8L562.3 398.3M523.5 389.7L522.6 389.1M576.1 394.3L562.3 398.3M592.2 391.4L576.1 394.3M608.4 388.6L592.2 391.4M624.7 385.8L608.4 388.6M640.9 383L624.7 385.8M640.3 382.7L623.3 385.1M653.3 380.8L640.9 383M653.3 380.8L640.3 382.7M474.7 367.3L461.1 365.9M461.1 365.9L446 362.2M446 362.2L439.1 357.1M439.1 357.1L440.4 350.7M499.6 368.8L485.3 368.1M485.3 368.1L474.7 367.3M519.3 367.6L499.6 368.8M534.2 364.2L519.3 367.6M544.5 358.5L534.2 364.2M544.6 358.4L544.5 358.5M544.6 358.4L548.2 351.6M463 309.1L457.5 307.7M457.5 307.7L452.1 303.8M492.5 312.7L473.4 311.3M473.4 311.3L463 309.1M450.8 302.6L452.1 303.8M512.7 311.8L505.5 312.2M505.5 312.2L492.5 312.7M524.2 309.2L512.7 311.8M524.2 309.2L527.5 308.3M536.4 301.9L527.5 308.3M536.9 300.9L536.4 301.9M482.6 255.3L471.2 252.9M471.2 252.9L464.9 247.7M464.9 247.7L465.4 246.9M504.8 255.4L490.5 255.9M490.5 255.9L482.6 255.3M519.4 251.8L504.8 255.4M520.4 251L519.4 251.8M520.4 251L519.5 245" stroke="#ff0000" stroke-width="1.9" fill="none" stroke-dasharray="1.9 3.4" stroke-dashoffset="-2"/>
<g stroke="#000" stroke-width="2" fill="none" stroke-linecap="square">
<line x1="99.4" y1="158.1" x2="384.5" y2="297.1" />
<line x1="384.5" y1="297.1" x2="878.6" y2="216.1" />
<line x1="384.5" y1="297.1" x2="384.5" y2="576.9" />
<line x1="384.5" y1="576.9" x2="99.4" y2="437.9" />
<line x1="384.5" y1="576.9" x2="878.6" y2="495.9" />
<line x1="99.4" y1="437.9" x2="99.4" y2="158.1" />
</g><g stroke="#000" stroke-width="1.5" fill="none">
<line x1="99.4" y1="436.8" x2="92.8" y2="436.8" />
<line x1="99.4" y1="423.7" x2="92.8" y2="423.7" />
<line x1="99.4" y1="413.5" x2="92.8" y2="413.5" />
<line x1="99.4" y1="405.2" x2="92.8" y2="405.2" />
<line x1="99.4" y1="398.1" x2="92.8" y2="398.1" />
<line x1="99.4" y1="392" x2="92.8" y2="392" />
<line x1="99.4" y1="386.6" x2="92.8" y2="386.6" />
<line x1="99.4" y1="381.8" x2="86" y2="381.8" />
<line x1="99.4" y1="350.2" x2="92.8" y2="350.2" />
<line x1="99.4" y1="331.6" x2="92.8" y2="331.6" />
<line x1="99.4" y1="318.5" x2="92.8" y2="318.5" />
<line x1="99.4" y1="308.3" x2="92.8" y2="308.3" />
<line x1="99.4" y1="300" x2="92.8" y2="300" />
<line x1="99.4" y1="292.9" x2="92.8" y2="292.9" />
<line x1="99.4" y1="286.8" x2="92.8" y2="286.8" />
<line x1="99.4" y1="281.5" x2="92.8" y2="281.5" />
<line x1="99.4" y1="276.6" x2="86" y2="276.6" />
<line x1="99.4" y1="245" x2="92.8" y2="245" />
<line x1="99.4" y1="226.5" x2="92.8" y2="226.5" />
<line x1="99.4" y1="213.3" x2="92.8" y2="213.3" />
<line x1="99.4" y1="203.1" x2="92.8" y2="203.1" />
<line x1="99.4" y1="194.8" x2="92.8" y2="194.8" />
<line x1="99.4" y1="187.8" x2="92.8" y2="187.8" />
<line x1="99.4" y1="181.7" x2="92.8" y2="181.7" />
<line x1="99.4" y1="176.3" x2="92.8" y2="176.3" />
<line x1="99.4" y1="171.5" x2="86" y2="171.5" />
<line x1="384.5" y1="576.9" x2="387.5" y2="585.3" />
<line x1="384.5" y1="576.9" x2="379.1" y2="582.4" />
<line x1="407" y1="573.2" x2="408.5" y2="577.4" />
<line x1="371.5" y1="570.6" x2="368.8" y2="573.3" />
<line x1="429.4" y1="569.5" x2="430.9" y2="573.7" />
<line x1="358.6" y1="564.3" x2="355.9" y2="567" />
<line x1="451.9" y1="565.9" x2="453.4" y2="570.1" />
<line x1="345.6" y1="557.9" x2="342.9" y2="560.7" />
<line x1="474.3" y1="562.2" x2="475.8" y2="566.4" />
<line x1="332.7" y1="551.6" x2="330" y2="554.4" />
<line x1="496.8" y1="558.5" x2="499.8" y2="566.9" />
<line x1="319.7" y1="545.3" x2="314.3" y2="550.8" />
<line x1="519.3" y1="554.8" x2="520.8" y2="559" />
<line x1="306.7" y1="539" x2="304" y2="541.7" />
<line x1="541.7" y1="551.1" x2="543.2" y2="555.3" />
<line x1="293.8" y1="532.7" x2="291.1" y2="535.4" />
<line x1="564.2" y1="547.4" x2="565.7" y2="551.6" />
<line x1="280.8" y1="526.4" x2="278.1" y2="529.1" />
<line x1="586.6" y1="543.8" x2="588.1" y2="548" />
<line x1="267.9" y1="520" x2="265.2" y2="522.8" />
<line x1="609.1" y1="540.1" x2="612.1" y2="548.5" />
<line x1="254.9" y1="513.7" x2="249.5" y2="519.2" />
<line x1="631.6" y1="536.4" x2="633.1" y2="540.6" />
<line x1="241.9" y1="507.4" x2="239.2" y2="510.1" />
<line x1="654" y1="532.7" x2="655.5" y2="536.9" />
<line x1="229" y1="501.1" x2="226.3" y2="503.8" />
<line x1="676.5" y1="529" x2="678" y2="533.2" />
<line x1="216" y1="494.8" x2="213.3" y2="497.5" />
<line x1="698.9" y1="525.4" x2="700.4" y2="529.6" />
<line x1="203.1" y1="488.4" x2="200.4" y2="491.2" />
<line x1="721.4" y1="521.7" x2="724.4" y2="530.1" />
<line x1="190.1" y1="482.1" x2="184.7" y2="487.6" />
<line x1="743.8" y1="518" x2="745.3" y2="522.2" />
<line x1="177.2" y1="475.8" x2="174.5" y2="478.6" />
<line x1="766.3" y1="514.3" x2="767.8" y2="518.5" />
<line x1="164.2" y1="469.5" x2="161.5" y2="472.2" />
<line x1="788.8" y1="510.6" x2="790.3" y2="514.8" />
<line x1="151.2" y1="463.2" x2="148.5" y2="465.9" />
<line x1="811.2" y1="506.9" x2="812.7" y2="511.1" />
<line x1="138.3" y1="456.9" x2="135.6" y2="459.6" />
<line x1="833.7" y1="503.3" x2="836.7" y2="511.7" />
<line x1="125.3" y1="450.5" x2="119.9" y2="456" />
<line x1="856.1" y1="499.6" x2="857.6" y2="503.8" />
<line x1="112.4" y1="444.2" x2="109.7" y2="447" />
<line x1="878.6" y1="495.9" x2="880.1" y2="500.1" />
<line x1="99.4" y1="437.9" x2="96.7" y2="440.6" />
</g>
<g font-family="Liberation Sans, sans-serif" fill="#000">
<text x="72.3" y="181" font-size="20.3" text-anchor="end">10</text><text x="73" y="172.5" font-size="12.5">2</text>
<text x="80.3" y="282.6" font-size="20.3" text-anchor="end">10</text>
<text x="80.3" y="389.8" font-size="20.3" text-anchor="end">1</text>
<text x="392.9" y="604.9" font-size="20.3" text-anchor="middle">1.75</text>
<text x="363.7" y="600.7" font-size="20.3" text-anchor="end">1.75</text>
<text x="505.2" y="586.5" font-size="20.3" text-anchor="middle">1.8</text>
<text x="298.9" y="569.1" font-size="20.3" text-anchor="end">1.8</text>
<text x="617.5" y="568.1" font-size="20.3" text-anchor="middle">1.85</text>
<text x="234.1" y="537.5" font-size="20.3" text-anchor="end">1.85</text>
<text x="729.8" y="549.7" font-size="20.3" text-anchor="middle">1.9</text>
<text x="169.3" y="505.9" font-size="20.3" text-anchor="end">1.9</text>
<text x="842.1" y="531.3" font-size="20.3" text-anchor="middle">1.95</text>
<text x="104.5" y="474.3" font-size="20.3" text-anchor="end">1.95</text>
<text transform="translate(31.5,356.5) rotate(-90)" font-size="24" textLength="122" lengthAdjust="spacingAndGlyphs">Frequency</text>
<g transform="translate(519,620.5) rotate(-9.4)"><text x="0" y="0" font-size="24" textLength="135" lengthAdjust="spacingAndGlyphs">inv. mass D</text><text x="135.3" y="-10" font-size="15">0</text><text x="152" y="0" font-size="24" textLength="74" lengthAdjust="spacingAndGlyphs">(GeV/</text><text x="226.5" y="0" font-size="24" textLength="12.5" lengthAdjust="spacingAndGlyphs" font-style="italic">c</text><text x="239.5" y="-10" font-size="15">2</text><text x="248.3" y="0" font-size="24">)</text></g>
<g transform="translate(73,518.5) rotate(26.2)"><text x="0" y="0" font-size="24" textLength="135" lengthAdjust="spacingAndGlyphs">inv. mass D</text><text x="135.3" y="-10" font-size="15">0</text><text x="152" y="0" font-size="24" textLength="74" lengthAdjust="spacingAndGlyphs">(GeV/</text><text x="226.5" y="0" font-size="24" textLength="12.5" lengthAdjust="spacingAndGlyphs" font-style="italic">c</text><text x="239.5" y="-10" font-size="15">2</text><text x="248.3" y="0" font-size="24">)</text><line x1="114" y1="-21.5" x2="143" y2="-21.5" stroke="#000" stroke-width="1.5"/></g>
<text x="15" y="33.8" font-size="20.2" textLength="141.5" lengthAdjust="spacingAndGlyphs">ALICE 3 study,</text>
<text x="166" y="33.8" font-size="20.2" textLength="11.5" lengthAdjust="spacingAndGlyphs" font-style="italic">L</text>
<text x="177.8" y="40.8" font-size="12.5" textLength="15.2" lengthAdjust="spacingAndGlyphs">int</text>
<text x="199" y="33.8" font-size="20.2" textLength="63" lengthAdjust="spacingAndGlyphs">= 3 nb</text>
<text x="263" y="24.6" font-size="12.5" textLength="10.5" lengthAdjust="spacingAndGlyphs">-1</text>
<text x="15.8" y="61.8" font-size="18.9" textLength="139.5" lengthAdjust="spacingAndGlyphs">PYTHIA 8.2, pp,</text>
<text x="163.5" y="61.8" font-size="18.9">√</text>
<line x1="171.5" y1="47.6" x2="183.2" y2="47.6" stroke="#000" stroke-width="1.3"/>
<text x="172" y="61.8" font-size="18.9" textLength="10" lengthAdjust="spacingAndGlyphs" font-style="italic">s</text>
<text x="187.5" y="61.8" font-size="18.9" textLength="96" lengthAdjust="spacingAndGlyphs">= 14 TeV, |</text>
<text x="284" y="61.8" font-size="18.9" textLength="9.5" lengthAdjust="spacingAndGlyphs" font-style="italic">y</text>
<text x="294" y="71.8" font-size="11" textLength="8.3" lengthAdjust="spacingAndGlyphs">D</text>
<text x="303.8" y="61.8" font-size="18.9" textLength="65.5" lengthAdjust="spacingAndGlyphs">| &lt; 1.44</text>
<text x="15.6" y="90.9" font-size="18.9" textLength="14" lengthAdjust="spacingAndGlyphs">D</text>
<text x="30.2" y="77.6" font-size="10.5">0</text>
<text x="35.6" y="90.9" font-size="18.9" textLength="6" lengthAdjust="spacingAndGlyphs">-</text>
<text x="42.8" y="90.9" font-size="18.9" textLength="14" lengthAdjust="spacingAndGlyphs">D</text>
<text x="57.2" y="77.6" font-size="10.5">0</text>
<line x1="42.8" y1="69.9" x2="64.4" y2="69.9" stroke="#000" stroke-width="1.6"/>
<text x="70" y="90.9" font-size="18.9" textLength="189" lengthAdjust="spacingAndGlyphs">azimuthal correlations</text>
<text x="15" y="117" font-size="18.9" textLength="11.5" lengthAdjust="spacingAndGlyphs" font-style="italic">p</text>
<text x="30.5" y="128.2" font-size="12.5" textLength="9.5" lengthAdjust="spacingAndGlyphs">T</text>
<text x="40.5" y="117" font-size="18.9" textLength="115.5" lengthAdjust="spacingAndGlyphs">(D) &gt; 6 GeV/</text>
<text x="156" y="117" font-size="18.9" textLength="10" lengthAdjust="spacingAndGlyphs" font-style="italic">c</text>
</g>
<text x="7.5" y="635.5" font-family="Liberation Mono, monospace" font-weight="bold" font-size="17.6" fill="#acacac" textLength="196" lengthAdjust="spacingAndGlyphs">ALI-SIMUL-509802</text></svg></body></html>
